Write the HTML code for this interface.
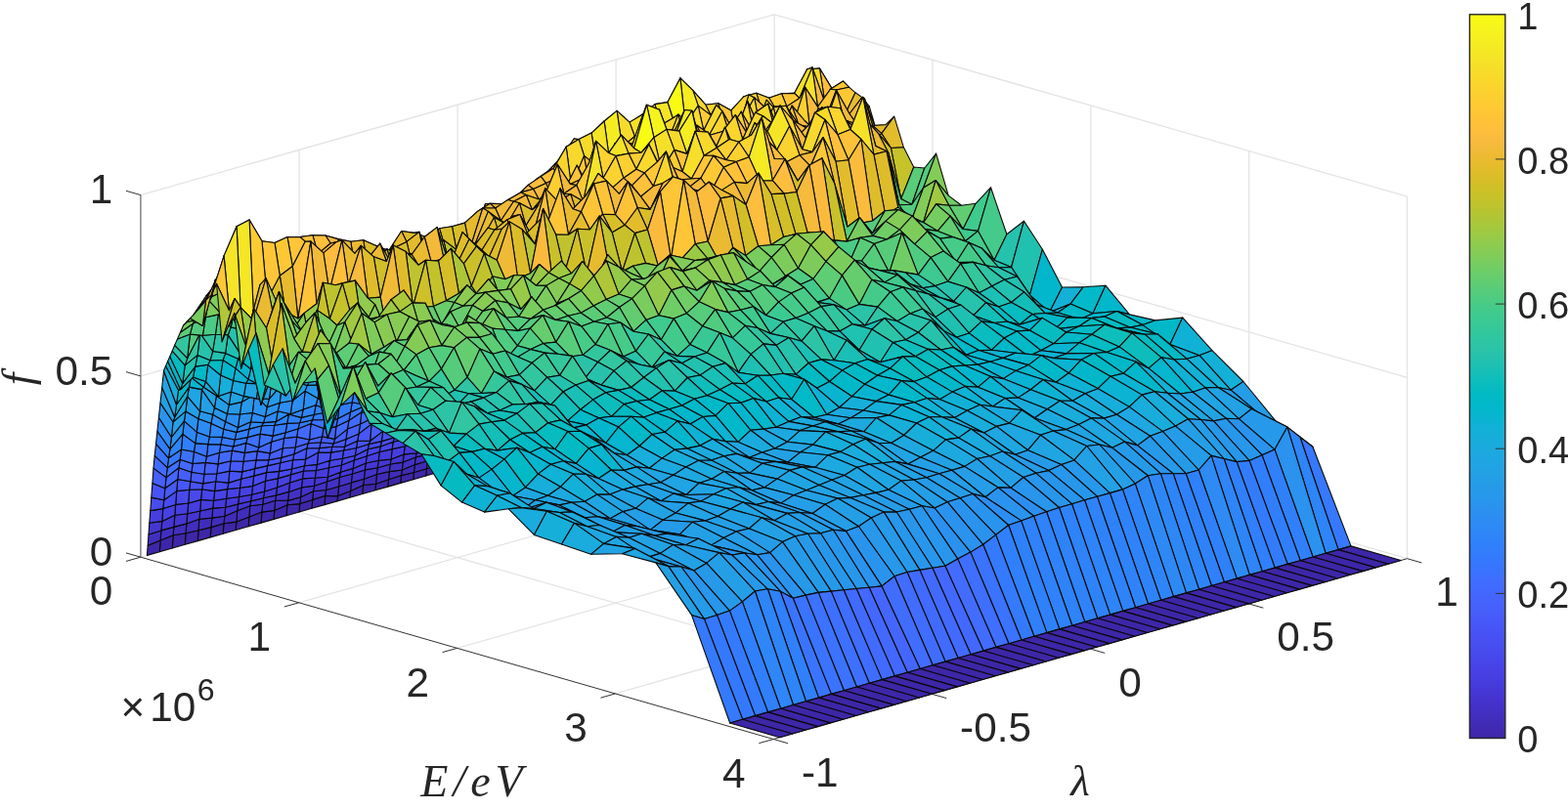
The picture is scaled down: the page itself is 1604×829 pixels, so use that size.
<!DOCTYPE html>
<html lang="en"><head><meta charset="utf-8"><title>f(E, lambda) surface</title>
<style>html,body{margin:0;padding:0;background:#fff}body{width:1604px;height:829px;overflow:hidden}svg{display:block}.t{font-family:"Liberation Sans",Arial,Helvetica,sans-serif;fill:#262626}.m{font-family:"Liberation Serif","DejaVu Serif",serif;font-style:italic;fill:#262626}.g{stroke:#e4e4e4;stroke-width:1.3;fill:none}.a{stroke:#333;stroke-width:1;fill:none}.z{stroke:#777;stroke-width:1.4;fill:none}.s path{stroke:#0a0a0a;stroke-width:1.1;stroke-linejoin:round}</style></head><body>
<svg width="1604" height="829" viewBox="0 0 1604 829">
<rect width="1604" height="829" fill="#fff"/>
<path class="g" d="M305.7,616.8L954,432M467.6,663.4L1115.9,478.5M629.4,709.9L1277.7,525.1M306,524L953.3,710.3M468.1,477.8L1115.4,664.1M630.1,431.6L1277.4,617.9M306,524L306,153.4M468.1,477.8L468.1,107.2M630.1,431.6L630.1,61M792.2,385.4L792.2,14.8M143.9,570.2L792.2,385.4M143.9,384.9L792.2,200.1M143.9,199.6L792.2,14.8M954,432L954,61.4M1115.9,478.5L1115.9,107.9M1277.7,525.1L1277.7,154.5M1439.5,571.7L1439.5,201.1M792.2,385.4L1439.5,571.7M792.2,200.1L1439.5,386.4M792.2,14.8L1439.5,201.1"/>
<path class="z" d="M143.9,570.2L143.9,199.6"/>
<path class="a" d="M143.9,570.2L791.2,756.5M791.2,756.5L1439.5,571.7M143.9,570.2L129,565.9M143.9,384.9L129,380.6M143.9,199.6L129,195.3M143.9,570.2L129,574.4M305.7,616.8L290.8,621M467.6,663.4L452.6,667.6M629.4,709.9L614.5,714.2M791.2,756.5L776.3,760.7M791.2,756.5L806.1,760.8M953.3,710.3L968.2,714.6M1115.4,664.1L1130.2,668.4M1277.4,617.9L1292.3,622.2M1439.5,571.7L1454.4,576"/>
<g class="s">
<path fill="#3e26a8" d="M772.8,390.9L773.5,381.9 786.5,378.6 785.7,387.2Z"/>
<path fill="#412cba" d="M773.5,381.9L774.3,376.7 787.3,371.3 786.5,378.6Z"/>
<path fill="#4330c5" d="M774.3,376.7L775.2,368.6 788.2,363 787.3,371.3Z"/>
<path fill="#4536d4" d="M775.2,368.6L776.2,361.8 789.1,356.3 788.2,363Z"/>
<path fill="#463cdf" d="M776.2,361.8L777.2,355.6 790.1,352 789.1,356.3Z"/>
<path fill="#4742e6" d="M777.2,355.6L778.2,348.3 791.2,347.2 790.1,352Z"/>
<path fill="#4747ec" d="M778.2,348.3L779.4,340.3 792.3,339.3 791.2,347.2Z"/>
<path fill="#484ff2" d="M779.4,340.3L780.6,334.4 793.6,334 792.3,339.3Z"/>
<path fill="#4755f6" d="M780.6,334.4L781.9,327.1 794.9,325.6 793.6,334Z"/>
<path fill="#465dfa" d="M781.9,327.1L783.3,319 796.3,310.9 794.9,325.6Z"/>
<path fill="#4368fd" d="M783.3,319L784.8,311.6 797.8,303.5 796.3,310.9Z"/>
<path fill="#3e70ff" d="M784.8,311.6L786.4,306.4 799.4,300.2 797.8,303.5Z"/>
<path fill="#3876fe" d="M786.4,306.4L788.1,291.2 801.1,292.6 799.4,300.2Z"/>
<path fill="#2f80fa" d="M788.1,291.2L789.9,285.8 802.9,284 801.1,292.6Z"/>
<path fill="#2d89f5" d="M789.9,285.8L791.9,276.8 804.8,282.4 802.9,284Z"/>
<path fill="#2d8bf4" d="M791.9,276.8L794,273.7 806.9,266.4 804.8,282.4Z"/>
<path fill="#2796eb" d="M794,273.7L796.2,258.9 809.1,264.4 806.9,266.4Z"/>
<path fill="#259be7" d="M796.2,258.9L798.6,253.7 811.5,261.4 809.1,264.4Z"/>
<path fill="#249ee6" d="M798.6,253.7L801.1,249.9 814.1,249.7 811.5,261.4Z"/>
<path fill="#1da8e0" d="M801.1,249.9L803.8,230.1 816.8,237.6 814.1,249.7Z"/>
<path fill="#12b1d6" d="M803.8,230.1L806.7,230.5 819.7,221 816.8,237.6Z"/>
<path fill="#01b7ca" d="M806.7,230.5L809.9,212.9 822.8,211 819.7,221Z"/>
<path fill="#16bfb7" d="M809.9,212.9L813.2,193.1 826.1,196.3 822.8,211Z"/>
<path fill="#2ec5a4" d="M813.2,193.1L816.7,168.8 829.7,192.5 826.1,196.3Z"/>
<path fill="#33c69d" d="M816.7,168.8L820.5,148 833.5,158.8 829.7,192.5Z"/>
<path fill="#74cc62" d="M820.5,148L824.6,114.2 837.6,133 833.5,158.8Z"/>
<path fill="#b5c533" d="M824.6,114.2L828.9,109.6 841.9,112.9 837.6,133Z"/>
<path fill="#e0bc2a" d="M828.9,109.6L833.6,70.8 846.5,90 841.9,112.9Z"/>
<path fill="#fec13a" d="M833.6,70.8L838.5,70 851.5,91.4 846.5,90Z"/>
<path fill="#fec03a" d="M838.5,70L843.8,104.8 856.8,131.5 851.5,91.4Z"/>
<path fill="#c5c22a" d="M843.8,104.8L849.5,91.2 862.5,83 856.8,131.5Z"/>
<path fill="#fec835" d="M849.5,91.2L855.6,92 868.5,89.2 862.5,83Z"/>
<path fill="#fec835" d="M855.6,92L862,122.2 875,94.8 868.5,89.2Z"/>
<path fill="#e7bb2e" d="M862,122.2L869,116.5 881.9,99.6 875,94.8Z"/>
<path fill="#f3ba38" d="M869,116.5L876.4,126.9 889.3,108.8 881.9,99.6Z"/>
<path fill="#e6bb2d" d="M876.4,126.9L884.3,100.8 897.2,135.8 889.3,108.8Z"/>
<path fill="#d3bf27" d="M884.3,100.8L892.7,128.5 905.7,127.8 897.2,135.8Z"/>
<path fill="#e6bb2d" d="M892.7,128.5L901.8,136.6 914.7,119.2 905.7,127.8Z"/>
<path fill="#e2bc2b" d="M901.8,136.6L911.4,151.5 924.4,150.8 914.7,119.2Z"/>
<path fill="#c5c22a" d="M911.4,151.5L921.7,203.6 934.7,171 924.4,150.8Z"/>
<path fill="#59cc79" d="M921.7,203.6L932.8,209.2 945.8,172 934.7,171Z"/>
<path fill="#53cc7d" d="M932.8,209.2L944.6,192.3 957.6,157.1 945.8,172Z"/>
<path fill="#83cc57" d="M944.6,192.3L957.2,184.5 970.2,200.1 957.6,157.1Z"/>
<path fill="#6fcd66" d="M957.2,184.5L970.7,210.2 983.6,210.2 970.2,200.1Z"/>
<path fill="#61cd72" d="M970.7,210.2L985.1,234.5 998.1,208.3 983.6,210.2Z"/>
<path fill="#3fca8e" d="M985.1,234.5L1000.5,236.4 1013.5,191.8 998.1,208.3Z"/>
<path fill="#44ca8a" d="M1000.5,236.4L1017,266.3 1029.9,239.8 1013.5,191.8Z"/>
<path fill="#25c2ad" d="M1017,266.3L1034.6,273.5 1047.5,226.2 1029.9,239.8Z"/>
<path fill="#21c1b0" d="M1034.6,273.5L1053.4,301.9 1066.4,255.2 1047.5,226.2Z"/>
<path fill="#02b7cb" d="M1053.4,301.9L1073.5,319.7 1086.5,294 1066.4,255.2Z"/>
<path fill="#13b1d7" d="M1073.5,319.7L1095,311.1 1108,293.8 1086.5,294Z"/>
<path fill="#01b9c8" d="M1095,311.1L1118,320.7 1130.9,292.2 1108,293.8Z"/>
<path fill="#02b7cb" d="M1118,320.7L1142.6,318.5 1155.5,321.9 1130.9,292.2Z"/>
<path fill="#01b8c9" d="M1142.6,318.5L1168.8,332.6 1181.8,327.9 1155.5,321.9Z"/>
<path fill="#01b8c8" d="M1168.8,332.6L1196.9,352.4 1209.8,325.1 1181.8,327.9Z"/>
<path fill="#0fb2d4" d="M1196.9,352.4L1226.9,363.7 1239.9,358.7 1209.8,325.1Z"/>
<path fill="#13b1d7" d="M1226.9,363.7L1259,399.2 1271.9,390.5 1239.9,358.7Z"/>
<path fill="#249de6" d="M1259,399.2L1293.3,427.8 1306.2,432.4 1271.9,390.5Z"/>
<path fill="#2e86f8" d="M1293.3,427.8L1329.9,447.2 1342.9,457.2 1306.2,432.4Z"/>
<path fill="#3678fe" d="M1329.9,447.2L1369.1,562.6 1382,558.9 1342.9,457.2Z"/>
<path fill="#3e26a8" d="M1369.1,562.6L1420.1,577.2 1433,573.5 1382,558.9Z"/>
<path fill="#3e26a8" d="M759.8,394.6L760.6,388.8 773.5,381.9 772.8,390.9Z"/>
<path fill="#412dbb" d="M760.6,388.8L761.4,380 774.3,376.7 773.5,381.9Z"/>
<path fill="#4330c5" d="M761.4,380L762.2,370.7 775.2,368.6 774.3,376.7Z"/>
<path fill="#4536d4" d="M762.2,370.7L763.2,364.4 776.2,361.8 775.2,368.6Z"/>
<path fill="#463cdf" d="M763.2,364.4L764.2,356.1 777.2,355.6 776.2,361.8Z"/>
<path fill="#4743e7" d="M764.2,356.1L765.3,350.1 778.2,348.3 777.2,355.6Z"/>
<path fill="#484aee" d="M765.3,350.1L766.4,343.4 779.4,340.3 778.2,348.3Z"/>
<path fill="#4852f4" d="M766.4,343.4L767.6,337.5 780.6,334.4 779.4,340.3Z"/>
<path fill="#4758f8" d="M767.6,337.5L768.9,331.9 781.9,327.1 780.6,334.4Z"/>
<path fill="#465ffb" d="M768.9,331.9L770.3,322.3 783.3,319 781.9,327.1Z"/>
<path fill="#4368fd" d="M770.3,322.3L771.8,315.6 784.8,311.6 783.3,319Z"/>
<path fill="#3e70ff" d="M771.8,315.6L773.4,306.2 786.4,306.4 784.8,311.6Z"/>
<path fill="#3876fe" d="M773.4,306.2L775.1,297.4 788.1,291.2 786.4,306.4Z"/>
<path fill="#2e85f8" d="M775.1,297.4L777,290.4 789.9,285.8 788.1,291.2Z"/>
<path fill="#2d8bf4" d="M777,290.4L778.9,279.5 791.9,276.8 789.9,285.8Z"/>
<path fill="#2a93ed" d="M778.9,279.5L781,274.2 794,273.7 791.9,276.8Z"/>
<path fill="#2796eb" d="M781,274.2L783.2,264 796.2,258.9 794,273.7Z"/>
<path fill="#21a3e3" d="M783.2,264L785.6,256.4 798.6,253.7 796.2,258.9Z"/>
<path fill="#1ea7e1" d="M785.6,256.4L788.1,249.5 801.1,249.9 798.6,253.7Z"/>
<path fill="#1babde" d="M788.1,249.5L790.9,234.7 803.8,230.1 801.1,249.9Z"/>
<path fill="#02b7cb" d="M790.9,234.7L793.8,229.1 806.7,230.5 803.8,230.1Z"/>
<path fill="#01b7ca" d="M793.8,229.1L796.9,209 809.9,212.9 806.7,230.5Z"/>
<path fill="#19bfb5" d="M796.9,209L800.2,196.3 813.2,193.1 809.9,212.9Z"/>
<path fill="#35c79a" d="M800.2,196.3L803.8,169.1 816.7,168.8 813.2,193.1Z"/>
<path fill="#63cd70" d="M803.8,169.1L807.6,145.1 820.5,148 816.7,168.8Z"/>
<path fill="#98c947" d="M807.6,145.1L811.6,140.1 824.6,114.2 820.5,148Z"/>
<path fill="#e2bc2b" d="M811.6,140.1L816,140.2 828.9,109.6 824.6,114.2Z"/>
<path fill="#ecba32" d="M816,140.2L820.6,99.6 833.6,70.8 828.9,109.6Z"/>
<path fill="#f8d82c" d="M820.6,99.6L825.6,70.9 838.5,70 833.6,70.8Z"/>
<path fill="#f7db2b" d="M825.6,70.9L830.9,68.9 843.8,104.8 838.5,70Z"/>
<path fill="#f9bb3d" d="M830.9,68.9L836.5,109.4 849.5,91.2 843.8,104.8Z"/>
<path fill="#fec835" d="M836.5,109.4L842.6,126.5 855.6,92 849.5,91.2Z"/>
<path fill="#fec834" d="M842.6,126.5L849.1,118.9 862,122.2 855.6,92Z"/>
<path fill="#e7bb2e" d="M849.1,118.9L856,93.2 869,116.5 862,122.2Z"/>
<path fill="#f3ba38" d="M856,93.2L863.4,122.8 876.4,126.9 869,116.5Z"/>
<path fill="#e6bb2d" d="M863.4,122.8L871.3,129.8 884.3,100.8 876.4,126.9Z"/>
<path fill="#fec835" d="M871.3,129.8L879.8,136.2 892.7,128.5 884.3,100.8Z"/>
<path fill="#ebba31" d="M879.8,136.2L888.8,149.3 901.8,136.6 892.7,128.5Z"/>
<path fill="#e2bc2b" d="M888.8,149.3L898.5,136.6 911.4,151.5 901.8,136.6Z"/>
<path fill="#cbc029" d="M898.5,136.6L908.8,156.4 921.7,203.6 911.4,151.5Z"/>
<path fill="#59cc79" d="M908.8,156.4L919.8,209.8 932.8,209.2 921.7,203.6Z"/>
<path fill="#53cc7d" d="M919.8,209.8L931.6,227.7 944.6,192.3 932.8,209.2Z"/>
<path fill="#83cc57" d="M931.6,227.7L944.2,229.1 957.2,184.5 944.6,192.3Z"/>
<path fill="#9fc941" d="M944.2,229.1L957.7,208.9 970.7,210.2 957.2,184.5Z"/>
<path fill="#69cd6a" d="M957.7,208.9L972.1,221.2 985.1,234.5 970.7,210.2Z"/>
<path fill="#3fca8e" d="M972.1,221.2L987.5,246.8 1000.5,236.4 985.1,234.5Z"/>
<path fill="#44ca8a" d="M987.5,246.8L1004,253.9 1017,266.3 1000.5,236.4Z"/>
<path fill="#25c2ad" d="M1004,253.9L1021.6,273.8 1034.6,273.5 1017,266.3Z"/>
<path fill="#21c1b0" d="M1021.6,273.8L1040.4,283 1053.4,301.9 1034.6,273.5Z"/>
<path fill="#02b7cb" d="M1040.4,283L1060.5,311.8 1073.5,319.7 1053.4,301.9Z"/>
<path fill="#13b1d7" d="M1060.5,311.8L1082,320 1095,311.1 1073.5,319.7Z"/>
<path fill="#01b9c8" d="M1082,320L1105,326.7 1118,320.7 1095,311.1Z"/>
<path fill="#02b7cb" d="M1105,326.7L1129.6,324.1 1142.6,318.5 1118,320.7Z"/>
<path fill="#06bbc1" d="M1129.6,324.1L1155.8,335 1168.8,332.6 1142.6,318.5Z"/>
<path fill="#01b8c8" d="M1155.8,335L1183.9,341.8 1196.9,352.4 1168.8,332.6Z"/>
<path fill="#0fb2d4" d="M1183.9,341.8L1213.9,367.2 1226.9,363.7 1196.9,352.4Z"/>
<path fill="#13b1d7" d="M1213.9,367.2L1246,396.5 1259,399.2 1226.9,363.7Z"/>
<path fill="#249de6" d="M1246,396.5L1280.3,418.5 1293.3,427.8 1259,399.2Z"/>
<path fill="#2d8df2" d="M1280.3,418.5L1316.9,437.1 1329.9,447.2 1293.3,427.8Z"/>
<path fill="#2e85f8" d="M1316.9,437.1L1356.1,566.3 1369.1,562.6 1329.9,447.2Z"/>
<path fill="#3e26a8" d="M1356.1,566.3L1407.1,580.9 1420.1,577.2 1369.1,562.6Z"/>
<path fill="#3e26a8" d="M746.8,398.3L747.6,391 760.6,388.8 759.8,394.6Z"/>
<path fill="#402ab5" d="M747.6,391L748.4,383.5 761.4,380 760.6,388.8Z"/>
<path fill="#4331c6" d="M748.4,383.5L749.3,376.2 762.2,370.7 761.4,380Z"/>
<path fill="#4538d7" d="M749.3,376.2L750.2,369.8 763.2,364.4 762.2,370.7Z"/>
<path fill="#463de0" d="M750.2,369.8L751.2,365.8 764.2,356.1 763.2,364.4Z"/>
<path fill="#4746ea" d="M751.2,365.8L752.3,356.4 765.3,350.1 764.2,356.1Z"/>
<path fill="#484cef" d="M752.3,356.4L753.4,346 766.4,343.4 765.3,350.1Z"/>
<path fill="#4852f4" d="M753.4,346L754.7,338.9 767.6,337.5 766.4,343.4Z"/>
<path fill="#4758f8" d="M754.7,338.9L756,332.7 768.9,331.9 767.6,337.5Z"/>
<path fill="#465efb" d="M756,332.7L757.4,323.8 770.3,322.3 768.9,331.9Z"/>
<path fill="#4368fe" d="M757.4,323.8L758.9,318.4 771.8,315.6 770.3,322.3Z"/>
<path fill="#3e6fff" d="M758.9,318.4L760.5,313.6 773.4,306.2 771.8,315.6Z"/>
<path fill="#347afd" d="M760.5,313.6L762.2,302.5 775.1,297.4 773.4,306.2Z"/>
<path fill="#2e83f9" d="M762.2,302.5L764,296 777,290.4 775.1,297.4Z"/>
<path fill="#2d8af5" d="M764,296L765.9,283.6 778.9,279.5 777,290.4Z"/>
<path fill="#2994ed" d="M765.9,283.6L768,276.4 781,274.2 778.9,279.5Z"/>
<path fill="#2699e9" d="M768,276.4L770.2,275.8 783.2,264 781,274.2Z"/>
<path fill="#22a2e4" d="M770.2,275.8L772.6,261 785.6,256.4 783.2,264Z"/>
<path fill="#1da8e0" d="M772.6,261L775.2,244.7 788.1,249.5 785.6,256.4Z"/>
<path fill="#18aedb" d="M775.2,244.7L777.9,238.8 790.9,234.7 788.1,249.5Z"/>
<path fill="#03b7cc" d="M777.9,238.8L780.8,233.3 793.8,229.1 790.9,234.7Z"/>
<path fill="#02bac5" d="M780.8,233.3L783.9,214 796.9,209 793.8,229.1Z"/>
<path fill="#27c2ac" d="M783.9,214L787.2,209.1 800.2,196.3 796.9,209Z"/>
<path fill="#35c79a" d="M787.2,209.1L790.8,163.3 803.8,169.1 800.2,196.3Z"/>
<path fill="#6acd6a" d="M790.8,163.3L794.6,165.3 807.6,145.1 803.8,169.1Z"/>
<path fill="#a8c73b" d="M794.6,165.3L798.7,157.9 811.6,140.1 807.6,145.1Z"/>
<path fill="#b6c532" d="M798.7,157.9L803,135.2 816,140.2 811.6,140.1Z"/>
<path fill="#b9c431" d="M803,135.2L807.6,142.4 820.6,99.6 816,140.2Z"/>
<path fill="#febe3c" d="M807.6,142.4L812.6,95.4 825.6,70.9 820.6,99.6Z"/>
<path fill="#f6de29" d="M812.6,95.4L817.9,100.5 830.9,68.9 825.6,70.9Z"/>
<path fill="#f5e228" d="M817.9,100.5L823.6,89.2 836.5,109.4 830.9,68.9Z"/>
<path fill="#fabb3d" d="M823.6,89.2L829.6,141.7 842.6,126.5 836.5,109.4Z"/>
<path fill="#e3bc2c" d="M829.6,141.7L836.1,145.5 849.1,118.9 842.6,126.5Z"/>
<path fill="#f2ba37" d="M836.1,145.5L843,130.2 856,93.2 849.1,118.9Z"/>
<path fill="#fccf30" d="M843,130.2L850.4,115.2 863.4,122.8 856,93.2Z"/>
<path fill="#f2ba38" d="M850.4,115.2L858.3,135.6 871.3,129.8 863.4,122.8Z"/>
<path fill="#ebba31" d="M858.3,135.6L866.8,124 879.8,136.2 871.3,129.8Z"/>
<path fill="#e4bb2c" d="M866.8,124L875.8,146.4 888.8,149.3 879.8,136.2Z"/>
<path fill="#d1bf27" d="M875.8,146.4L885.5,122.2 898.5,136.6 888.8,149.3Z"/>
<path fill="#ecba33" d="M885.5,122.2L895.8,149.5 908.8,156.4 898.5,136.6Z"/>
<path fill="#cfc028" d="M895.8,149.5L906.9,154.8 919.8,209.8 908.8,156.4Z"/>
<path fill="#5acc77" d="M906.9,154.8L918.7,212.1 931.6,227.7 919.8,209.8Z"/>
<path fill="#3dca90" d="M918.7,212.1L931.3,221.2 944.2,229.1 931.6,227.7Z"/>
<path fill="#41ca8c" d="M931.3,221.2L944.7,227.7 957.7,208.9 944.2,229.1Z"/>
<path fill="#76cc61" d="M944.7,227.7L959.2,236.4 972.1,221.2 957.7,208.9Z"/>
<path fill="#62cd70" d="M959.2,236.4L974.6,242.6 987.5,246.8 972.1,221.2Z"/>
<path fill="#39c994" d="M974.6,242.6L991,248.2 1004,253.9 987.5,246.8Z"/>
<path fill="#36c898" d="M991,248.2L1008.6,271.8 1021.6,273.8 1004,253.9Z"/>
<path fill="#27c2ac" d="M1008.6,271.8L1027.5,286.2 1040.4,283 1021.6,273.8Z"/>
<path fill="#21c1b1" d="M1027.5,286.2L1047.6,298.8 1060.5,311.8 1040.4,283Z"/>
<path fill="#02b7cb" d="M1047.6,298.8L1069.1,320.5 1082,320 1060.5,311.8Z"/>
<path fill="#05b6cd" d="M1069.1,320.5L1092.1,324.9 1105,326.7 1082,320Z"/>
<path fill="#05b6cd" d="M1092.1,324.9L1116.6,325.5 1129.6,324.1 1105,326.7Z"/>
<path fill="#02bbc3" d="M1116.6,325.5L1142.9,335.9 1155.8,335 1129.6,324.1Z"/>
<path fill="#01b9c6" d="M1142.9,335.9L1171,342.2 1183.9,341.8 1155.8,335Z"/>
<path fill="#01bac5" d="M1171,342.2L1201,368 1213.9,367.2 1183.9,341.8Z"/>
<path fill="#12b1d7" d="M1201,368L1233,396.9 1246,396.5 1213.9,367.2Z"/>
<path fill="#22a2e4" d="M1233,396.9L1267.3,428.7 1280.3,418.5 1246,396.5Z"/>
<path fill="#2699ea" d="M1267.3,428.7L1304,460.1 1316.9,437.1 1280.3,418.5Z"/>
<path fill="#2b92ef" d="M1304,460.1L1343.1,570 1356.1,566.3 1316.9,437.1Z"/>
<path fill="#3e26a8" d="M1343.1,570L1394.1,584.6 1407.1,580.9 1356.1,566.3Z"/>
<path fill="#3e26a8" d="M733.9,402L734.6,395.6 747.6,391 746.8,398.3Z"/>
<path fill="#402bb8" d="M734.6,395.6L735.4,388.5 748.4,383.5 747.6,391Z"/>
<path fill="#4331c6" d="M735.4,388.5L736.3,379.7 749.3,376.2 748.4,383.5Z"/>
<path fill="#4536d4" d="M736.3,379.7L737.3,374.2 750.2,369.8 749.3,376.2Z"/>
<path fill="#463cde" d="M737.3,374.2L738.3,368.7 751.2,365.8 750.2,369.8Z"/>
<path fill="#4740e3" d="M738.3,368.7L739.3,362.9 752.3,356.4 751.2,365.8Z"/>
<path fill="#4849ed" d="M739.3,362.9L740.5,352.4 753.4,346 752.3,356.4Z"/>
<path fill="#4854f5" d="M740.5,352.4L741.7,343.6 754.7,338.9 753.4,346Z"/>
<path fill="#475bf9" d="M741.7,343.6L743,336.9 756,332.7 754.7,338.9Z"/>
<path fill="#4561fc" d="M743,336.9L744.4,331.6 757.4,323.8 756,332.7Z"/>
<path fill="#426afe" d="M744.4,331.6L745.9,321.4 758.9,318.4 757.4,323.8Z"/>
<path fill="#3d70ff" d="M745.9,321.4L747.5,313.7 760.5,313.6 758.9,318.4Z"/>
<path fill="#3876fe" d="M747.5,313.7L749.2,308.2 762.2,302.5 760.5,313.6Z"/>
<path fill="#2f82fa" d="M749.2,308.2L751,303 764,296 762.2,302.5Z"/>
<path fill="#2d88f6" d="M751,303L753,287.3 765.9,283.6 764,296Z"/>
<path fill="#2994ed" d="M753,287.3L755.1,281.5 768,276.4 765.9,283.6Z"/>
<path fill="#269ae8" d="M755.1,281.5L757.3,272.5 770.2,275.8 768,276.4Z"/>
<path fill="#259be8" d="M757.3,272.5L759.7,256.8 772.6,261 770.2,275.8Z"/>
<path fill="#1ea7e1" d="M759.7,256.8L762.2,252.9 775.2,244.7 772.6,261Z"/>
<path fill="#0cb3d3" d="M762.2,252.9L764.9,244.9 777.9,238.8 775.2,244.7Z"/>
<path fill="#03b7cc" d="M764.9,244.9L767.8,237.9 780.8,233.3 777.9,238.8Z"/>
<path fill="#01bac5" d="M767.8,237.9L771,225.1 783.9,214 780.8,233.3Z"/>
<path fill="#25c2ad" d="M771,225.1L774.3,191.8 787.2,209.1 783.9,214Z"/>
<path fill="#2dc4a6" d="M774.3,191.8L777.8,189.1 790.8,163.3 787.2,209.1Z"/>
<path fill="#82cc58" d="M777.8,189.1L781.6,177.6 794.6,165.3 790.8,163.3Z"/>
<path fill="#80cc59" d="M781.6,177.6L785.7,166.3 798.7,157.9 794.6,165.3Z"/>
<path fill="#95ca49" d="M785.7,166.3L790,157.5 803,135.2 798.7,157.9Z"/>
<path fill="#cbc129" d="M790,157.5L794.7,122.7 807.6,142.4 803,135.2Z"/>
<path fill="#bfc32d" d="M794.7,122.7L799.6,95.8 812.6,95.4 807.6,142.4Z"/>
<path fill="#fec835" d="M799.6,95.8L804.9,108.9 817.9,100.5 812.6,95.4Z"/>
<path fill="#fec438" d="M804.9,108.9L810.6,130.1 823.6,89.2 817.9,100.5Z"/>
<path fill="#fbd12f" d="M810.6,130.1L816.7,140.5 829.6,141.7 823.6,89.2Z"/>
<path fill="#cdc028" d="M816.7,140.5L823.1,123.5 836.1,145.5 829.6,141.7Z"/>
<path fill="#c9c129" d="M823.1,123.5L830.1,130 843,130.2 836.1,145.5Z"/>
<path fill="#e9bb30" d="M830.1,130L837.5,119.3 850.4,115.2 843,130.2Z"/>
<path fill="#febf3c" d="M837.5,119.3L845.4,134.9 858.3,135.6 850.4,115.2Z"/>
<path fill="#e7bb2e" d="M845.4,134.9L853.8,148.6 866.8,124 858.3,135.6Z"/>
<path fill="#fbbc3d" d="M853.8,148.6L862.9,132.5 875.8,146.4 866.8,124Z"/>
<path fill="#debd29" d="M862.9,132.5L872.5,139.4 885.5,122.2 875.8,146.4Z"/>
<path fill="#fec239" d="M872.5,139.4L882.8,99.4 895.8,149.5 885.5,122.2Z"/>
<path fill="#e2bc2b" d="M882.8,99.4L893.9,158.1 906.9,154.8 895.8,149.5Z"/>
<path fill="#dfbc2a" d="M893.9,158.1L905.7,220 918.7,212.1 906.9,154.8Z"/>
<path fill="#65cd6e" d="M905.7,220L918.3,215.5 931.3,221.2 918.7,212.1Z"/>
<path fill="#59cc79" d="M918.3,215.5L931.8,223.2 944.7,227.7 931.3,221.2Z"/>
<path fill="#53cc7d" d="M931.8,223.2L946.2,234.6 959.2,236.4 944.7,227.7Z"/>
<path fill="#49cb85" d="M946.2,234.6L961.6,244.1 974.6,242.6 959.2,236.4Z"/>
<path fill="#46cb88" d="M961.6,244.1L978.1,268.5 991,248.2 974.6,242.6Z"/>
<path fill="#44cb89" d="M978.1,268.5L995.7,268.4 1008.6,271.8 991,248.2Z"/>
<path fill="#2ec4a5" d="M995.7,268.4L1014.5,292.9 1027.5,286.2 1008.6,271.8Z"/>
<path fill="#22c1b0" d="M1014.5,292.9L1034.6,309.5 1047.6,298.8 1027.5,286.2Z"/>
<path fill="#14beb8" d="M1034.6,309.5L1056.1,321.5 1069.1,320.5 1047.6,298.8Z"/>
<path fill="#01b8ca" d="M1056.1,321.5L1079.1,336.9 1092.1,324.9 1069.1,320.5Z"/>
<path fill="#01b9c7" d="M1079.1,336.9L1103.7,334 1116.6,325.5 1092.1,324.9Z"/>
<path fill="#06bcc0" d="M1103.7,334L1129.9,332.2 1142.9,335.9 1116.6,325.5Z"/>
<path fill="#02bac3" d="M1129.9,332.2L1158,340.9 1171,342.2 1142.9,335.9Z"/>
<path fill="#04bbc1" d="M1158,340.9L1188,365.8 1201,368 1171,342.2Z"/>
<path fill="#0eb2d4" d="M1188,365.8L1220.1,401.3 1233,396.9 1201,368Z"/>
<path fill="#20a5e2" d="M1220.1,401.3L1254.4,428.3 1267.3,428.7 1233,396.9Z"/>
<path fill="#2a93ee" d="M1254.4,428.3L1291,465.7 1304,460.1 1267.3,428.7Z"/>
<path fill="#3080fa" d="M1291,465.7L1330.2,573.7 1343.1,570 1304,460.1Z"/>
<path fill="#3e26a8" d="M1330.2,573.7L1381.2,588.3 1394.1,584.6 1343.1,570Z"/>
<path fill="#3e26a8" d="M720.9,405.7L721.7,400.1 734.6,395.6 733.9,402Z"/>
<path fill="#402bb6" d="M721.7,400.1L722.5,393 735.4,388.5 734.6,395.6Z"/>
<path fill="#4230c4" d="M722.5,393L723.4,384.1 736.3,379.7 735.4,388.5Z"/>
<path fill="#4536d4" d="M723.4,384.1L724.3,377.9 737.3,374.2 736.3,379.7Z"/>
<path fill="#463bdd" d="M724.3,377.9L725.3,370.9 738.3,368.7 737.3,374.2Z"/>
<path fill="#4741e4" d="M725.3,370.9L726.4,363.2 739.3,362.9 738.3,368.7Z"/>
<path fill="#4747eb" d="M726.4,363.2L727.5,357.6 740.5,352.4 739.3,362.9Z"/>
<path fill="#4851f3" d="M727.5,357.6L728.7,348.1 741.7,343.6 740.5,352.4Z"/>
<path fill="#475af9" d="M728.7,348.1L730,342.2 743,336.9 741.7,343.6Z"/>
<path fill="#4660fc" d="M730,342.2L731.4,333.1 744.4,331.6 743,336.9Z"/>
<path fill="#4466fd" d="M731.4,333.1L732.9,329.6 745.9,321.4 744.4,331.6Z"/>
<path fill="#3c71ff" d="M732.9,329.6L734.5,323.2 747.5,313.7 745.9,321.4Z"/>
<path fill="#347afd" d="M734.5,323.2L736.2,314.2 749.2,308.2 747.5,313.7Z"/>
<path fill="#3080fb" d="M736.2,314.2L738.1,302.1 751,303 749.2,308.2Z"/>
<path fill="#2e85f8" d="M738.1,302.1L740,292.5 753,287.3 751,303Z"/>
<path fill="#2994ed" d="M740,292.5L742.1,285.5 755.1,281.5 753,287.3Z"/>
<path fill="#2699e9" d="M742.1,285.5L744.3,281.9 757.3,272.5 755.1,281.5Z"/>
<path fill="#23a1e4" d="M744.3,281.9L746.7,265.4 759.7,256.8 757.3,272.5Z"/>
<path fill="#18addb" d="M746.7,265.4L749.2,245.1 762.2,252.9 759.7,256.8Z"/>
<path fill="#13b0d7" d="M749.2,245.1L752,254.5 764.9,244.9 762.2,252.9Z"/>
<path fill="#06b5cf" d="M752,254.5L754.9,237.6 767.8,237.9 764.9,244.9Z"/>
<path fill="#01b9c6" d="M754.9,237.6L758,243.4 771,225.1 767.8,237.9Z"/>
<path fill="#17bfb6" d="M758,243.4L761.3,216.5 774.3,191.8 771,225.1Z"/>
<path fill="#47cb87" d="M761.3,216.5L764.9,188.4 777.8,189.1 774.3,191.8Z"/>
<path fill="#4fcc81" d="M764.9,188.4L768.7,185.3 781.6,177.6 777.8,189.1Z"/>
<path fill="#6bcd69" d="M768.7,185.3L772.7,175.8 785.7,166.3 781.6,177.6Z"/>
<path fill="#89cb52" d="M772.7,175.8L777.1,147.5 790,157.5 785.7,166.3Z"/>
<path fill="#a2c840" d="M777.1,147.5L781.7,136.4 794.7,122.7 790,157.5Z"/>
<path fill="#ebba31" d="M781.7,136.4L786.7,100.2 799.6,95.8 794.7,122.7Z"/>
<path fill="#fdcb33" d="M786.7,100.2L792,109 804.9,108.9 799.6,95.8Z"/>
<path fill="#febf3b" d="M792,109L797.6,133.3 810.6,130.1 804.9,108.9Z"/>
<path fill="#e6bb2d" d="M797.6,133.3L803.7,136.3 816.7,140.5 810.6,130.1Z"/>
<path fill="#d7be28" d="M803.7,136.3L810.2,108.2 823.1,123.5 816.7,140.5Z"/>
<path fill="#f6ba3b" d="M810.2,108.2L817.1,128.1 830.1,130 823.1,123.5Z"/>
<path fill="#efba35" d="M817.1,128.1L824.5,130.8 837.5,119.3 830.1,130Z"/>
<path fill="#febe3c" d="M824.5,130.8L832.4,138.9 845.4,134.9 837.5,119.3Z"/>
<path fill="#eeba34" d="M832.4,138.9L840.9,109.6 853.8,148.6 845.4,134.9Z"/>
<path fill="#dcbd29" d="M840.9,109.6L849.9,135.4 862.9,132.5 853.8,148.6Z"/>
<path fill="#f9bb3d" d="M849.9,135.4L859.6,110.8 872.5,139.4 862.9,132.5Z"/>
<path fill="#f3ba39" d="M859.6,110.8L869.9,132.5 882.8,99.4 872.5,139.4Z"/>
<path fill="#f6e128" d="M869.9,132.5L880.9,142.5 893.9,158.1 882.8,99.4Z"/>
<path fill="#dfbc2a" d="M880.9,142.5L892.7,226 905.7,220 893.9,158.1Z"/>
<path fill="#5bcc76" d="M892.7,226L905.3,215.7 918.3,215.5 905.7,220Z"/>
<path fill="#6ecd67" d="M905.3,215.7L918.8,214.6 931.8,223.2 918.3,215.5Z"/>
<path fill="#65cd6e" d="M918.8,214.6L933.2,221 946.2,234.6 931.8,223.2Z"/>
<path fill="#55cc7c" d="M933.2,221L948.6,236.8 961.6,244.1 946.2,234.6Z"/>
<path fill="#4acb84" d="M948.6,236.8L965.1,257 978.1,268.5 961.6,244.1Z"/>
<path fill="#2fc5a2" d="M965.1,257L982.7,269.9 995.7,268.4 978.1,268.5Z"/>
<path fill="#34c79b" d="M982.7,269.9L1001.5,299.7 1014.5,292.9 995.7,268.4Z"/>
<path fill="#1cc0b4" d="M1001.5,299.7L1021.6,314.1 1034.6,309.5 1014.5,292.9Z"/>
<path fill="#06bcc0" d="M1021.6,314.1L1043.1,332.2 1056.1,321.5 1034.6,309.5Z"/>
<path fill="#01b9c7" d="M1043.1,332.2L1066.1,325.4 1079.1,336.9 1056.1,321.5Z"/>
<path fill="#08b4d0" d="M1066.1,325.4L1090.7,340 1103.7,334 1079.1,336.9Z"/>
<path fill="#01bac6" d="M1090.7,340L1116.9,342.2 1129.9,332.2 1103.7,334Z"/>
<path fill="#0ebebb" d="M1116.9,342.2L1145,354.9 1158,340.9 1129.9,332.2Z"/>
<path fill="#0dbdbc" d="M1145,354.9L1175,376.9 1188,365.8 1158,340.9Z"/>
<path fill="#05b6ce" d="M1175,376.9L1207.1,403 1220.1,401.3 1188,365.8Z"/>
<path fill="#20a4e3" d="M1207.1,403L1241.4,430.9 1254.4,428.3 1220.1,401.3Z"/>
<path fill="#2797eb" d="M1241.4,430.9L1278,471.4 1291,465.7 1254.4,428.3Z"/>
<path fill="#317efb" d="M1278,471.4L1317.2,577.4 1330.2,573.7 1291,465.7Z"/>
<path fill="#3e26a8" d="M1317.2,577.4L1368.2,592 1381.2,588.3 1330.2,573.7Z"/>
<path fill="#3e26a8" d="M707.9,409.4L708.7,403.7 721.7,400.1 720.9,405.7Z"/>
<path fill="#402ab4" d="M708.7,403.7L709.5,394.5 722.5,393 721.7,400.1Z"/>
<path fill="#422fc2" d="M709.5,394.5L710.4,388.8 723.4,384.1 722.5,393Z"/>
<path fill="#4536d3" d="M710.4,388.8L711.3,380.6 724.3,377.9 723.4,384.1Z"/>
<path fill="#463bdd" d="M711.3,380.6L712.3,373.1 725.3,370.9 724.3,377.9Z"/>
<path fill="#4742e6" d="M712.3,373.1L713.4,367.8 726.4,363.2 725.3,370.9Z"/>
<path fill="#484aee" d="M713.4,367.8L714.5,360.2 727.5,357.6 726.4,363.2Z"/>
<path fill="#4850f2" d="M714.5,360.2L715.8,353.7 728.7,348.1 727.5,357.6Z"/>
<path fill="#4759f8" d="M715.8,353.7L717.1,345.3 730,342.2 728.7,348.1Z"/>
<path fill="#465ffb" d="M717.1,345.3L718.5,339.6 731.4,333.1 730,342.2Z"/>
<path fill="#4368fe" d="M718.5,339.6L720,328.7 732.9,329.6 731.4,333.1Z"/>
<path fill="#406cfe" d="M720,328.7L721.6,324.7 734.5,323.2 732.9,329.6Z"/>
<path fill="#3a73fe" d="M721.6,324.7L723.3,316.6 736.2,314.2 734.5,323.2Z"/>
<path fill="#317dfb" d="M723.3,316.6L725.1,308.3 738.1,302.1 736.2,314.2Z"/>
<path fill="#2d89f5" d="M725.1,308.3L727,294.5 740,292.5 738.1,302.1Z"/>
<path fill="#2a92ee" d="M727,294.5L729.1,288.3 742.1,285.5 740,292.5Z"/>
<path fill="#2699e9" d="M729.1,288.3L731.4,288.7 744.3,281.9 742.1,285.5Z"/>
<path fill="#259ce7" d="M731.4,288.7L733.7,269.7 746.7,265.4 744.3,281.9Z"/>
<path fill="#1caadf" d="M733.7,269.7L736.3,264.1 749.2,245.1 746.7,265.4Z"/>
<path fill="#03b7cc" d="M736.3,264.1L739,260 752,254.5 749.2,245.1Z"/>
<path fill="#0fb2d5" d="M739,260L741.9,244 754.9,237.6 752,254.5Z"/>
<path fill="#04bbc2" d="M741.9,244L745,230.9 758,243.4 754.9,237.6Z"/>
<path fill="#01b9c7" d="M745,230.9L748.3,230.4 761.3,216.5 758,243.4Z"/>
<path fill="#2dc4a6" d="M748.3,230.4L751.9,190.4 764.9,188.4 761.3,216.5Z"/>
<path fill="#58cc79" d="M751.9,190.4L755.7,179.6 768.7,185.3 764.9,188.4Z"/>
<path fill="#61cd71" d="M755.7,179.6L759.8,150.2 772.7,175.8 768.7,185.3Z"/>
<path fill="#7bcc5d" d="M759.8,150.2L764.1,123.6 777.1,147.5 772.7,175.8Z"/>
<path fill="#c1c32c" d="M764.1,123.6L768.7,121.8 781.7,136.4 777.1,147.5Z"/>
<path fill="#d9bd28" d="M768.7,121.8L773.7,95.2 786.7,100.2 781.7,136.4Z"/>
<path fill="#feca33" d="M773.7,95.2L779,111.7 792,109 786.7,100.2Z"/>
<path fill="#fec338" d="M779,111.7L784.7,112.2 797.6,133.3 792,109Z"/>
<path fill="#e7bb2e" d="M784.7,112.2L790.7,117.4 803.7,136.3 797.6,133.3Z"/>
<path fill="#e5bb2d" d="M790.7,117.4L797.2,137.8 810.2,108.2 803.7,136.3Z"/>
<path fill="#fec934" d="M797.2,137.8L804.1,108.3 817.1,128.1 810.2,108.2Z"/>
<path fill="#f7ba3c" d="M804.1,108.3L811.5,123.4 824.5,130.8 817.1,128.1Z"/>
<path fill="#f6ba3c" d="M811.5,123.4L819.4,137.8 832.4,138.9 824.5,130.8Z"/>
<path fill="#eeba34" d="M819.4,137.8L827.9,127.4 840.9,109.6 832.4,138.9Z"/>
<path fill="#fcd12f" d="M827.9,127.4L836.9,111.9 849.9,135.4 840.9,109.6Z"/>
<path fill="#fabb3d" d="M836.9,111.9L846.6,109.3 859.6,110.8 849.9,135.4Z"/>
<path fill="#fad52d" d="M846.6,109.3L856.9,137.7 869.9,132.5 859.6,110.8Z"/>
<path fill="#fec239" d="M856.9,137.7L868,163.8 880.9,142.5 869.9,132.5Z"/>
<path fill="#fbbc3d" d="M868,163.8L879.8,228.6 892.7,226 880.9,142.5Z"/>
<path fill="#56cc7b" d="M879.8,228.6L892.4,238.7 905.3,215.7 892.7,226Z"/>
<path fill="#77cc60" d="M892.4,238.7L905.9,226.4 918.8,214.6 905.3,215.7Z"/>
<path fill="#83cc57" d="M905.9,226.4L920.3,235.1 933.2,221 918.8,214.6Z"/>
<path fill="#7dcc5b" d="M920.3,235.1L935.7,249.8 948.6,236.8 933.2,221Z"/>
<path fill="#62cd71" d="M935.7,249.8L952.1,263.6 965.1,257 948.6,236.8Z"/>
<path fill="#42ca8c" d="M952.1,263.6L969.7,288.1 982.7,269.9 965.1,257Z"/>
<path fill="#37c898" d="M969.7,288.1L988.6,294 1001.5,299.7 982.7,269.9Z"/>
<path fill="#15bfb7" d="M988.6,294L1008.7,309.7 1021.6,314.1 1001.5,299.7Z"/>
<path fill="#04bbc1" d="M1008.7,309.7L1030.2,329 1043.1,332.2 1021.6,314.1Z"/>
<path fill="#06b5cf" d="M1030.2,329L1053.2,338.1 1066.1,325.4 1043.1,332.2Z"/>
<path fill="#07bcc0" d="M1053.2,338.1L1077.7,351.8 1090.7,340 1066.1,325.4Z"/>
<path fill="#01b8c8" d="M1077.7,351.8L1104,350.8 1116.9,342.2 1090.7,340Z"/>
<path fill="#03bbc2" d="M1104,350.8L1132.1,360.5 1145,354.9 1116.9,342.2Z"/>
<path fill="#01b9c7" d="M1132.1,360.5L1162.1,370.3 1175,376.9 1145,354.9Z"/>
<path fill="#10b2d5" d="M1162.1,370.3L1194.1,402.2 1207.1,403 1175,376.9Z"/>
<path fill="#1fa6e2" d="M1194.1,402.2L1228.4,429.5 1241.4,430.9 1207.1,403Z"/>
<path fill="#2797ea" d="M1228.4,429.5L1265.1,472.6 1278,471.4 1241.4,430.9Z"/>
<path fill="#327cfc" d="M1265.1,472.6L1304.2,581.1 1317.2,577.4 1278,471.4Z"/>
<path fill="#3e26a8" d="M1304.2,581.1L1355.2,595.7 1368.2,592 1317.2,577.4Z"/>
<path fill="#3e26a8" d="M695,413.1L695.7,403.6 708.7,403.7 707.9,409.4Z"/>
<path fill="#402ab5" d="M695.7,403.6L696.5,396.9 709.5,394.5 708.7,403.7Z"/>
<path fill="#4331c6" d="M696.5,396.9L697.4,391.8 710.4,388.8 709.5,394.5Z"/>
<path fill="#4435d1" d="M697.4,391.8L698.4,383.4 711.3,380.6 710.4,388.8Z"/>
<path fill="#463cdf" d="M698.4,383.4L699.4,377.8 712.3,373.1 711.3,380.6Z"/>
<path fill="#4743e8" d="M699.4,377.8L700.4,372.6 713.4,367.8 712.3,373.1Z"/>
<path fill="#4849ed" d="M700.4,372.6L701.6,364.5 714.5,360.2 713.4,367.8Z"/>
<path fill="#4851f3" d="M701.6,364.5L702.8,356.6 715.8,353.7 714.5,360.2Z"/>
<path fill="#4757f7" d="M702.8,356.6L704.1,347.9 717.1,345.3 715.8,353.7Z"/>
<path fill="#465ffb" d="M704.1,347.9L705.5,338.4 718.5,339.6 717.1,345.3Z"/>
<path fill="#4465fd" d="M705.5,338.4L707,333.8 720,328.7 718.5,339.6Z"/>
<path fill="#3c71ff" d="M707,333.8L708.6,327.2 721.6,324.7 720,328.7Z"/>
<path fill="#3876fe" d="M708.6,327.2L710.3,319.8 723.3,316.6 721.6,324.7Z"/>
<path fill="#307ffb" d="M710.3,319.8L712.1,303.1 725.1,308.3 723.3,316.6Z"/>
<path fill="#2e87f7" d="M712.1,303.1L714.1,292.4 727,294.5 725.1,308.3Z"/>
<path fill="#2994ed" d="M714.1,292.4L716.2,295.6 729.1,288.3 727,294.5Z"/>
<path fill="#269ae9" d="M716.2,295.6L718.4,296 731.4,288.7 729.1,288.3Z"/>
<path fill="#269ae9" d="M718.4,296L720.8,281.1 733.7,269.7 731.4,288.7Z"/>
<path fill="#1ca9df" d="M720.8,281.1L723.3,264 736.3,264.1 733.7,269.7Z"/>
<path fill="#18aedb" d="M723.3,264L726,242.1 739,260 736.3,264.1Z"/>
<path fill="#12b1d6" d="M726,242.1L728.9,239.2 741.9,244 739,260Z"/>
<path fill="#02bac5" d="M728.9,239.2L732.1,239.5 745,230.9 741.9,244Z"/>
<path fill="#1ac0b4" d="M732.1,239.5L735.4,243.7 748.3,230.4 745,230.9Z"/>
<path fill="#1dc0b3" d="M735.4,243.7L738.9,212.9 751.9,190.4 748.3,230.4Z"/>
<path fill="#5ccc76" d="M738.9,212.9L742.7,183.4 755.7,179.6 751.9,190.4Z"/>
<path fill="#78cc5f" d="M742.7,183.4L746.8,172.5 759.8,150.2 755.7,179.6Z"/>
<path fill="#c0c32d" d="M746.8,172.5L751.1,142.8 764.1,123.6 759.8,150.2Z"/>
<path fill="#f2ba38" d="M751.1,142.8L755.8,108.9 768.7,121.8 764.1,123.6Z"/>
<path fill="#f7ba3c" d="M755.8,108.9L760.7,99 773.7,95.2 768.7,121.8Z"/>
<path fill="#fbd42e" d="M760.7,99L766,97.1 779,111.7 773.7,95.2Z"/>
<path fill="#fec438" d="M766,97.1L771.7,99.9 784.7,112.2 779,111.7Z"/>
<path fill="#fec537" d="M771.7,99.9L777.8,132.8 790.7,117.4 784.7,112.2Z"/>
<path fill="#fec239" d="M777.8,132.8L784.2,102.4 797.2,137.8 790.7,117.4Z"/>
<path fill="#ebba32" d="M784.2,102.4L791.2,110 804.1,108.3 797.2,137.8Z"/>
<path fill="#fccf30" d="M791.2,110L798.6,138.6 811.5,123.4 804.1,108.3Z"/>
<path fill="#fec239" d="M798.6,138.6L806.5,123.6 819.4,137.8 811.5,123.4Z"/>
<path fill="#f5ba3a" d="M806.5,123.6L814.9,140.5 827.9,127.4 819.4,137.8Z"/>
<path fill="#fec239" d="M814.9,140.5L824,141.1 836.9,111.9 827.9,127.4Z"/>
<path fill="#fad52d" d="M824,141.1L833.6,115.2 846.6,109.3 836.9,111.9Z"/>
<path fill="#f7db2b" d="M833.6,115.2L844,122.5 856.9,137.7 846.6,109.3Z"/>
<path fill="#fec03a" d="M844,122.5L855,165.3 868,163.8 856.9,137.7Z"/>
<path fill="#e2bc2b" d="M855,165.3L866.8,232.2 879.8,228.6 868,163.8Z"/>
<path fill="#59cc78" d="M866.8,232.2L879.4,222.7 892.4,238.7 879.8,228.6Z"/>
<path fill="#4bcb84" d="M879.4,222.7L892.9,241.4 905.9,226.4 892.4,238.7Z"/>
<path fill="#6fcd66" d="M892.9,241.4L907.3,245 920.3,235.1 905.9,226.4Z"/>
<path fill="#64cd6f" d="M907.3,245L922.7,238.3 935.7,249.8 920.3,235.1Z"/>
<path fill="#4ecc81" d="M922.7,238.3L939.2,281.1 952.1,263.6 935.7,249.8Z"/>
<path fill="#3dc990" d="M939.2,281.1L956.8,292.6 969.7,288.1 952.1,263.6Z"/>
<path fill="#27c2ab" d="M956.8,292.6L975.6,308.3 988.6,294 969.7,288.1Z"/>
<path fill="#27c2ac" d="M975.6,308.3L995.7,323 1008.7,309.7 988.6,294Z"/>
<path fill="#14beb8" d="M995.7,323L1017.2,330.5 1030.2,329 1008.7,309.7Z"/>
<path fill="#01b9c7" d="M1017.2,330.5L1040.2,338.9 1053.2,338.1 1030.2,329Z"/>
<path fill="#01b8ca" d="M1040.2,338.9L1064.8,358.7 1077.7,351.8 1053.2,338.1Z"/>
<path fill="#09b4d1" d="M1064.8,358.7L1091,361.9 1104,350.8 1077.7,351.8Z"/>
<path fill="#01b9c8" d="M1091,361.9L1119.1,361.5 1132.1,360.5 1104,350.8Z"/>
<path fill="#01b8c9" d="M1119.1,361.5L1149.1,382.1 1162.1,370.3 1132.1,360.5Z"/>
<path fill="#02b7cb" d="M1149.1,382.1L1181.2,400.7 1194.1,402.2 1162.1,370.3Z"/>
<path fill="#1ca9df" d="M1181.2,400.7L1215.5,428.8 1228.4,429.5 1194.1,402.2Z"/>
<path fill="#259ce7" d="M1215.5,428.8L1252.1,469.5 1265.1,472.6 1228.4,429.5Z"/>
<path fill="#307ffb" d="M1252.1,469.5L1291.3,584.7 1304.2,581.1 1265.1,472.6Z"/>
<path fill="#3e26a8" d="M1291.3,584.7L1342.3,599.4 1355.2,595.7 1304.2,581.1Z"/>
<path fill="#3e26a8" d="M682,416.8L682.8,408.6 695.7,403.6 695,413.1Z"/>
<path fill="#412dbc" d="M682.8,408.6L683.6,400.1 696.5,396.9 695.7,403.6Z"/>
<path fill="#4332c9" d="M683.6,400.1L684.5,393.8 697.4,391.8 696.5,396.9Z"/>
<path fill="#4536d3" d="M684.5,393.8L685.4,385.8 698.4,383.4 697.4,391.8Z"/>
<path fill="#463de0" d="M685.4,385.8L686.4,379.1 699.4,377.8 698.4,383.4Z"/>
<path fill="#4742e7" d="M686.4,379.1L687.5,373.6 700.4,372.6 699.4,377.8Z"/>
<path fill="#4848ec" d="M687.5,373.6L688.6,366.3 701.6,364.5 700.4,372.6Z"/>
<path fill="#4850f3" d="M688.6,366.3L689.8,358.4 702.8,356.6 701.6,364.5Z"/>
<path fill="#4758f8" d="M689.8,358.4L691.1,351.4 704.1,347.9 702.8,356.6Z"/>
<path fill="#4661fc" d="M691.1,351.4L692.5,342.4 705.5,338.4 704.1,347.9Z"/>
<path fill="#416afe" d="M692.5,342.4L694,335.3 707,333.8 705.5,338.4Z"/>
<path fill="#3e70ff" d="M694,335.3L695.6,326.2 708.6,327.2 707,333.8Z"/>
<path fill="#3777fe" d="M695.6,326.2L697.3,320.9 710.3,319.8 708.6,327.2Z"/>
<path fill="#307ffb" d="M697.3,320.9L699.2,310.6 712.1,303.1 710.3,319.8Z"/>
<path fill="#2c8ff1" d="M699.2,310.6L701.1,295.6 714.1,292.4 712.1,303.1Z"/>
<path fill="#2699e9" d="M701.1,295.6L703.2,297.7 716.2,295.6 714.1,292.4Z"/>
<path fill="#2797eb" d="M703.2,297.7L705.4,290.8 718.4,296 716.2,295.6Z"/>
<path fill="#2797eb" d="M705.4,290.8L707.8,272.9 720.8,281.1 718.4,296Z"/>
<path fill="#21a3e3" d="M707.8,272.9L710.3,267.2 723.3,264 720.8,281.1Z"/>
<path fill="#13b0d7" d="M710.3,267.2L713.1,249.8 726,242.1 723.3,264Z"/>
<path fill="#07bcbf" d="M713.1,249.8L716,253.4 728.9,239.2 726,242.1Z"/>
<path fill="#0ebebb" d="M716,253.4L719.1,235.6 732.1,239.5 728.9,239.2Z"/>
<path fill="#10beba" d="M719.1,235.6L722.4,239.3 735.4,243.7 732.1,239.5Z"/>
<path fill="#09bcbe" d="M722.4,239.3L726,231.5 738.9,212.9 735.4,243.7Z"/>
<path fill="#39c895" d="M726,231.5L729.8,206.8 742.7,183.4 738.9,212.9Z"/>
<path fill="#78cc5f" d="M729.8,206.8L733.8,165.7 746.8,172.5 742.7,183.4Z"/>
<path fill="#95ca49" d="M733.8,165.7L738.2,176.9 751.1,142.8 746.8,172.5Z"/>
<path fill="#d9be28" d="M738.2,176.9L742.8,119.8 755.8,108.9 751.1,142.8Z"/>
<path fill="#fec735" d="M742.8,119.8L747.8,113.1 760.7,99 755.8,108.9Z"/>
<path fill="#fbd32e" d="M747.8,113.1L753.1,140.4 766,97.1 760.7,99Z"/>
<path fill="#f9d72c" d="M753.1,140.4L758.7,123.4 771.7,99.9 766,97.1Z"/>
<path fill="#fad62d" d="M758.7,123.4L764.8,103.7 777.8,132.8 771.7,99.9Z"/>
<path fill="#f5ba3b" d="M764.8,103.7L771.3,136.8 784.2,102.4 777.8,132.8Z"/>
<path fill="#f9d72c" d="M771.3,136.8L778.2,132.9 791.2,110 784.2,102.4Z"/>
<path fill="#fcd12f" d="M778.2,132.9L785.6,106.2 798.6,138.6 791.2,110Z"/>
<path fill="#f6ba3b" d="M785.6,106.2L793.5,136.2 806.5,123.6 798.6,138.6Z"/>
<path fill="#fec735" d="M793.5,136.2L802,124.2 814.9,140.5 806.5,123.6Z"/>
<path fill="#f9bb3d" d="M802,124.2L811,122.8 824,141.1 814.9,140.5Z"/>
<path fill="#fbbc3d" d="M811,122.8L820.7,152.8 833.6,115.2 824,141.1Z"/>
<path fill="#f8d92c" d="M820.7,152.8L831,155.6 844,122.5 833.6,115.2Z"/>
<path fill="#fad42e" d="M831,155.6L842,140.5 855,165.3 844,122.5Z"/>
<path fill="#e6bb2d" d="M842,140.5L853.8,188.1 866.8,232.2 855,165.3Z"/>
<path fill="#59cc78" d="M853.8,188.1L866.4,247.1 879.4,222.7 866.8,232.2Z"/>
<path fill="#78cc5f" d="M866.4,247.1L879.9,243.2 892.9,241.4 879.4,222.7Z"/>
<path fill="#55cc7b" d="M879.9,243.2L894.3,249.4 907.3,245 892.9,241.4Z"/>
<path fill="#56cc7a" d="M894.3,249.4L909.7,279.1 922.7,238.3 907.3,245Z"/>
<path fill="#70cd65" d="M909.7,279.1L926.2,278.9 939.2,281.1 922.7,238.3Z"/>
<path fill="#2ec4a4" d="M926.2,278.9L943.8,294.7 956.8,292.6 939.2,281.1Z"/>
<path fill="#26c2ac" d="M943.8,294.7L962.6,304.9 975.6,308.3 956.8,292.6Z"/>
<path fill="#12beb9" d="M962.6,304.9L982.7,312.1 995.7,323 975.6,308.3Z"/>
<path fill="#02bbc3" d="M982.7,312.1L1004.2,328.9 1017.2,330.5 995.7,323Z"/>
<path fill="#02bac5" d="M1004.2,328.9L1027.2,346 1040.2,338.9 1017.2,330.5Z"/>
<path fill="#01b9c7" d="M1027.2,346L1051.8,364.7 1064.8,358.7 1040.2,338.9Z"/>
<path fill="#0eb2d4" d="M1051.8,364.7L1078,366.6 1091,361.9 1064.8,358.7Z"/>
<path fill="#07b5d0" d="M1078,366.6L1106.1,368.2 1119.1,361.5 1091,361.9Z"/>
<path fill="#01b9c6" d="M1106.1,368.2L1136.1,385.2 1149.1,382.1 1119.1,361.5Z"/>
<path fill="#0db3d3" d="M1136.1,385.2L1168.2,404.1 1181.2,400.7 1149.1,382.1Z"/>
<path fill="#19addc" d="M1168.2,404.1L1202.5,436.1 1215.5,428.8 1181.2,400.7Z"/>
<path fill="#249fe5" d="M1202.5,436.1L1239.1,466.4 1252.1,469.5 1215.5,428.8Z"/>
<path fill="#2e85f8" d="M1239.1,466.4L1278.3,588.4 1291.3,584.7 1252.1,469.5Z"/>
<path fill="#3e26a8" d="M1278.3,588.4L1329.3,603.1 1342.3,599.4 1291.3,584.7Z"/>
<path fill="#3e26a8" d="M669,420.5L669.8,413.4 682.8,408.6 682,416.8Z"/>
<path fill="#412cb9" d="M669.8,413.4L670.6,406.8 683.6,400.1 682.8,408.6Z"/>
<path fill="#4332ca" d="M670.6,406.8L671.5,399.2 684.5,393.8 683.6,400.1Z"/>
<path fill="#4537d6" d="M671.5,399.2L672.4,390.8 685.4,385.8 684.5,393.8Z"/>
<path fill="#473ee1" d="M672.4,390.8L673.4,385.4 686.4,379.1 685.4,385.8Z"/>
<path fill="#4745e9" d="M673.4,385.4L674.5,379.5 687.5,373.6 686.4,379.1Z"/>
<path fill="#484aee" d="M674.5,379.5L675.6,368.4 688.6,366.3 687.5,373.6Z"/>
<path fill="#4852f4" d="M675.6,368.4L676.9,363.5 689.8,358.4 688.6,366.3Z"/>
<path fill="#475af9" d="M676.9,363.5L678.2,353.6 691.1,351.4 689.8,358.4Z"/>
<path fill="#4661fc" d="M678.2,353.6L679.6,349 692.5,342.4 691.1,351.4Z"/>
<path fill="#426afe" d="M679.6,349L681.1,339 694,335.3 692.5,342.4Z"/>
<path fill="#3c72ff" d="M681.1,339L682.7,333.8 695.6,326.2 694,335.3Z"/>
<path fill="#327cfc" d="M682.7,333.8L684.4,330.9 697.3,320.9 695.6,326.2Z"/>
<path fill="#2f82fa" d="M684.4,330.9L686.2,311.5 699.2,310.6 697.3,320.9Z"/>
<path fill="#2d8cf3" d="M686.2,311.5L688.1,307.6 701.1,295.6 699.2,310.6Z"/>
<path fill="#2699e9" d="M688.1,307.6L690.2,299.4 703.2,297.7 701.1,295.6Z"/>
<path fill="#2798ea" d="M690.2,299.4L692.5,292.8 705.4,290.8 703.2,297.7Z"/>
<path fill="#249ee6" d="M692.5,292.8L694.8,277.2 707.8,272.9 705.4,290.8Z"/>
<path fill="#19acdc" d="M694.8,277.2L697.4,266.5 710.3,267.2 707.8,272.9Z"/>
<path fill="#13b1d7" d="M697.4,266.5L700.1,260.8 713.1,249.8 710.3,267.2Z"/>
<path fill="#02bac4" d="M700.1,260.8L703,247.2 716,253.4 713.1,249.8Z"/>
<path fill="#01b9c7" d="M703,247.2L706.1,245.3 719.1,235.6 716,253.4Z"/>
<path fill="#20c1b1" d="M706.1,245.3L709.4,226.7 722.4,239.3 719.1,235.6Z"/>
<path fill="#1ac0b5" d="M709.4,226.7L713,234.1 726,231.5 722.4,239.3Z"/>
<path fill="#29c3aa" d="M713,234.1L716.8,193.8 729.8,206.8 726,231.5Z"/>
<path fill="#4bcb84" d="M716.8,193.8L720.9,175.1 733.8,165.7 729.8,206.8Z"/>
<path fill="#aec637" d="M720.9,175.1L725.2,180.8 738.2,176.9 733.8,165.7Z"/>
<path fill="#97ca48" d="M725.2,180.8L729.8,150.9 742.8,119.8 738.2,176.9Z"/>
<path fill="#fec03a" d="M729.8,150.9L734.8,105.8 747.8,113.1 742.8,119.8Z"/>
<path fill="#fec834" d="M734.8,105.8L740.1,125.6 753.1,140.4 747.8,113.1Z"/>
<path fill="#ebba31" d="M740.1,125.6L745.8,142.5 758.7,123.4 753.1,140.4Z"/>
<path fill="#fec13a" d="M745.8,142.5L751.8,136.8 764.8,103.7 758.7,123.4Z"/>
<path fill="#f9d82c" d="M751.8,136.8L758.3,114.2 771.3,136.8 764.8,103.7Z"/>
<path fill="#f8ba3d" d="M758.3,114.2L765.2,138 778.2,132.9 771.3,136.8Z"/>
<path fill="#febd3c" d="M765.2,138L772.6,115.3 785.6,106.2 778.2,132.9Z"/>
<path fill="#f7db2a" d="M772.6,115.3L780.5,118.8 793.5,136.2 785.6,106.2Z"/>
<path fill="#febf3c" d="M780.5,118.8L789,125.2 802,124.2 793.5,136.2Z"/>
<path fill="#fdcd32" d="M789,125.2L798,108 811,122.8 802,124.2Z"/>
<path fill="#fbd12f" d="M798,108L807.7,129.1 820.7,152.8 811,122.8Z"/>
<path fill="#f5ba3b" d="M807.7,129.1L818,158.8 831,155.6 820.7,152.8Z"/>
<path fill="#f5ba3b" d="M818,158.8L829.1,170.2 842,140.5 831,155.6Z"/>
<path fill="#fec835" d="M829.1,170.2L840.9,161.9 853.8,188.1 842,140.5Z"/>
<path fill="#c9c129" d="M840.9,161.9L853.5,245.9 866.4,247.1 853.8,188.1Z"/>
<path fill="#49cb85" d="M853.5,245.9L867,273.1 879.9,243.2 866.4,247.1Z"/>
<path fill="#59cc78" d="M867,273.1L881.4,267 894.3,249.4 879.9,243.2Z"/>
<path fill="#55cc7c" d="M881.4,267L896.8,282.4 909.7,279.1 894.3,249.4Z"/>
<path fill="#2fc5a3" d="M896.8,282.4L913.2,276.6 926.2,278.9 909.7,279.1Z"/>
<path fill="#34c79c" d="M913.2,276.6L930.8,290.4 943.8,294.7 926.2,278.9Z"/>
<path fill="#28c3aa" d="M930.8,290.4L949.7,300.9 962.6,304.9 943.8,294.7Z"/>
<path fill="#21c1b0" d="M949.7,300.9L969.8,316.2 982.7,312.1 962.6,304.9Z"/>
<path fill="#1ec0b2" d="M969.8,316.2L991.3,340.9 1004.2,328.9 982.7,312.1Z"/>
<path fill="#08bcbf" d="M991.3,340.9L1014.3,358.3 1027.2,346 1004.2,328.9Z"/>
<path fill="#01b7ca" d="M1014.3,358.3L1038.8,361.2 1051.8,364.7 1027.2,346Z"/>
<path fill="#12b1d6" d="M1038.8,361.2L1065.1,363.6 1078,366.6 1051.8,364.7Z"/>
<path fill="#08b4d1" d="M1065.1,363.6L1093.2,381.8 1106.1,368.2 1078,366.6Z"/>
<path fill="#01b8ca" d="M1093.2,381.8L1123.2,397.7 1136.1,385.2 1106.1,368.2Z"/>
<path fill="#0cb3d3" d="M1123.2,397.7L1155.2,416.4 1168.2,404.1 1136.1,385.2Z"/>
<path fill="#18addb" d="M1155.2,416.4L1189.5,441.6 1202.5,436.1 1168.2,404.1Z"/>
<path fill="#259ce7" d="M1189.5,441.6L1226.2,481 1239.1,466.4 1202.5,436.1Z"/>
<path fill="#2d8bf3" d="M1226.2,481L1265.3,592.1 1278.3,588.4 1239.1,466.4Z"/>
<path fill="#3e26a8" d="M1265.3,592.1L1316.3,606.8 1329.3,603.1 1278.3,588.4Z"/>
<path fill="#3e26a8" d="M656.1,424.2L656.8,417.6 669.8,413.4 669,420.5Z"/>
<path fill="#402bb7" d="M656.8,417.6L657.6,410.1 670.6,406.8 669.8,413.4Z"/>
<path fill="#4230c4" d="M657.6,410.1L658.5,404.1 671.5,399.2 670.6,406.8Z"/>
<path fill="#4536d3" d="M658.5,404.1L659.5,396.1 672.4,390.8 671.5,399.2Z"/>
<path fill="#463de0" d="M659.5,396.1L660.5,386.9 673.4,385.4 672.4,390.8Z"/>
<path fill="#4742e6" d="M660.5,386.9L661.5,379.7 674.5,379.5 673.4,385.4Z"/>
<path fill="#4848ec" d="M661.5,379.7L662.7,374.9 675.6,368.4 674.5,379.5Z"/>
<path fill="#4853f5" d="M662.7,374.9L663.9,368.3 676.9,363.5 675.6,368.4Z"/>
<path fill="#4758f8" d="M663.9,368.3L665.2,359.6 678.2,353.6 676.9,363.5Z"/>
<path fill="#4562fc" d="M665.2,359.6L666.6,348.7 679.6,349 678.2,353.6Z"/>
<path fill="#4367fd" d="M666.6,348.7L668.1,342.6 681.1,339 679.6,349Z"/>
<path fill="#3c72ff" d="M668.1,342.6L669.7,334.2 682.7,333.8 681.1,339Z"/>
<path fill="#3678fd" d="M669.7,334.2L671.4,327.4 684.4,330.9 682.7,333.8Z"/>
<path fill="#327cfc" d="M671.4,327.4L673.2,324.3 686.2,311.5 684.4,330.9Z"/>
<path fill="#2c8ef1" d="M673.2,324.3L675.2,306.7 688.1,307.6 686.2,311.5Z"/>
<path fill="#2b92ee" d="M675.2,306.7L677.3,303.4 690.2,299.4 688.1,307.6Z"/>
<path fill="#269ae9" d="M677.3,303.4L679.5,296.6 692.5,292.8 690.2,299.4Z"/>
<path fill="#239fe5" d="M679.5,296.6L681.9,282.2 694.8,277.2 692.5,292.8Z"/>
<path fill="#1aacdd" d="M681.9,282.2L684.4,273 697.4,266.5 694.8,277.2Z"/>
<path fill="#0cb3d3" d="M684.4,273L687.1,271.7 700.1,260.8 697.4,266.5Z"/>
<path fill="#03b7cc" d="M687.1,271.7L690,255.6 703,247.2 700.1,260.8Z"/>
<path fill="#0dbdbc" d="M690,255.6L693.2,242.9 706.1,245.3 703,247.2Z"/>
<path fill="#13beb8" d="M693.2,242.9L696.5,224.1 709.4,226.7 706.1,245.3Z"/>
<path fill="#31c6a0" d="M696.5,224.1L700,212.6 713,234.1 709.4,226.7Z"/>
<path fill="#2bc3a8" d="M700,212.6L703.8,189.2 716.8,193.8 713,234.1Z"/>
<path fill="#70cd65" d="M703.8,189.2L707.9,165.2 720.9,175.1 716.8,193.8Z"/>
<path fill="#a1c840" d="M707.9,165.2L712.2,178.5 725.2,180.8 720.9,175.1Z"/>
<path fill="#96ca48" d="M712.2,178.5L716.9,167.8 729.8,150.9 725.2,180.8Z"/>
<path fill="#dabd28" d="M716.9,167.8L721.8,107.2 734.8,105.8 729.8,150.9Z"/>
<path fill="#fad42e" d="M721.8,107.2L727.1,117.9 740.1,125.6 734.8,105.8Z"/>
<path fill="#fec13a" d="M727.1,117.9L732.8,107.5 745.8,142.5 740.1,125.6Z"/>
<path fill="#f0ba36" d="M732.8,107.5L738.9,113.8 751.8,136.8 745.8,142.5Z"/>
<path fill="#fabb3d" d="M738.9,113.8L745.3,134.5 758.3,114.2 751.8,136.8Z"/>
<path fill="#fbd22f" d="M745.3,134.5L752.3,117.6 765.2,138 758.3,114.2Z"/>
<path fill="#fcbd3d" d="M752.3,117.6L759.7,142.4 772.6,115.3 765.2,138Z"/>
<path fill="#fad62d" d="M759.7,142.4L767.6,142.7 780.5,118.8 772.6,115.3Z"/>
<path fill="#fad42e" d="M767.6,142.7L776,143.4 789,125.2 780.5,118.8Z"/>
<path fill="#fcd030" d="M776,143.4L785.1,134.4 798,108 789,125.2Z"/>
<path fill="#f5e526" d="M785.1,134.4L794.7,153.5 807.7,129.1 798,108Z"/>
<path fill="#fbd22f" d="M794.7,153.5L805.1,165.5 818,158.8 807.7,129.1Z"/>
<path fill="#f6ba3b" d="M805.1,165.5L816.1,185.1 829.1,170.2 818,158.8Z"/>
<path fill="#eabb30" d="M816.1,185.1L827.9,168.9 840.9,161.9 829.1,170.2Z"/>
<path fill="#fabb3d" d="M827.9,168.9L840.5,243 853.5,245.9 840.9,161.9Z"/>
<path fill="#53cc7d" d="M840.5,243L854,250.5 867,273.1 853.5,245.9Z"/>
<path fill="#30c5a1" d="M854,250.5L868.4,266.6 881.4,267 867,273.1Z"/>
<path fill="#3bc993" d="M868.4,266.6L883.8,273.9 896.8,282.4 881.4,267Z"/>
<path fill="#2fc5a2" d="M883.8,273.9L900.3,276.9 913.2,276.6 896.8,282.4Z"/>
<path fill="#3ac993" d="M900.3,276.9L917.9,281.4 930.8,290.4 913.2,276.6Z"/>
<path fill="#31c6a0" d="M917.9,281.4L936.7,297.5 949.7,300.9 930.8,290.4Z"/>
<path fill="#2cc4a7" d="M936.7,297.5L956.8,324.6 969.8,316.2 949.7,300.9Z"/>
<path fill="#1ec0b2" d="M956.8,324.6L978.3,345.2 991.3,340.9 969.8,316.2Z"/>
<path fill="#01b9c8" d="M978.3,345.2L1001.3,358.5 1014.3,358.3 991.3,340.9Z"/>
<path fill="#0db3d3" d="M1001.3,358.5L1025.9,366.4 1038.8,361.2 1014.3,358.3Z"/>
<path fill="#06b5cf" d="M1025.9,366.4L1052.1,373.6 1065.1,363.6 1038.8,361.2Z"/>
<path fill="#01b8c9" d="M1052.1,373.6L1080.2,391.2 1093.2,381.8 1065.1,363.6Z"/>
<path fill="#0eb2d4" d="M1080.2,391.2L1110.2,402.8 1123.2,397.7 1093.2,381.8Z"/>
<path fill="#18aedb" d="M1110.2,402.8L1142.3,424.3 1155.2,416.4 1123.2,397.7Z"/>
<path fill="#1ea7e1" d="M1142.3,424.3L1176.6,446.3 1189.5,441.6 1155.2,416.4Z"/>
<path fill="#259be8" d="M1176.6,446.3L1213.2,484.7 1226.2,481 1189.5,441.6Z"/>
<path fill="#2f81fa" d="M1213.2,484.7L1252.4,595.8 1265.3,592.1 1226.2,481Z"/>
<path fill="#3e26a8" d="M1252.4,595.8L1303.4,610.5 1316.3,606.8 1265.3,592.1Z"/>
<path fill="#3e26a8" d="M643.1,427.9L643.9,422 656.8,417.6 656.1,424.2Z"/>
<path fill="#402bb6" d="M643.9,422L644.7,414.6 657.6,410.1 656.8,417.6Z"/>
<path fill="#4330c5" d="M644.7,414.6L645.6,405 658.5,404.1 657.6,410.1Z"/>
<path fill="#4435d1" d="M645.6,405L646.5,397.8 659.5,396.1 658.5,404.1Z"/>
<path fill="#463bde" d="M646.5,397.8L647.5,391.8 660.5,386.9 659.5,396.1Z"/>
<path fill="#4744e9" d="M647.5,391.8L648.6,384.9 661.5,379.7 660.5,386.9Z"/>
<path fill="#484cef" d="M648.6,384.9L649.7,377.5 662.7,374.9 661.5,379.7Z"/>
<path fill="#4851f3" d="M649.7,377.5L650.9,368.3 663.9,368.3 662.7,374.9Z"/>
<path fill="#4757f7" d="M650.9,368.3L652.2,363.1 665.2,359.6 663.9,368.3Z"/>
<path fill="#4660fc" d="M652.2,363.1L653.6,353.8 666.6,348.7 665.2,359.6Z"/>
<path fill="#416bfe" d="M653.6,353.8L655.1,341 668.1,342.6 666.6,348.7Z"/>
<path fill="#3b72ff" d="M655.1,341L656.7,338.9 669.7,334.2 668.1,342.6Z"/>
<path fill="#327bfc" d="M656.7,338.9L658.4,338.7 671.4,327.4 669.7,334.2Z"/>
<path fill="#2f83f9" d="M658.4,338.7L660.3,325.6 673.2,324.3 671.4,327.4Z"/>
<path fill="#2e86f7" d="M660.3,325.6L662.2,312.9 675.2,306.7 673.2,324.3Z"/>
<path fill="#2896eb" d="M662.2,312.9L664.3,306.5 677.3,303.4 675.2,306.7Z"/>
<path fill="#2699e9" d="M664.3,306.5L666.5,289.7 679.5,296.6 677.3,303.4Z"/>
<path fill="#249fe5" d="M666.5,289.7L668.9,286.3 681.9,282.2 679.5,296.6Z"/>
<path fill="#1babde" d="M668.9,286.3L671.5,281.1 684.4,273 681.9,282.2Z"/>
<path fill="#11b1d6" d="M671.5,281.1L674.2,264.6 687.1,271.7 684.4,273Z"/>
<path fill="#0db3d3" d="M674.2,264.6L677.1,255.6 690,255.6 687.1,271.7Z"/>
<path fill="#05bbc1" d="M677.1,255.6L680.2,246.8 693.2,242.9 690,255.6Z"/>
<path fill="#20c1b1" d="M680.2,246.8L683.5,228.5 696.5,224.1 693.2,242.9Z"/>
<path fill="#37c897" d="M683.5,228.5L687.1,207.5 700,212.6 696.5,224.1Z"/>
<path fill="#4ccb83" d="M687.1,207.5L690.9,188 703.8,189.2 700,212.6Z"/>
<path fill="#85cb56" d="M690.9,188L694.9,172 707.9,165.2 703.8,189.2Z"/>
<path fill="#c0c32d" d="M694.9,172L699.3,143.3 712.2,178.5 707.9,165.2Z"/>
<path fill="#a5c83e" d="M699.3,143.3L703.9,139.5 716.9,167.8 712.2,178.5Z"/>
<path fill="#c0c32d" d="M703.9,139.5L708.9,92.6 721.8,107.2 716.9,167.8Z"/>
<path fill="#f9d62d" d="M708.9,92.6L714.2,108.1 727.1,117.9 721.8,107.2Z"/>
<path fill="#fdcd32" d="M714.2,108.1L719.8,133.5 732.8,107.5 727.1,117.9Z"/>
<path fill="#f8da2b" d="M719.8,133.5L725.9,137.4 738.9,113.8 732.8,107.5Z"/>
<path fill="#fad52e" d="M725.9,137.4L732.4,145.8 745.3,134.5 738.9,113.8Z"/>
<path fill="#fec13a" d="M732.4,145.8L739.3,134.5 752.3,117.6 745.3,134.5Z"/>
<path fill="#fad52e" d="M739.3,134.5L746.7,160.8 759.7,142.4 752.3,117.6Z"/>
<path fill="#febd3c" d="M746.7,160.8L754.6,160 767.6,142.7 759.7,142.4Z"/>
<path fill="#febf3b" d="M754.6,160L763.1,147.1 776,143.4 767.6,142.7Z"/>
<path fill="#fec13a" d="M763.1,147.1L772.1,125.7 785.1,134.4 776,143.4Z"/>
<path fill="#fdcd32" d="M772.1,125.7L781.8,140.2 794.7,153.5 785.1,134.4Z"/>
<path fill="#fdbd3d" d="M781.8,140.2L792.1,162.5 805.1,165.5 794.7,153.5Z"/>
<path fill="#f2ba38" d="M792.1,162.5L803.1,162.7 816.1,185.1 805.1,165.5Z"/>
<path fill="#d6be28" d="M803.1,162.7L814.9,196.5 827.9,168.9 816.1,185.1Z"/>
<path fill="#f6ba3c" d="M814.9,196.5L827.5,243.3 840.5,243 827.9,168.9Z"/>
<path fill="#61cd71" d="M827.5,243.3L841,253.3 854,250.5 840.5,243Z"/>
<path fill="#5acc78" d="M841,253.3L855.4,252.9 868.4,266.6 854,250.5Z"/>
<path fill="#41ca8c" d="M855.4,252.9L870.8,267.3 883.8,273.9 868.4,266.6Z"/>
<path fill="#3dc991" d="M870.8,267.3L887.3,273.9 900.3,276.9 883.8,273.9Z"/>
<path fill="#3fca8e" d="M887.3,273.9L904.9,289 917.9,281.4 900.3,276.9Z"/>
<path fill="#40ca8d" d="M904.9,289L923.7,293.9 936.7,297.5 917.9,281.4Z"/>
<path fill="#33c69d" d="M923.7,293.9L943.8,316.1 956.8,324.6 936.7,297.5Z"/>
<path fill="#14beb8" d="M943.8,316.1L965.3,338.5 978.3,345.2 956.8,324.6Z"/>
<path fill="#01b8c9" d="M965.3,338.5L988.3,363.2 1001.3,358.5 978.3,345.2Z"/>
<path fill="#07b5d0" d="M988.3,363.2L1012.9,370.2 1025.9,366.4 1001.3,358.5Z"/>
<path fill="#08b4d1" d="M1012.9,370.2L1039.2,379.4 1052.1,373.6 1025.9,366.4Z"/>
<path fill="#08b5d0" d="M1039.2,379.4L1067.2,388.5 1080.2,391.2 1052.1,373.6Z"/>
<path fill="#16afd9" d="M1067.2,388.5L1097.2,410.2 1110.2,402.8 1080.2,391.2Z"/>
<path fill="#19addc" d="M1097.2,410.2L1129.3,428.1 1142.3,424.3 1110.2,402.8Z"/>
<path fill="#21a4e3" d="M1129.3,428.1L1163.6,455.9 1176.6,446.3 1142.3,424.3Z"/>
<path fill="#269ae9" d="M1163.6,455.9L1200.2,484.7 1213.2,484.7 1176.6,446.3Z"/>
<path fill="#2f81fa" d="M1200.2,484.7L1239.4,599.5 1252.4,595.8 1213.2,484.7Z"/>
<path fill="#3e26a8" d="M1239.4,599.5L1290.4,614.2 1303.4,610.5 1252.4,595.8Z"/>
<path fill="#3e26a8" d="M630.1,431.6L630.9,423.7 643.9,422 643.1,427.9Z"/>
<path fill="#402ab5" d="M630.9,423.7L631.7,417.6 644.7,414.6 643.9,422Z"/>
<path fill="#4230c3" d="M631.7,417.6L632.6,409.9 645.6,405 644.7,414.6Z"/>
<path fill="#4537d5" d="M632.6,409.9L633.5,403.5 646.5,397.8 645.6,405Z"/>
<path fill="#463de0" d="M633.5,403.5L634.5,396.6 647.5,391.8 646.5,397.8Z"/>
<path fill="#4743e7" d="M634.5,396.6L635.6,388 648.6,384.9 647.5,391.8Z"/>
<path fill="#484aee" d="M635.6,388L636.7,382.5 649.7,377.5 648.6,384.9Z"/>
<path fill="#4852f4" d="M636.7,382.5L638,375.2 650.9,368.3 649.7,377.5Z"/>
<path fill="#475bf9" d="M638,375.2L639.3,364.4 652.2,363.1 650.9,368.3Z"/>
<path fill="#4660fc" d="M639.3,364.4L640.7,358.4 653.6,353.8 652.2,363.1Z"/>
<path fill="#426afe" d="M640.7,358.4L642.2,347 655.1,341 653.6,353.8Z"/>
<path fill="#3678fe" d="M642.2,347L643.8,337.4 656.7,338.9 655.1,341Z"/>
<path fill="#337afd" d="M643.8,337.4L645.5,334.9 658.4,338.7 656.7,338.9Z"/>
<path fill="#337bfc" d="M645.5,334.9L647.3,334.4 660.3,325.6 658.4,338.7Z"/>
<path fill="#2d88f6" d="M647.3,334.4L649.2,325.4 662.2,312.9 660.3,325.6Z"/>
<path fill="#2994ed" d="M649.2,325.4L651.3,308.4 664.3,306.5 662.2,312.9Z"/>
<path fill="#269ae9" d="M651.3,308.4L653.6,301.5 666.5,289.7 664.3,306.5Z"/>
<path fill="#1ea8e1" d="M653.6,301.5L655.9,295.4 668.9,286.3 666.5,289.7Z"/>
<path fill="#1babde" d="M655.9,295.4L658.5,275.6 671.5,281.1 668.9,286.3Z"/>
<path fill="#16afd9" d="M658.5,275.6L661.2,267.8 674.2,264.6 671.5,281.1Z"/>
<path fill="#01b8c8" d="M661.2,267.8L664.1,263.7 677.1,255.6 674.2,264.6Z"/>
<path fill="#0bbdbd" d="M664.1,263.7L667.2,249.7 680.2,246.8 677.1,255.6Z"/>
<path fill="#1fc1b1" d="M667.2,249.7L670.6,247.6 683.5,228.5 680.2,246.8Z"/>
<path fill="#36c898" d="M670.6,247.6L674.1,204.8 687.1,207.5 683.5,228.5Z"/>
<path fill="#5fcd73" d="M674.1,204.8L677.9,183.7 690.9,188 687.1,207.5Z"/>
<path fill="#91ca4c" d="M677.9,183.7L682,160 694.9,172 690.9,188Z"/>
<path fill="#b9c430" d="M682,160L686.3,148.9 699.3,143.3 694.9,172Z"/>
<path fill="#f1ba37" d="M686.3,148.9L690.9,107.6 703.9,139.5 699.3,143.3Z"/>
<path fill="#f8ba3d" d="M690.9,107.6L695.9,79.9 708.9,92.6 703.9,139.5Z"/>
<path fill="#f5ea23" d="M695.9,79.9L701.2,127.1 714.2,108.1 708.9,92.6Z"/>
<path fill="#f7db2a" d="M701.2,127.1L706.9,129.4 719.8,133.5 714.2,108.1Z"/>
<path fill="#fec239" d="M706.9,129.4L712.9,128.2 725.9,137.4 719.8,133.5Z"/>
<path fill="#fec03b" d="M712.9,128.2L719.4,143.9 732.4,145.8 725.9,137.4Z"/>
<path fill="#fabb3d" d="M719.4,143.9L726.3,138.3 739.3,134.5 732.4,145.8Z"/>
<path fill="#fec736" d="M726.3,138.3L733.7,155 746.7,160.8 739.3,134.5Z"/>
<path fill="#ebba31" d="M733.7,155L741.6,130.2 754.6,160 746.7,160.8Z"/>
<path fill="#efba36" d="M741.6,130.2L750.1,159.4 763.1,147.1 754.6,160Z"/>
<path fill="#fec13a" d="M750.1,159.4L759.1,155.6 772.1,125.7 763.1,147.1Z"/>
<path fill="#f8da2b" d="M759.1,155.6L768.8,137.9 781.8,140.2 772.1,125.7Z"/>
<path fill="#fdce31" d="M768.8,137.9L779.1,120.4 792.1,162.5 781.8,140.2Z"/>
<path fill="#fabb3d" d="M779.1,120.4L790.2,184.7 803.1,162.7 792.1,162.5Z"/>
<path fill="#fdbd3d" d="M790.2,184.7L802,198.1 814.9,196.5 803.1,162.7Z"/>
<path fill="#cec028" d="M802,198.1L814.6,241.6 827.5,243.3 814.9,196.5Z"/>
<path fill="#69cd6a" d="M814.6,241.6L828.1,238 841,253.3 827.5,243.3Z"/>
<path fill="#5ccc76" d="M828.1,238L842.5,237 855.4,252.9 841,253.3Z"/>
<path fill="#66cd6d" d="M842.5,237L857.9,252.6 870.8,267.3 855.4,252.9Z"/>
<path fill="#50cc80" d="M857.9,252.6L874.3,266.2 887.3,273.9 870.8,267.3Z"/>
<path fill="#4ccb83" d="M874.3,266.2L891.9,286.3 904.9,289 887.3,273.9Z"/>
<path fill="#3ac993" d="M891.9,286.3L910.8,298.7 923.7,293.9 904.9,289Z"/>
<path fill="#3bc992" d="M910.8,298.7L930.9,320.9 943.8,316.1 923.7,293.9Z"/>
<path fill="#2ac3a9" d="M930.9,320.9L952.4,327.9 965.3,338.5 943.8,316.1Z"/>
<path fill="#0bbdbd" d="M952.4,327.9L975.4,355.5 988.3,363.2 965.3,338.5Z"/>
<path fill="#09b4d1" d="M975.4,355.5L999.9,373.1 1012.9,370.2 988.3,363.2Z"/>
<path fill="#09b4d1" d="M999.9,373.1L1026.2,387.6 1039.2,379.4 1012.9,370.2Z"/>
<path fill="#0bb3d2" d="M1026.2,387.6L1054.3,398.7 1067.2,388.5 1039.2,379.4Z"/>
<path fill="#0db3d3" d="M1054.3,398.7L1084.3,410.3 1097.2,410.2 1067.2,388.5Z"/>
<path fill="#1baade" d="M1084.3,410.3L1116.3,427.9 1129.3,428.1 1097.2,410.2Z"/>
<path fill="#21a4e3" d="M1116.3,427.9L1150.6,452.1 1163.6,455.9 1129.3,428.1Z"/>
<path fill="#2895ec" d="M1150.6,452.1L1187.3,484.7 1200.2,484.7 1163.6,455.9Z"/>
<path fill="#2e85f8" d="M1187.3,484.7L1226.5,603.2 1239.4,599.5 1200.2,484.7Z"/>
<path fill="#3e26a8" d="M1226.5,603.2L1277.4,617.9 1290.4,614.2 1239.4,599.5Z"/>
<path fill="#3e26a8" d="M617.2,435.3L617.9,428.5 630.9,423.7 630.1,431.6Z"/>
<path fill="#412cb9" d="M617.9,428.5L618.7,420.2 631.7,417.6 630.9,423.7Z"/>
<path fill="#4330c5" d="M618.7,420.2L619.6,414.5 632.6,409.9 631.7,417.6Z"/>
<path fill="#4536d3" d="M619.6,414.5L620.6,407.1 633.5,403.5 632.6,409.9Z"/>
<path fill="#463bde" d="M620.6,407.1L621.6,401.1 634.5,396.6 633.5,403.5Z"/>
<path fill="#4742e6" d="M621.6,401.1L622.6,394.7 635.6,388 634.5,396.6Z"/>
<path fill="#484bee" d="M622.6,394.7L623.8,384.2 636.7,382.5 635.6,388Z"/>
<path fill="#4850f3" d="M623.8,384.2L625,376.2 638,375.2 636.7,382.5Z"/>
<path fill="#4758f8" d="M625,376.2L626.3,369.4 639.3,364.4 638,375.2Z"/>
<path fill="#4562fc" d="M626.3,369.4L627.7,363.3 640.7,358.4 639.3,364.4Z"/>
<path fill="#4269fe" d="M627.7,363.3L629.2,353.7 642.2,347 640.7,358.4Z"/>
<path fill="#3875fe" d="M629.2,353.7L630.8,349.7 643.8,337.4 642.2,347Z"/>
<path fill="#3080fb" d="M630.8,349.7L632.5,339.3 645.5,334.9 643.8,337.4Z"/>
<path fill="#2f82f9" d="M632.5,339.3L634.3,332.6 647.3,334.4 645.5,334.9Z"/>
<path fill="#2e83f9" d="M634.3,332.6L636.3,330.1 649.2,325.4 647.3,334.4Z"/>
<path fill="#2d8cf3" d="M636.3,330.1L638.4,322 651.3,308.4 649.2,325.4Z"/>
<path fill="#259be8" d="M638.4,322L640.6,302.2 653.6,301.5 651.3,308.4Z"/>
<path fill="#22a1e4" d="M640.6,302.2L643,286.8 655.9,295.4 653.6,301.5Z"/>
<path fill="#1ea7e1" d="M643,286.8L645.5,279.2 658.5,275.6 655.9,295.4Z"/>
<path fill="#08b4d1" d="M645.5,279.2L648.2,279.2 661.2,267.8 658.5,275.6Z"/>
<path fill="#01b9c7" d="M648.2,279.2L651.2,270.5 664.1,263.7 661.2,267.8Z"/>
<path fill="#04bbc2" d="M651.2,270.5L654.3,266.9 667.2,249.7 664.1,263.7Z"/>
<path fill="#21c1b0" d="M654.3,266.9L657.6,242.4 670.6,247.6 667.2,249.7Z"/>
<path fill="#26c2ad" d="M657.6,242.4L661.1,227 674.1,204.8 670.6,247.6Z"/>
<path fill="#6ecd67" d="M661.1,227L664.9,200.9 677.9,183.7 674.1,204.8Z"/>
<path fill="#a4c83e" d="M664.9,200.9L669,186.8 682,160 677.9,183.7Z"/>
<path fill="#d9be28" d="M669,186.8L673.3,161.6 686.3,148.9 682,160Z"/>
<path fill="#eeba34" d="M673.3,161.6L678,135.2 690.9,107.6 686.3,148.9Z"/>
<path fill="#f7dd2a" d="M678,135.2L682.9,104.6 695.9,79.9 690.9,107.6Z"/>
<path fill="#f9fb15" d="M682.9,104.6L688.2,121 701.2,127.1 695.9,79.9Z"/>
<path fill="#fdcb33" d="M688.2,121L693.9,117.1 706.9,129.4 701.2,127.1Z"/>
<path fill="#feca33" d="M693.9,117.1L700,144.5 712.9,128.2 706.9,129.4Z"/>
<path fill="#fdcd31" d="M700,144.5L706.4,151.1 719.4,143.9 712.9,128.2Z"/>
<path fill="#febf3b" d="M706.4,151.1L713.4,162.6 726.3,138.3 719.4,143.9Z"/>
<path fill="#fec736" d="M713.4,162.6L720.8,164.1 733.7,155 726.3,138.3Z"/>
<path fill="#f9ba3d" d="M720.8,164.1L728.7,158.8 741.6,130.2 733.7,155Z"/>
<path fill="#fad42e" d="M728.7,158.8L737.1,156.6 750.1,159.4 741.6,130.2Z"/>
<path fill="#f9bb3d" d="M737.1,156.6L746.2,142.5 759.1,155.6 750.1,159.4Z"/>
<path fill="#febf3b" d="M746.2,142.5L755.8,145.3 768.8,137.9 759.1,155.6Z"/>
<path fill="#fad42e" d="M755.8,145.3L766.2,160.8 779.1,120.4 768.8,137.9Z"/>
<path fill="#f5ea23" d="M766.2,160.8L777.2,185 790.2,184.7 779.1,120.4Z"/>
<path fill="#e4bb2c" d="M777.2,185L789,198.6 802,198.1 790.2,184.7Z"/>
<path fill="#d2bf27" d="M789,198.6L801.6,242.5 814.6,241.6 802,198.1Z"/>
<path fill="#76cc60" d="M801.6,242.5L815.1,239.2 828.1,238 814.6,241.6Z"/>
<path fill="#89cb52" d="M815.1,239.2L829.5,250.6 842.5,237 828.1,238Z"/>
<path fill="#96ca48" d="M829.5,250.6L844.9,267.7 857.9,252.6 842.5,237Z"/>
<path fill="#7acc5d" d="M844.9,267.7L861.4,281.9 874.3,266.2 857.9,252.6Z"/>
<path fill="#65cd6e" d="M861.4,281.9L879,311.4 891.9,286.3 874.3,266.2Z"/>
<path fill="#45cb89" d="M879,311.4L897.8,314.1 910.8,298.7 891.9,286.3Z"/>
<path fill="#3ac994" d="M897.8,314.1L917.9,328.7 930.9,320.9 910.8,298.7Z"/>
<path fill="#28c3ab" d="M917.9,328.7L939.4,340.2 952.4,327.9 930.9,320.9Z"/>
<path fill="#27c2ac" d="M939.4,340.2L962.4,358 975.4,355.5 952.4,327.9Z"/>
<path fill="#02bac4" d="M962.4,358L987,374 999.9,373.1 975.4,355.5Z"/>
<path fill="#07b5d0" d="M987,374L1013.2,385.3 1026.2,387.6 999.9,373.1Z"/>
<path fill="#13b1d7" d="M1013.2,385.3L1041.3,407.1 1054.3,398.7 1026.2,387.6Z"/>
<path fill="#16afd9" d="M1041.3,407.1L1071.3,418.7 1084.3,410.3 1054.3,398.7Z"/>
<path fill="#19addc" d="M1071.3,418.7L1103.4,434.6 1116.3,427.9 1084.3,410.3Z"/>
<path fill="#1ea7e1" d="M1103.4,434.6L1137.7,458.2 1150.6,452.1 1116.3,427.9Z"/>
<path fill="#259be8" d="M1137.7,458.2L1174.3,486.7 1187.3,484.7 1150.6,452.1Z"/>
<path fill="#2d88f6" d="M1174.3,486.7L1213.5,606.9 1226.5,603.2 1187.3,484.7Z"/>
<path fill="#3e26a8" d="M1213.5,606.9L1264.5,621.6 1277.4,617.9 1226.5,603.2Z"/>
<path fill="#3e26a8" d="M604.2,439L605,432.8 617.9,428.5 617.2,435.3Z"/>
<path fill="#402bb7" d="M605,432.8L605.8,423.3 618.7,420.2 617.9,428.5Z"/>
<path fill="#4331c7" d="M605.8,423.3L606.7,418.2 619.6,414.5 618.7,420.2Z"/>
<path fill="#4435d2" d="M606.7,418.2L607.6,410.7 620.6,407.1 619.6,414.5Z"/>
<path fill="#463cde" d="M607.6,410.7L608.6,403.4 621.6,401.1 620.6,407.1Z"/>
<path fill="#4741e5" d="M608.6,403.4L609.7,394.9 622.6,394.7 621.6,401.1Z"/>
<path fill="#4848ec" d="M609.7,394.9L610.8,389.7 623.8,384.2 622.6,394.7Z"/>
<path fill="#4852f4" d="M610.8,389.7L612,379.8 625,376.2 623.8,384.2Z"/>
<path fill="#475af9" d="M612,379.8L613.3,372 626.3,369.4 625,376.2Z"/>
<path fill="#4561fc" d="M613.3,372L614.7,367.7 627.7,363.3 626.3,369.4Z"/>
<path fill="#4368fd" d="M614.7,367.7L616.2,353.5 629.2,353.7 627.7,363.3Z"/>
<path fill="#3b72ff" d="M616.2,353.5L617.8,349.7 630.8,349.7 629.2,353.7Z"/>
<path fill="#3777fe" d="M617.8,349.7L619.5,341.3 632.5,339.3 630.8,349.7Z"/>
<path fill="#2f82fa" d="M619.5,341.3L621.4,333.2 634.3,332.6 632.5,339.3Z"/>
<path fill="#2d88f6" d="M621.4,333.2L623.3,329.4 636.3,330.1 634.3,332.6Z"/>
<path fill="#2d8bf4" d="M623.3,329.4L625.4,315.5 638.4,322 636.3,330.1Z"/>
<path fill="#2a93ee" d="M625.4,315.5L627.6,317.5 640.6,302.2 638.4,322Z"/>
<path fill="#21a4e3" d="M627.6,317.5L630,301.2 643,286.8 640.6,302.2Z"/>
<path fill="#15afd9" d="M630,301.2L632.6,295.9 645.5,279.2 643,286.8Z"/>
<path fill="#08b4d1" d="M632.6,295.9L635.3,283.7 648.2,279.2 645.5,279.2Z"/>
<path fill="#07b5d0" d="M635.3,283.7L638.2,274.3 651.2,270.5 648.2,279.2Z"/>
<path fill="#01bac5" d="M638.2,274.3L641.3,255.9 654.3,266.9 651.2,270.5Z"/>
<path fill="#06bcc0" d="M641.3,255.9L644.6,239.5 657.6,242.4 654.3,266.9Z"/>
<path fill="#30c5a1" d="M644.6,239.5L648.2,210.2 661.1,227 657.6,242.4Z"/>
<path fill="#45cb88" d="M648.2,210.2L652,196.4 664.9,200.9 661.1,227Z"/>
<path fill="#83cc57" d="M652,196.4L656,198.8 669,186.8 664.9,200.9Z"/>
<path fill="#a8c73b" d="M656,198.8L660.4,147.8 673.3,161.6 669,186.8Z"/>
<path fill="#dfbc2a" d="M660.4,147.8L665,120.4 678,135.2 673.3,161.6Z"/>
<path fill="#fec338" d="M665,120.4L670,106.6 682.9,104.6 678,135.2Z"/>
<path fill="#f5e526" d="M670,106.6L675.3,128.4 688.2,121 682.9,104.6Z"/>
<path fill="#fad52d" d="M675.3,128.4L680.9,150.6 693.9,117.1 688.2,121Z"/>
<path fill="#f7db2a" d="M680.9,150.6L687,148.1 700,144.5 693.9,117.1Z"/>
<path fill="#fec03a" d="M687,148.1L693.5,126.9 706.4,151.1 700,144.5Z"/>
<path fill="#fcbc3d" d="M693.5,126.9L700.4,112.5 713.4,162.6 706.4,151.1Z"/>
<path fill="#f0ba36" d="M700.4,112.5L707.8,113.2 720.8,164.1 713.4,162.6Z"/>
<path fill="#f1ba37" d="M707.8,113.2L715.7,149.1 728.7,158.8 720.8,164.1Z"/>
<path fill="#fbbc3d" d="M715.7,149.1L724.2,135.2 737.1,156.6 728.7,158.8Z"/>
<path fill="#febf3b" d="M724.2,135.2L733.2,151.2 746.2,142.5 737.1,156.6Z"/>
<path fill="#fcd030" d="M733.2,151.2L742.9,163.8 755.8,145.3 746.2,142.5Z"/>
<path fill="#fcd030" d="M742.9,163.8L753.2,165.5 766.2,160.8 755.8,145.3Z"/>
<path fill="#fec338" d="M753.2,165.5L764.2,187.6 777.2,185 766.2,160.8Z"/>
<path fill="#eabb30" d="M764.2,187.6L776,177.2 789,198.6 777.2,185Z"/>
<path fill="#d8be28" d="M776,177.2L788.6,250.8 801.6,242.5 789,198.6Z"/>
<path fill="#7ecc5b" d="M788.6,250.8L802.1,250.3 815.1,239.2 801.6,242.5Z"/>
<path fill="#8fca4d" d="M802.1,250.3L816.5,274.5 829.5,250.6 815.1,239.2Z"/>
<path fill="#7dcc5b" d="M816.5,274.5L831.9,285.5 844.9,267.7 829.5,250.6Z"/>
<path fill="#5fcd73" d="M831.9,285.5L848.4,305.4 861.4,281.9 844.9,267.7Z"/>
<path fill="#4acb84" d="M848.4,305.4L866,317.1 879,311.4 861.4,281.9Z"/>
<path fill="#2bc3a8" d="M866,317.1L884.8,333.2 897.8,314.1 879,311.4Z"/>
<path fill="#2ec4a5" d="M884.8,333.2L904.9,325.7 917.9,328.7 897.8,314.1Z"/>
<path fill="#22c1b0" d="M904.9,325.7L926.4,347.7 939.4,340.2 917.9,328.7Z"/>
<path fill="#18bfb6" d="M926.4,347.7L949.4,357.4 962.4,358 939.4,340.2Z"/>
<path fill="#02bbc3" d="M949.4,357.4L974,374.9 987,374 962.4,358Z"/>
<path fill="#04b6cd" d="M974,374.9L1000.3,396.3 1013.2,385.3 987,374Z"/>
<path fill="#09b4d1" d="M1000.3,396.3L1028.3,407.5 1041.3,407.1 1013.2,385.3Z"/>
<path fill="#1aabdd" d="M1028.3,407.5L1058.3,427.8 1071.3,418.7 1041.3,407.1Z"/>
<path fill="#1ca9df" d="M1058.3,427.8L1090.4,439.6 1103.4,434.6 1071.3,418.7Z"/>
<path fill="#20a4e3" d="M1090.4,439.6L1124.7,455 1137.7,458.2 1103.4,434.6Z"/>
<path fill="#2699e9" d="M1124.7,455L1161.3,495 1174.3,486.7 1137.7,458.2Z"/>
<path fill="#2d8af5" d="M1161.3,495L1200.5,610.6 1213.5,606.9 1174.3,486.7Z"/>
<path fill="#3e26a8" d="M1200.5,610.6L1251.5,625.3 1264.5,621.6 1213.5,606.9Z"/>
<path fill="#3e26a8" d="M591.2,442.7L592,437.1 605,432.8 604.2,439Z"/>
<path fill="#402ab6" d="M592,437.1L592.8,428.7 605.8,423.3 605,432.8Z"/>
<path fill="#4331c8" d="M592.8,428.7L593.7,420.8 606.7,418.2 605.8,423.3Z"/>
<path fill="#4435d2" d="M593.7,420.8L594.6,414.5 607.6,410.7 606.7,418.2Z"/>
<path fill="#463cde" d="M594.6,414.5L595.6,406.1 608.6,403.4 607.6,410.7Z"/>
<path fill="#4743e7" d="M595.6,406.1L596.7,399.8 609.7,394.9 608.6,403.4Z"/>
<path fill="#484bef" d="M596.7,399.8L597.8,391.3 610.8,389.7 609.7,394.9Z"/>
<path fill="#4851f3" d="M597.8,391.3L599.1,383.8 612,379.8 610.8,389.7Z"/>
<path fill="#475af9" d="M599.1,383.8L600.4,376.5 613.3,372 612,379.8Z"/>
<path fill="#4562fc" d="M600.4,376.5L601.8,369.1 614.7,367.7 613.3,372Z"/>
<path fill="#4367fd" d="M601.8,369.1L603.3,359.3 616.2,353.5 614.7,367.7Z"/>
<path fill="#3876fe" d="M603.3,359.3L604.9,348.7 617.8,349.7 616.2,353.5Z"/>
<path fill="#337bfd" d="M604.9,348.7L606.6,344 619.5,341.3 617.8,349.7Z"/>
<path fill="#2e83f9" d="M606.6,344L608.4,332.4 621.4,333.2 619.5,341.3Z"/>
<path fill="#2d8bf3" d="M608.4,332.4L610.3,331.7 623.3,329.4 621.4,333.2Z"/>
<path fill="#2c8ff0" d="M610.3,331.7L612.4,322.6 625.4,315.5 623.3,329.4Z"/>
<path fill="#259be7" d="M612.4,322.6L614.7,319.5 627.6,317.5 625.4,315.5Z"/>
<path fill="#269ae8" d="M614.7,319.5L617,307.5 630,301.2 627.6,317.5Z"/>
<path fill="#1da8e0" d="M617,307.5L619.6,308.4 632.6,295.9 630,301.2Z"/>
<path fill="#19acdc" d="M619.6,308.4L622.3,277.8 635.3,283.7 632.6,295.9Z"/>
<path fill="#08b4d1" d="M622.3,277.8L625.2,265.5 638.2,274.3 635.3,283.7Z"/>
<path fill="#01b9c6" d="M625.2,265.5L628.3,244.3 641.3,255.9 638.2,274.3Z"/>
<path fill="#23c1af" d="M628.3,244.3L631.7,225.7 644.6,239.5 641.3,255.9Z"/>
<path fill="#36c898" d="M631.7,225.7L635.2,210.2 648.2,210.2 644.6,239.5Z"/>
<path fill="#72cd63" d="M635.2,210.2L639,195.5 652,196.4 648.2,210.2Z"/>
<path fill="#97ca47" d="M639,195.5L643.1,186.1 656,198.8 652,196.4Z"/>
<path fill="#94ca4a" d="M643.1,186.1L647.4,164.2 660.4,147.8 656,198.8Z"/>
<path fill="#fabb3d" d="M647.4,164.2L652,130.9 665,120.4 660.4,147.8Z"/>
<path fill="#f9d72d" d="M652,130.9L657,117.2 670,106.6 665,120.4Z"/>
<path fill="#f5e725" d="M657,117.2L662.3,125.1 675.3,128.4 670,106.6Z"/>
<path fill="#fcd12f" d="M662.3,125.1L668,155.2 680.9,150.6 675.3,128.4Z"/>
<path fill="#fdbd3d" d="M668,155.2L674,113.9 687,148.1 680.9,150.6Z"/>
<path fill="#fec03a" d="M674,113.9L680.5,152.9 693.5,126.9 687,148.1Z"/>
<path fill="#f8d92c" d="M680.5,152.9L687.4,147.7 700.4,112.5 693.5,126.9Z"/>
<path fill="#f5ea23" d="M687.4,147.7L694.8,134.1 707.8,113.2 700.4,112.5Z"/>
<path fill="#f5ec22" d="M694.8,134.1L702.7,157.4 715.7,149.1 707.8,113.2Z"/>
<path fill="#fec835" d="M702.7,157.4L711.2,134.3 724.2,135.2 715.7,149.1Z"/>
<path fill="#f8d92b" d="M711.2,134.3L720.2,159.2 733.2,151.2 724.2,135.2Z"/>
<path fill="#fdcb33" d="M720.2,159.2L729.9,159.3 742.9,163.8 733.2,151.2Z"/>
<path fill="#fec13a" d="M729.9,159.3L740.2,171.2 753.2,165.5 742.9,163.8Z"/>
<path fill="#fec239" d="M740.2,171.2L751.3,186.4 764.2,187.6 753.2,165.5Z"/>
<path fill="#ecba32" d="M751.3,186.4L763.1,209.5 776,177.2 764.2,187.6Z"/>
<path fill="#fdbd3d" d="M763.1,209.5L775.7,251.8 788.6,250.8 776,177.2Z"/>
<path fill="#72cd63" d="M775.7,251.8L789.2,263.5 802.1,250.3 788.6,250.8Z"/>
<path fill="#7dcc5b" d="M789.2,263.5L803.6,282.5 816.5,274.5 802.1,250.3Z"/>
<path fill="#4ecc81" d="M803.6,282.5L819,291 831.9,285.5 816.5,274.5Z"/>
<path fill="#42ca8c" d="M819,291L835.4,309.4 848.4,305.4 831.9,285.5Z"/>
<path fill="#2fc5a2" d="M835.4,309.4L853,311.8 866,317.1 848.4,305.4Z"/>
<path fill="#28c3ab" d="M853,311.8L871.9,331.7 884.8,333.2 866,317.1Z"/>
<path fill="#15bfb8" d="M871.9,331.7L892,337 904.9,325.7 884.8,333.2Z"/>
<path fill="#2cc4a7" d="M892,337L913.5,350.5 926.4,347.7 904.9,325.7Z"/>
<path fill="#0fbebb" d="M913.5,350.5L936.5,364.8 949.4,357.4 926.4,347.7Z"/>
<path fill="#09bcbe" d="M936.5,364.8L961,378.7 974,374.9 949.4,357.4Z"/>
<path fill="#01b8ca" d="M961,378.7L987.3,395.4 1000.3,396.3 974,374.9Z"/>
<path fill="#14b0d8" d="M987.3,395.4L1015.4,416 1028.3,407.5 1000.3,396.3Z"/>
<path fill="#18aedb" d="M1015.4,416L1045.4,419.7 1058.3,427.8 1028.3,407.5Z"/>
<path fill="#1fa5e2" d="M1045.4,419.7L1077.4,441.1 1090.4,439.6 1058.3,427.8Z"/>
<path fill="#21a3e3" d="M1077.4,441.1L1111.7,456.5 1124.7,455 1090.4,439.6Z"/>
<path fill="#249fe6" d="M1111.7,456.5L1148.4,500.9 1161.3,495 1124.7,455Z"/>
<path fill="#2e85f8" d="M1148.4,500.9L1187.6,614.3 1200.5,610.6 1161.3,495Z"/>
<path fill="#3e26a8" d="M1187.6,614.3L1238.5,629 1251.5,625.3 1200.5,610.6Z"/>
<path fill="#3e26a8" d="M578.3,446.4L579,438.2 592,437.1 591.2,442.7Z"/>
<path fill="#402ab4" d="M579,438.2L579.8,433.7 592.8,428.7 592,437.1Z"/>
<path fill="#4330c5" d="M579.8,433.7L580.7,425.2 593.7,420.8 592.8,428.7Z"/>
<path fill="#4536d4" d="M580.7,425.2L581.7,417.3 594.6,414.5 593.7,420.8Z"/>
<path fill="#463cde" d="M581.7,417.3L582.7,409.6 595.6,406.1 594.6,414.5Z"/>
<path fill="#4744e8" d="M582.7,409.6L583.7,403.5 596.7,399.8 595.6,406.1Z"/>
<path fill="#484aee" d="M583.7,403.5L584.9,396.1 597.8,391.3 596.7,399.8Z"/>
<path fill="#4853f4" d="M584.9,396.1L586.1,388.9 599.1,383.8 597.8,391.3Z"/>
<path fill="#475af9" d="M586.1,388.9L587.4,379.9 600.4,376.5 599.1,383.8Z"/>
<path fill="#4562fc" d="M587.4,379.9L588.8,372.2 601.8,369.1 600.4,376.5Z"/>
<path fill="#4269fe" d="M588.8,372.2L590.3,364.1 603.3,359.3 601.8,369.1Z"/>
<path fill="#3a74fe" d="M590.3,364.1L591.9,352.7 604.9,348.7 603.3,359.3Z"/>
<path fill="#307ffb" d="M591.9,352.7L593.6,347.4 606.6,344 604.9,348.7Z"/>
<path fill="#2e84f8" d="M593.6,347.4L595.4,337.4 608.4,332.4 606.6,344Z"/>
<path fill="#2c8ff0" d="M595.4,337.4L597.4,338.3 610.3,331.7 608.4,332.4Z"/>
<path fill="#2b90ef" d="M597.4,338.3L599.5,331.8 612.4,322.6 610.3,331.7Z"/>
<path fill="#2699e9" d="M599.5,331.8L601.7,327.3 614.7,319.5 612.4,322.6Z"/>
<path fill="#259ce7" d="M601.7,327.3L604.1,314.2 617,307.5 614.7,319.5Z"/>
<path fill="#1fa6e2" d="M604.1,314.2L606.6,300.7 619.6,308.4 617,307.5Z"/>
<path fill="#1fa6e2" d="M606.6,300.7L609.3,290 622.3,277.8 619.6,308.4Z"/>
<path fill="#01b9c6" d="M609.3,290L612.3,258.4 625.2,265.5 622.3,277.8Z"/>
<path fill="#16bfb7" d="M612.3,258.4L615.4,247.8 628.3,244.3 625.2,265.5Z"/>
<path fill="#34c79b" d="M615.4,247.8L618.7,226.2 631.7,225.7 628.3,244.3Z"/>
<path fill="#55cc7b" d="M618.7,226.2L622.2,206.6 635.2,210.2 631.7,225.7Z"/>
<path fill="#7ccc5c" d="M622.2,206.6L626,219.1 639,195.5 635.2,210.2Z"/>
<path fill="#a2c83f" d="M626,219.1L630.1,209.3 643.1,186.1 639,195.5Z"/>
<path fill="#bbc430" d="M630.1,209.3L634.4,177.4 647.4,164.2 643.1,186.1Z"/>
<path fill="#e7bb2e" d="M634.4,177.4L639.1,145.9 652,130.9 647.4,164.2Z"/>
<path fill="#fccf30" d="M639.1,145.9L644,125.1 657,117.2 652,130.9Z"/>
<path fill="#f6e028" d="M644,125.1L649.3,139.5 662.3,125.1 657,117.2Z"/>
<path fill="#f8d92c" d="M649.3,139.5L655,149.1 668,155.2 662.3,125.1Z"/>
<path fill="#fcbc3d" d="M655,149.1L661.1,120 674,113.9 668,155.2Z"/>
<path fill="#f5e924" d="M661.1,120L667.5,127.4 680.5,152.9 674,113.9Z"/>
<path fill="#fec13a" d="M667.5,127.4L674.5,112.3 687.4,147.7 680.5,152.9Z"/>
<path fill="#fec834" d="M674.5,112.3L681.9,132.4 694.8,134.1 687.4,147.7Z"/>
<path fill="#f8d92b" d="M681.9,132.4L689.8,153.4 702.7,157.4 694.8,134.1Z"/>
<path fill="#fec338" d="M689.8,153.4L698.2,175.7 711.2,134.3 702.7,157.4Z"/>
<path fill="#f6de29" d="M698.2,175.7L707.3,183 720.2,159.2 711.2,134.3Z"/>
<path fill="#fec636" d="M707.3,183L716.9,182.3 729.9,159.3 720.2,159.2Z"/>
<path fill="#fec934" d="M716.9,182.3L727.3,196.6 740.2,171.2 729.9,159.3Z"/>
<path fill="#fec03b" d="M727.3,196.6L738.3,194.6 751.3,186.4 740.2,171.2Z"/>
<path fill="#f3ba38" d="M738.3,194.6L750.1,200.6 763.1,209.5 751.3,186.4Z"/>
<path fill="#d2bf27" d="M750.1,200.6L762.7,261.6 775.7,251.8 763.1,209.5Z"/>
<path fill="#79cc5e" d="M762.7,261.6L776.2,278.3 789.2,263.5 775.7,251.8Z"/>
<path fill="#66cd6d" d="M776.2,278.3L790.6,290.8 803.6,282.5 789.2,263.5Z"/>
<path fill="#46cb88" d="M790.6,290.8L806,282 819,291 803.6,282.5Z"/>
<path fill="#3eca8f" d="M806,282L822.5,294.2 835.4,309.4 819,291Z"/>
<path fill="#2fc5a2" d="M822.5,294.2L840.1,313.6 853,311.8 835.4,309.4Z"/>
<path fill="#32c69f" d="M840.1,313.6L858.9,338.9 871.9,331.7 853,311.8Z"/>
<path fill="#1fc1b1" d="M858.9,338.9L879,358.2 892,337 871.9,331.7Z"/>
<path fill="#20c1b1" d="M879,358.2L900.5,370.8 913.5,350.5 892,337Z"/>
<path fill="#11beba" d="M900.5,370.8L923.5,364.9 936.5,364.8 913.5,350.5Z"/>
<path fill="#03bbc2" d="M923.5,364.9L948.1,385.8 961,378.7 936.5,364.8Z"/>
<path fill="#01b8ca" d="M948.1,385.8L974.3,401.1 987.3,395.4 961,378.7Z"/>
<path fill="#0db3d4" d="M974.3,401.1L1002.4,414.3 1015.4,416 987.3,395.4Z"/>
<path fill="#1baade" d="M1002.4,414.3L1032.4,433.1 1045.4,419.7 1015.4,416Z"/>
<path fill="#17aedb" d="M1032.4,433.1L1064.5,445.3 1077.4,441.1 1045.4,419.7Z"/>
<path fill="#20a5e2" d="M1064.5,445.3L1098.8,470.9 1111.7,456.5 1077.4,441.1Z"/>
<path fill="#23a1e5" d="M1098.8,470.9L1135.4,504.6 1148.4,500.9 1111.7,456.5Z"/>
<path fill="#2e83f9" d="M1135.4,504.6L1174.6,618 1187.6,614.3 1148.4,500.9Z"/>
<path fill="#3e26a8" d="M1174.6,618L1225.6,632.7 1238.5,629 1187.6,614.3Z"/>
<path fill="#3e26a8" d="M565.3,450.1L566.1,442.3 579,438.2 578.3,446.4Z"/>
<path fill="#412cb9" d="M566.1,442.3L566.9,436.1 579.8,433.7 579,438.2Z"/>
<path fill="#422fc2" d="M566.9,436.1L567.8,430.2 580.7,425.2 579.8,433.7Z"/>
<path fill="#4536d2" d="M567.8,430.2L568.7,421.7 581.7,417.3 580.7,425.2Z"/>
<path fill="#463cdf" d="M568.7,421.7L569.7,415.5 582.7,409.6 581.7,417.3Z"/>
<path fill="#4744e8" d="M569.7,415.5L570.8,408.8 583.7,403.5 582.7,409.6Z"/>
<path fill="#484aee" d="M570.8,408.8L571.9,399.7 584.9,396.1 583.7,403.5Z"/>
<path fill="#4852f4" d="M571.9,399.7L573.1,393.3 586.1,388.9 584.9,396.1Z"/>
<path fill="#4759f8" d="M573.1,393.3L574.4,382.7 587.4,379.9 586.1,388.9Z"/>
<path fill="#4562fc" d="M574.4,382.7L575.8,377.3 588.8,372.2 587.4,379.9Z"/>
<path fill="#426afe" d="M575.8,377.3L577.3,368 590.3,364.1 588.8,372.2Z"/>
<path fill="#3b73fe" d="M577.3,368L578.9,363.2 591.9,352.7 590.3,364.1Z"/>
<path fill="#307ffb" d="M578.9,363.2L580.6,350.3 593.6,347.4 591.9,352.7Z"/>
<path fill="#2e85f8" d="M580.6,350.3L582.5,347.3 595.4,337.4 593.6,347.4Z"/>
<path fill="#2c8ef1" d="M582.5,347.3L584.4,338.8 597.4,338.3 595.4,337.4Z"/>
<path fill="#2c8ef1" d="M584.4,338.8L586.5,339.7 599.5,331.8 597.4,338.3Z"/>
<path fill="#2994ed" d="M586.5,339.7L588.7,328.2 601.7,327.3 599.5,331.8Z"/>
<path fill="#2698ea" d="M588.7,328.2L591.1,314.1 604.1,314.2 601.7,327.3Z"/>
<path fill="#21a3e3" d="M591.1,314.1L593.7,302 606.6,300.7 604.1,314.2Z"/>
<path fill="#17aeda" d="M593.7,302L596.4,284.6 609.3,290 606.6,300.7Z"/>
<path fill="#07b5d0" d="M596.4,284.6L599.3,274.1 612.3,258.4 609.3,290Z"/>
<path fill="#29c3aa" d="M599.3,274.1L602.4,240.7 615.4,247.8 612.3,258.4Z"/>
<path fill="#35c79b" d="M602.4,240.7L605.7,220.6 618.7,226.2 615.4,247.8Z"/>
<path fill="#5ccc76" d="M605.7,220.6L609.3,227.4 622.2,206.6 618.7,226.2Z"/>
<path fill="#8ecb4f" d="M609.3,227.4L613.1,218.1 626,219.1 622.2,206.6Z"/>
<path fill="#71cd64" d="M613.1,218.1L617.1,167.9 630.1,209.3 626,219.1Z"/>
<path fill="#8dcb4f" d="M617.1,167.9L621.5,146.3 634.4,177.4 630.1,209.3Z"/>
<path fill="#d6be28" d="M621.5,146.3L626.1,138 639.1,145.9 634.4,177.4Z"/>
<path fill="#fec438" d="M626.1,138L631.1,113.3 644,125.1 639.1,145.9Z"/>
<path fill="#f7db2a" d="M631.1,113.3L636.4,150.3 649.3,139.5 644,125.1Z"/>
<path fill="#fdcd31" d="M636.4,150.3L642,146.1 655,149.1 649.3,139.5Z"/>
<path fill="#fec537" d="M642,146.1L648.1,164.8 661.1,120 655,149.1Z"/>
<path fill="#f5e626" d="M648.1,164.8L654.6,125.9 667.5,127.4 661.1,120Z"/>
<path fill="#f6e028" d="M654.6,125.9L661.5,107.2 674.5,112.3 667.5,127.4Z"/>
<path fill="#f6f21e" d="M661.5,107.2L668.9,140.7 681.9,132.4 674.5,112.3Z"/>
<path fill="#f6df29" d="M668.9,140.7L676.8,174.1 689.8,153.4 681.9,132.4Z"/>
<path fill="#fdcb33" d="M676.8,174.1L685.3,170 698.2,175.7 689.8,153.4Z"/>
<path fill="#f7ba3c" d="M685.3,170L694.3,184 707.3,183 698.2,175.7Z"/>
<path fill="#f0ba36" d="M694.3,184L704,192.4 716.9,182.3 707.3,183Z"/>
<path fill="#f5ba3b" d="M704,192.4L714.3,195.3 727.3,196.6 716.9,182.3Z"/>
<path fill="#e4bb2c" d="M714.3,195.3L725.3,186.3 738.3,194.6 727.3,196.6Z"/>
<path fill="#ecba32" d="M725.3,186.3L737.1,202.9 750.1,200.6 738.3,194.6Z"/>
<path fill="#e8bb2f" d="M737.1,202.9L749.7,253.3 762.7,261.6 750.1,200.6Z"/>
<path fill="#6acd6a" d="M749.7,253.3L763.2,267.9 776.2,278.3 762.7,261.6Z"/>
<path fill="#4dcc82" d="M763.2,267.9L777.6,277.4 790.6,290.8 776.2,278.3Z"/>
<path fill="#3eca8f" d="M777.6,277.4L793,293.6 806,282 790.6,290.8Z"/>
<path fill="#58cc79" d="M793,293.6L809.5,300.1 822.5,294.2 806,282Z"/>
<path fill="#48cb86" d="M809.5,300.1L827.1,320.3 840.1,313.6 822.5,294.2Z"/>
<path fill="#34c79c" d="M827.1,320.3L845.9,338.7 858.9,338.9 840.1,313.6Z"/>
<path fill="#19bfb6" d="M845.9,338.7L866,348.2 879,358.2 858.9,338.9Z"/>
<path fill="#01bac5" d="M866,348.2L887.5,367.7 900.5,370.8 879,358.2Z"/>
<path fill="#04b6cc" d="M887.5,367.7L910.5,377.1 923.5,364.9 900.5,370.8Z"/>
<path fill="#09bcbe" d="M910.5,377.1L935.1,390.6 948.1,385.8 923.5,364.9Z"/>
<path fill="#05b6ce" d="M935.1,390.6L961.4,408.8 974.3,401.1 948.1,385.8Z"/>
<path fill="#11b1d6" d="M961.4,408.8L989.4,420.3 1002.4,414.3 974.3,401.1Z"/>
<path fill="#17aeda" d="M989.4,420.3L1019.4,436.4 1032.4,433.1 1002.4,414.3Z"/>
<path fill="#1ea7e1" d="M1019.4,436.4L1051.5,460.7 1064.5,445.3 1032.4,433.1Z"/>
<path fill="#20a5e3" d="M1051.5,460.7L1085.8,475.5 1098.8,470.9 1064.5,445.3Z"/>
<path fill="#2798ea" d="M1085.8,475.5L1122.4,508.2 1135.4,504.6 1098.8,470.9Z"/>
<path fill="#2e83f9" d="M1122.4,508.2L1161.6,621.7 1174.6,618 1135.4,504.6Z"/>
<path fill="#3e26a8" d="M1161.6,621.7L1212.6,636.4 1225.6,632.7 1174.6,618Z"/>
<path fill="#3e26a8" d="M552.3,453.8L553.1,447.5 566.1,442.3 565.3,450.1Z"/>
<path fill="#412cb8" d="M553.1,447.5L553.9,439.3 566.9,436.1 566.1,442.3Z"/>
<path fill="#4330c5" d="M553.9,439.3L554.8,431.3 567.8,430.2 566.9,436.1Z"/>
<path fill="#4435d0" d="M554.8,431.3L555.7,426 568.7,421.7 567.8,430.2Z"/>
<path fill="#463cde" d="M555.7,426L556.7,418.7 569.7,415.5 568.7,421.7Z"/>
<path fill="#4742e6" d="M556.7,418.7L557.8,411.8 570.8,408.8 569.7,415.5Z"/>
<path fill="#4849ed" d="M557.8,411.8L558.9,400.9 571.9,399.7 570.8,408.8Z"/>
<path fill="#4852f4" d="M558.9,400.9L560.2,397 573.1,393.3 571.9,399.7Z"/>
<path fill="#4758f8" d="M560.2,397L561.5,391 574.4,382.7 573.1,393.3Z"/>
<path fill="#4563fc" d="M561.5,391L562.9,383.9 575.8,377.3 574.4,382.7Z"/>
<path fill="#4369fe" d="M562.9,383.9L564.4,373.4 577.3,368 575.8,377.3Z"/>
<path fill="#3b73fe" d="M564.4,373.4L566,361.4 578.9,363.2 577.3,368Z"/>
<path fill="#3678fd" d="M566,361.4L567.7,356.3 580.6,350.3 578.9,363.2Z"/>
<path fill="#2e85f8" d="M567.7,356.3L569.5,350.2 582.5,347.3 580.6,350.3Z"/>
<path fill="#2d89f6" d="M569.5,350.2L571.4,348.4 584.4,338.8 582.5,347.3Z"/>
<path fill="#2b91ef" d="M571.4,348.4L573.5,343.9 586.5,339.7 584.4,338.8Z"/>
<path fill="#2b90ef" d="M573.5,343.9L575.8,326.4 588.7,328.2 586.5,339.7Z"/>
<path fill="#269be8" d="M575.8,326.4L578.1,316.2 591.1,314.1 588.7,328.2Z"/>
<path fill="#1fa6e1" d="M578.1,316.2L580.7,297.5 593.7,302 591.1,314.1Z"/>
<path fill="#15afd8" d="M580.7,297.5L583.4,283 596.4,284.6 593.7,302Z"/>
<path fill="#01b9c6" d="M583.4,283L586.3,279.7 599.3,274.1 596.4,284.6Z"/>
<path fill="#13beb9" d="M586.3,279.7L589.4,259.2 602.4,240.7 599.3,274.1Z"/>
<path fill="#43ca8a" d="M589.4,259.2L592.8,250.7 605.7,220.6 602.4,240.7Z"/>
<path fill="#71cd64" d="M592.8,250.7L596.3,228.7 609.3,227.4 605.7,220.6Z"/>
<path fill="#64cd6f" d="M596.3,228.7L600.1,242.7 613.1,218.1 609.3,227.4Z"/>
<path fill="#7dcc5b" d="M600.1,242.7L604.2,190 617.1,167.9 613.1,218.1Z"/>
<path fill="#ebba31" d="M604.2,190L608.5,179 621.5,146.3 617.1,167.9Z"/>
<path fill="#fec636" d="M608.5,179L613.2,140.8 626.1,138 621.5,146.3Z"/>
<path fill="#fcd030" d="M613.2,140.8L618.1,124 631.1,113.3 626.1,138Z"/>
<path fill="#f5ec22" d="M618.1,124L623.4,162.8 636.4,150.3 631.1,113.3Z"/>
<path fill="#fec636" d="M623.4,162.8L629.1,146.8 642,146.1 636.4,150.3Z"/>
<path fill="#fdcc32" d="M629.1,146.8L635.1,155.5 648.1,164.8 642,146.1Z"/>
<path fill="#fbbc3d" d="M635.1,155.5L641.6,163.6 654.6,125.9 648.1,164.8Z"/>
<path fill="#f5e626" d="M641.6,163.6L648.5,151.7 661.5,107.2 654.6,125.9Z"/>
<path fill="#f9fb15" d="M648.5,151.7L655.9,156.3 668.9,140.7 661.5,107.2Z"/>
<path fill="#f8da2b" d="M655.9,156.3L663.8,147.8 676.8,174.1 668.9,140.7Z"/>
<path fill="#fabb3d" d="M663.8,147.8L672.3,165.8 685.3,170 676.8,174.1Z"/>
<path fill="#fec03a" d="M672.3,165.8L681.3,155.1 694.3,184 685.3,170Z"/>
<path fill="#f4ba3a" d="M681.3,155.1L691,192 704,192.4 694.3,184Z"/>
<path fill="#ecba32" d="M691,192L701.3,195.8 714.3,195.3 704,192.4Z"/>
<path fill="#ecba32" d="M701.3,195.8L712.4,196.6 725.3,186.3 714.3,195.3Z"/>
<path fill="#fcbc3d" d="M712.4,196.6L724.2,247 737.1,202.9 725.3,186.3Z"/>
<path fill="#eaba31" d="M724.2,247L736.8,269.9 749.7,253.3 737.1,202.9Z"/>
<path fill="#87cb54" d="M736.8,269.9L750.3,258.6 763.2,267.9 749.7,253.3Z"/>
<path fill="#6dcd68" d="M750.3,258.6L764.7,285.7 777.6,277.4 763.2,267.9Z"/>
<path fill="#60cd72" d="M764.7,285.7L780.1,291.5 793,293.6 777.6,277.4Z"/>
<path fill="#47cb87" d="M780.1,291.5L796.5,309.1 809.5,300.1 793,293.6Z"/>
<path fill="#44cb8a" d="M796.5,309.1L814.1,325.4 827.1,320.3 809.5,300.1Z"/>
<path fill="#31c6a0" d="M814.1,325.4L833,333.7 845.9,338.7 827.1,320.3Z"/>
<path fill="#20c1b1" d="M833,333.7L853.1,368.7 866,348.2 845.9,338.7Z"/>
<path fill="#19bfb5" d="M853.1,368.7L874.6,371.8 887.5,367.7 866,348.2Z"/>
<path fill="#02bac5" d="M874.6,371.8L897.6,384.2 910.5,377.1 887.5,367.7Z"/>
<path fill="#01b9c8" d="M897.6,384.2L922.1,389.6 935.1,390.6 910.5,377.1Z"/>
<path fill="#06b5cf" d="M922.1,389.6L948.4,407.6 961.4,408.8 935.1,390.6Z"/>
<path fill="#16afd9" d="M948.4,407.6L976.5,427.4 989.4,420.3 961.4,408.8Z"/>
<path fill="#19addc" d="M976.5,427.4L1006.5,442.9 1019.4,436.4 989.4,420.3Z"/>
<path fill="#1ea7e1" d="M1006.5,442.9L1038.5,465.2 1051.5,460.7 1019.4,436.4Z"/>
<path fill="#259be8" d="M1038.5,465.2L1072.8,481.6 1085.8,475.5 1051.5,460.7Z"/>
<path fill="#2797eb" d="M1072.8,481.6L1109.5,511.8 1122.4,508.2 1085.8,475.5Z"/>
<path fill="#2e83f9" d="M1109.5,511.8L1148.7,625.4 1161.6,621.7 1122.4,508.2Z"/>
<path fill="#3e26a8" d="M1148.7,625.4L1199.6,640.1 1212.6,636.4 1161.6,621.7Z"/>
<path fill="#3e26a8" d="M539.4,457.5L540.1,448.2 553.1,447.5 552.3,453.8Z"/>
<path fill="#402bb6" d="M540.1,448.2L540.9,442.4 553.9,439.3 553.1,447.5Z"/>
<path fill="#4331c6" d="M540.9,442.4L541.8,435.9 554.8,431.3 553.9,439.3Z"/>
<path fill="#4537d5" d="M541.8,435.9L542.8,426.4 555.7,426 554.8,431.3Z"/>
<path fill="#463bdd" d="M542.8,426.4L543.8,418.9 556.7,418.7 555.7,426Z"/>
<path fill="#4742e6" d="M543.8,418.9L544.8,413.5 557.8,411.8 556.7,418.7Z"/>
<path fill="#4849ed" d="M544.8,413.5L546,402.3 558.9,400.9 557.8,411.8Z"/>
<path fill="#4854f5" d="M546,402.3L547.2,401 560.2,397 558.9,400.9Z"/>
<path fill="#4758f8" d="M547.2,401L548.5,393.8 561.5,391 560.2,397Z"/>
<path fill="#465efb" d="M548.5,393.8L549.9,385.7 562.9,383.9 561.5,391Z"/>
<path fill="#4466fd" d="M549.9,385.7L551.4,376.7 564.4,373.4 562.9,383.9Z"/>
<path fill="#3d71ff" d="M551.4,376.7L553,368.4 566,361.4 564.4,373.4Z"/>
<path fill="#317efb" d="M553,368.4L554.7,358.9 567.7,356.3 566,361.4Z"/>
<path fill="#2e83f9" d="M554.7,358.9L556.5,353.9 569.5,350.2 567.7,356.3Z"/>
<path fill="#2d89f5" d="M556.5,353.9L558.5,351.8 571.4,348.4 569.5,350.2Z"/>
<path fill="#2d8bf3" d="M558.5,351.8L560.6,340.8 573.5,343.9 571.4,348.4Z"/>
<path fill="#2c90f0" d="M560.6,340.8L562.8,340.2 575.8,326.4 573.5,343.9Z"/>
<path fill="#249fe5" d="M562.8,340.2L565.2,321.5 578.1,316.2 575.8,326.4Z"/>
<path fill="#1ea8e1" d="M565.2,321.5L567.7,310.1 580.7,297.5 578.1,316.2Z"/>
<path fill="#08b4d0" d="M567.7,310.1L570.4,300 583.4,283 580.7,297.5Z"/>
<path fill="#07bcc0" d="M570.4,300L573.4,284.4 586.3,279.7 583.4,283Z"/>
<path fill="#0fbebb" d="M573.4,284.4L576.5,278.8 589.4,259.2 586.3,279.7Z"/>
<path fill="#31c6a0" d="M576.5,278.8L579.8,247.3 592.8,250.7 589.4,259.2Z"/>
<path fill="#3bc992" d="M579.8,247.3L583.3,253.4 596.3,228.7 592.8,250.7Z"/>
<path fill="#69cd6a" d="M583.3,253.4L587.1,224 600.1,242.7 596.3,228.7Z"/>
<path fill="#4dcc82" d="M587.1,224L591.2,209.3 604.2,190 600.1,242.7Z"/>
<path fill="#cac129" d="M591.2,209.3L595.5,199.9 608.5,179 604.2,190Z"/>
<path fill="#e1bc2b" d="M595.5,199.9L600.2,150.6 613.2,140.8 608.5,179Z"/>
<path fill="#fcd130" d="M600.2,150.6L605.1,136.1 618.1,124 613.2,140.8Z"/>
<path fill="#f5e426" d="M605.1,136.1L610.4,169.7 623.4,162.8 618.1,124Z"/>
<path fill="#febd3c" d="M610.4,169.7L616.1,186.3 629.1,146.8 623.4,162.8Z"/>
<path fill="#fccf30" d="M616.1,186.3L622.2,172.2 635.1,155.5 629.1,146.8Z"/>
<path fill="#fec835" d="M622.2,172.2L628.6,162 641.6,163.6 635.1,155.5Z"/>
<path fill="#fec239" d="M628.6,162L635.6,138.1 648.5,151.7 641.6,163.6Z"/>
<path fill="#fcd030" d="M635.6,138.1L643,157.1 655.9,156.3 648.5,151.7Z"/>
<path fill="#fdcd31" d="M643,157.1L650.9,173.2 663.8,147.8 655.9,156.3Z"/>
<path fill="#f8d92c" d="M650.9,173.2L659.3,176.9 672.3,165.8 663.8,147.8Z"/>
<path fill="#fec834" d="M659.3,176.9L668.4,190.6 681.3,155.1 672.3,165.8Z"/>
<path fill="#f9d62d" d="M668.4,190.6L678,187.4 691,192 681.3,155.1Z"/>
<path fill="#f2ba38" d="M678,187.4L688.4,181 701.3,195.8 691,192Z"/>
<path fill="#f1ba37" d="M688.4,181L699.4,184.4 712.4,196.6 701.3,195.8Z"/>
<path fill="#f4ba3a" d="M699.4,184.4L711.2,249.7 724.2,247 712.4,196.6Z"/>
<path fill="#97ca47" d="M711.2,249.7L723.8,264.5 736.8,269.9 724.2,247Z"/>
<path fill="#68cd6c" d="M723.8,264.5L737.3,261 750.3,258.6 736.8,269.9Z"/>
<path fill="#8dcb4f" d="M737.3,261L751.7,291.6 764.7,285.7 750.3,258.6Z"/>
<path fill="#56cc7b" d="M751.7,291.6L767.1,298.3 780.1,291.5 764.7,285.7Z"/>
<path fill="#53cc7d" d="M767.1,298.3L783.6,322.7 796.5,309.1 780.1,291.5Z"/>
<path fill="#3bc992" d="M783.6,322.7L801.2,329.3 814.1,325.4 796.5,309.1Z"/>
<path fill="#2fc5a2" d="M801.2,329.3L820,349.2 833,333.7 814.1,325.4Z"/>
<path fill="#2dc4a6" d="M820,349.2L840.1,367.9 853.1,368.7 833,333.7Z"/>
<path fill="#01b8c9" d="M840.1,367.9L861.6,379.1 874.6,371.8 853.1,368.7Z"/>
<path fill="#01bac5" d="M861.6,379.1L884.6,393.3 897.6,384.2 874.6,371.8Z"/>
<path fill="#03b7cc" d="M884.6,393.3L909.2,404.1 922.1,389.6 897.6,384.2Z"/>
<path fill="#01b8ca" d="M909.2,404.1L935.4,411.7 948.4,407.6 922.1,389.6Z"/>
<path fill="#0fb2d5" d="M935.4,411.7L963.5,426.7 976.5,427.4 948.4,407.6Z"/>
<path fill="#1baade" d="M963.5,426.7L993.5,439 1006.5,442.9 976.5,427.4Z"/>
<path fill="#20a5e2" d="M993.5,439L1025.6,462 1038.5,465.2 1006.5,442.9Z"/>
<path fill="#269be8" d="M1025.6,462L1059.9,484.3 1072.8,481.6 1038.5,465.2Z"/>
<path fill="#2895ec" d="M1059.9,484.3L1096.5,515.7 1109.5,511.8 1072.8,481.6Z"/>
<path fill="#2e84f9" d="M1096.5,515.7L1135.7,629.1 1148.7,625.4 1109.5,511.8Z"/>
<path fill="#3e26a8" d="M1135.7,629.1L1186.7,643.8 1199.6,640.1 1148.7,625.4Z"/>
<path fill="#3e26a8" d="M526.4,461.2L527.2,454.7 540.1,448.2 539.4,457.5Z"/>
<path fill="#412dbb" d="M527.2,454.7L528,445.9 540.9,442.4 540.1,448.2Z"/>
<path fill="#4331c7" d="M528,445.9L528.9,438.7 541.8,435.9 540.9,442.4Z"/>
<path fill="#4536d3" d="M528.9,438.7L529.8,431 542.8,426.4 541.8,435.9Z"/>
<path fill="#473ee1" d="M529.8,431L530.8,423.5 543.8,418.9 542.8,426.4Z"/>
<path fill="#4746ea" d="M530.8,423.5L531.9,413.5 544.8,413.5 543.8,418.9Z"/>
<path fill="#484bef" d="M531.9,413.5L533,406.8 546,402.3 544.8,413.5Z"/>
<path fill="#4756f7" d="M533,406.8L534.2,404.2 547.2,401 546,402.3Z"/>
<path fill="#4758f8" d="M534.2,404.2L535.5,396.1 548.5,393.8 547.2,401Z"/>
<path fill="#465ffb" d="M535.5,396.1L536.9,387.4 549.9,385.7 548.5,393.8Z"/>
<path fill="#4367fd" d="M536.9,387.4L538.4,381.4 551.4,376.7 549.9,385.7Z"/>
<path fill="#3c71ff" d="M538.4,381.4L540,371.1 553,368.4 551.4,376.7Z"/>
<path fill="#337afd" d="M540,371.1L541.7,366.6 554.7,358.9 553,368.4Z"/>
<path fill="#2e84f8" d="M541.7,366.6L543.6,363.5 556.5,353.9 554.7,358.9Z"/>
<path fill="#2d89f5" d="M543.6,363.5L545.5,359 558.5,351.8 556.5,353.9Z"/>
<path fill="#2d8cf3" d="M545.5,359L547.6,343.9 560.6,340.8 558.5,351.8Z"/>
<path fill="#2896ec" d="M547.6,343.9L549.8,333.6 562.8,340.2 560.6,340.8Z"/>
<path fill="#2797eb" d="M549.8,333.6L552.2,315.4 565.2,321.5 562.8,340.2Z"/>
<path fill="#1fa6e1" d="M552.2,315.4L554.8,316 567.7,310.1 565.2,321.5Z"/>
<path fill="#15afd9" d="M554.8,316L557.5,310.7 570.4,300 567.7,310.1Z"/>
<path fill="#06b5ce" d="M557.5,310.7L560.4,303.6 573.4,284.4 570.4,300Z"/>
<path fill="#0cbdbc" d="M560.4,303.6L563.5,283 576.5,278.8 573.4,284.4Z"/>
<path fill="#1bc0b4" d="M563.5,283L566.8,262.8 579.8,247.3 576.5,278.8Z"/>
<path fill="#47cb87" d="M566.8,262.8L570.4,252.1 583.3,253.4 579.8,247.3Z"/>
<path fill="#3eca8f" d="M570.4,252.1L574.2,218.4 587.1,224 583.3,253.4Z"/>
<path fill="#81cc58" d="M574.2,218.4L578.2,212.7 591.2,209.3 587.1,224Z"/>
<path fill="#a7c73c" d="M578.2,212.7L582.6,206.5 595.5,199.9 591.2,209.3Z"/>
<path fill="#bfc32d" d="M582.6,206.5L587.2,142 600.2,150.6 595.5,199.9Z"/>
<path fill="#feca33" d="M587.2,142L592.2,142.5 605.1,136.1 600.2,150.6Z"/>
<path fill="#f7db2a" d="M592.2,142.5L597.5,159.4 610.4,169.7 605.1,136.1Z"/>
<path fill="#fabb3d" d="M597.5,159.4L603.1,193 616.1,186.3 610.4,169.7Z"/>
<path fill="#e5bb2d" d="M603.1,193L609.2,190 622.2,172.2 616.1,186.3Z"/>
<path fill="#fbbc3d" d="M609.2,190L615.7,164.9 628.6,162 622.2,172.2Z"/>
<path fill="#fec735" d="M615.7,164.9L622.6,156.6 635.6,138.1 628.6,162Z"/>
<path fill="#f5e327" d="M622.6,156.6L630,159.6 643,157.1 635.6,138.1Z"/>
<path fill="#fcd030" d="M630,159.6L637.9,182.2 650.9,173.2 643,157.1Z"/>
<path fill="#fec239" d="M637.9,182.2L646.4,189.9 659.3,176.9 650.9,173.2Z"/>
<path fill="#fec13a" d="M646.4,189.9L655.4,201.2 668.4,190.6 659.3,176.9Z"/>
<path fill="#f5ba3b" d="M655.4,201.2L665.1,214.4 678,187.4 668.4,190.6Z"/>
<path fill="#fcbd3d" d="M665.1,214.4L675.4,196.1 688.4,181 678,187.4Z"/>
<path fill="#fec537" d="M675.4,196.1L686.4,265.1 699.4,184.4 688.4,181Z"/>
<path fill="#fec537" d="M686.4,265.1L698.2,263.8 711.2,249.7 699.4,184.4Z"/>
<path fill="#9ac946" d="M698.2,263.8L710.8,266.5 723.8,264.5 711.2,249.7Z"/>
<path fill="#7ecc5b" d="M710.8,266.5L724.3,265.8 737.3,261 723.8,264.5Z"/>
<path fill="#90ca4d" d="M724.3,265.8L738.7,288.9 751.7,291.6 737.3,261Z"/>
<path fill="#52cc7e" d="M738.7,288.9L754.1,297.9 767.1,298.3 751.7,291.6Z"/>
<path fill="#4dcb82" d="M754.1,297.9L770.6,313.7 783.6,322.7 767.1,298.3Z"/>
<path fill="#31c6a1" d="M770.6,313.7L788.2,341.4 801.2,329.3 783.6,322.7Z"/>
<path fill="#2fc5a3" d="M788.2,341.4L807,345.5 820,349.2 801.2,329.3Z"/>
<path fill="#1ac0b5" d="M807,345.5L827.1,371.5 840.1,367.9 820,349.2Z"/>
<path fill="#02bac4" d="M827.1,371.5L848.6,390.5 861.6,379.1 840.1,367.9Z"/>
<path fill="#01b8c9" d="M848.6,390.5L871.6,405.7 884.6,393.3 861.6,379.1Z"/>
<path fill="#0ab4d1" d="M871.6,405.7L896.2,410.6 909.2,404.1 884.6,393.3Z"/>
<path fill="#10b2d5" d="M896.2,410.6L922.5,414.4 935.4,411.7 909.2,404.1Z"/>
<path fill="#10b2d5" d="M922.5,414.4L950.5,426.8 963.5,426.7 935.4,411.7Z"/>
<path fill="#18addb" d="M950.5,426.8L980.5,448.1 993.5,439 963.5,426.7Z"/>
<path fill="#1babde" d="M980.5,448.1L1012.6,466.7 1025.6,462 993.5,439Z"/>
<path fill="#23a0e5" d="M1012.6,466.7L1046.9,488.5 1059.9,484.3 1025.6,462Z"/>
<path fill="#2896eb" d="M1046.9,488.5L1083.5,519.5 1096.5,515.7 1059.9,484.3Z"/>
<path fill="#2e83f9" d="M1083.5,519.5L1122.7,632.8 1135.7,629.1 1096.5,515.7Z"/>
<path fill="#3e26a8" d="M1122.7,632.8L1173.7,647.5 1186.7,643.8 1135.7,629.1Z"/>
<path fill="#3e26a8" d="M513.4,464.9L514.2,458.3 527.2,454.7 526.4,461.2Z"/>
<path fill="#402bb6" d="M514.2,458.3L515,449.3 528,445.9 527.2,454.7Z"/>
<path fill="#4331c7" d="M515,449.3L515.9,444.8 528.9,438.7 528,445.9Z"/>
<path fill="#4536d5" d="M515.9,444.8L516.8,434.6 529.8,431 528.9,438.7Z"/>
<path fill="#463de0" d="M516.8,434.6L517.8,427 530.8,423.5 529.8,431Z"/>
<path fill="#4745e9" d="M517.8,427L518.9,418.1 531.9,413.5 530.8,423.5Z"/>
<path fill="#484ff2" d="M518.9,418.1L520,413 533,406.8 531.9,413.5Z"/>
<path fill="#4755f6" d="M520,413L521.3,409.3 534.2,404.2 533,406.8Z"/>
<path fill="#4758f8" d="M521.3,409.3L522.6,400.6 535.5,396.1 534.2,404.2Z"/>
<path fill="#4660fc" d="M522.6,400.6L524,392.1 536.9,387.4 535.5,396.1Z"/>
<path fill="#426afe" d="M524,392.1L525.5,382.5 538.4,381.4 536.9,387.4Z"/>
<path fill="#3d70ff" d="M525.5,382.5L527.1,376.5 540,371.1 538.4,381.4Z"/>
<path fill="#327cfc" d="M527.1,376.5L528.8,368.6 541.7,366.6 540,371.1Z"/>
<path fill="#2f80fa" d="M528.8,368.6L530.6,365 543.6,363.5 541.7,366.6Z"/>
<path fill="#2e84f9" d="M530.6,365L532.5,358.7 545.5,359 543.6,363.5Z"/>
<path fill="#2d88f6" d="M532.5,358.7L534.6,345.4 547.6,343.9 545.5,359Z"/>
<path fill="#2796eb" d="M534.6,345.4L536.9,333.5 549.8,333.6 547.6,343.9Z"/>
<path fill="#249fe5" d="M536.9,333.5L539.2,317.5 552.2,315.4 549.8,333.6Z"/>
<path fill="#18addb" d="M539.2,317.5L541.8,320.2 554.8,316 552.2,315.4Z"/>
<path fill="#18aedb" d="M541.8,320.2L544.5,302.7 557.5,310.7 554.8,316Z"/>
<path fill="#11b2d5" d="M544.5,302.7L547.4,310.2 560.4,303.6 557.5,310.7Z"/>
<path fill="#05b6cd" d="M547.4,310.2L550.5,291.1 563.5,283 560.4,303.6Z"/>
<path fill="#1abfb5" d="M550.5,291.1L553.9,279.2 566.8,262.8 563.5,283Z"/>
<path fill="#35c79a" d="M553.9,279.2L557.4,257 570.4,252.1 566.8,262.8Z"/>
<path fill="#47cb87" d="M557.4,257L561.2,239.9 574.2,218.4 570.4,252.1Z"/>
<path fill="#98ca47" d="M561.2,239.9L565.3,198 578.2,212.7 574.2,218.4Z"/>
<path fill="#a8c73b" d="M565.3,198L569.6,175.8 582.6,206.5 578.2,212.7Z"/>
<path fill="#b9c430" d="M569.6,175.8L574.3,160.6 587.2,142 582.6,206.5Z"/>
<path fill="#f9d72c" d="M574.3,160.6L579.2,150.2 592.2,142.5 587.2,142Z"/>
<path fill="#f8d82c" d="M579.2,150.2L584.5,190.9 597.5,159.4 592.2,142.5Z"/>
<path fill="#fec835" d="M584.5,190.9L590.2,169.2 603.1,193 597.5,159.4Z"/>
<path fill="#e0bc2a" d="M590.2,169.2L596.2,182.6 609.2,190 603.1,193Z"/>
<path fill="#e8bb2f" d="M596.2,182.6L602.7,166.7 615.7,164.9 609.2,190Z"/>
<path fill="#fec835" d="M602.7,166.7L609.6,144.3 622.6,156.6 615.7,164.9Z"/>
<path fill="#fbd22f" d="M609.6,144.3L617,182.2 630,159.6 622.6,156.6Z"/>
<path fill="#fbd22f" d="M617,182.2L624.9,193.7 637.9,182.2 630,159.6Z"/>
<path fill="#fdbd3d" d="M624.9,193.7L633.4,198.4 646.4,189.9 637.9,182.2Z"/>
<path fill="#f8ba3d" d="M633.4,198.4L642.4,185.8 655.4,201.2 646.4,189.9Z"/>
<path fill="#ebba31" d="M642.4,185.8L652.1,212.5 665.1,214.4 655.4,201.2Z"/>
<path fill="#d9bd28" d="M652.1,212.5L662.4,235 675.4,196.1 665.1,214.4Z"/>
<path fill="#fabb3d" d="M662.4,235L673.5,272.6 686.4,265.1 675.4,196.1Z"/>
<path fill="#74cc62" d="M673.5,272.6L685.3,261 698.2,263.8 686.4,265.1Z"/>
<path fill="#80cc59" d="M685.3,261L697.9,277.4 710.8,266.5 698.2,263.8Z"/>
<path fill="#82cc57" d="M697.9,277.4L711.4,274.1 724.3,265.8 710.8,266.5Z"/>
<path fill="#8ecb4f" d="M711.4,274.1L725.8,287.1 738.7,288.9 724.3,265.8Z"/>
<path fill="#5fcd73" d="M725.8,287.1L741.2,295.4 754.1,297.9 738.7,288.9Z"/>
<path fill="#56cc7b" d="M741.2,295.4L757.6,317.3 770.6,313.7 754.1,297.9Z"/>
<path fill="#3fca8e" d="M757.6,317.3L775.3,335.8 788.2,341.4 770.6,313.7Z"/>
<path fill="#25c2ad" d="M775.3,335.8L794.1,353.4 807,345.5 788.2,341.4Z"/>
<path fill="#27c2ac" d="M794.1,353.4L814.2,383.2 827.1,371.5 807,345.5Z"/>
<path fill="#02bac4" d="M814.2,383.2L835.7,397.3 848.6,390.5 827.1,371.5Z"/>
<path fill="#0ab4d1" d="M835.7,397.3L858.7,417 871.6,405.7 848.6,390.5Z"/>
<path fill="#16afda" d="M858.7,417L883.2,420 896.2,410.6 871.6,405.7Z"/>
<path fill="#14b0d8" d="M883.2,420L909.5,424.9 922.5,414.4 896.2,410.6Z"/>
<path fill="#0eb2d4" d="M909.5,424.9L937.6,433 950.5,426.8 922.5,414.4Z"/>
<path fill="#14b0d8" d="M937.6,433L967.6,449.9 980.5,448.1 950.5,426.8Z"/>
<path fill="#1ea7e1" d="M967.6,449.9L999.6,469.5 1012.6,466.7 980.5,448.1Z"/>
<path fill="#239fe5" d="M999.6,469.5L1033.9,499.3 1046.9,488.5 1012.6,466.7Z"/>
<path fill="#2896ec" d="M1033.9,499.3L1070.6,523.8 1083.5,519.5 1046.9,488.5Z"/>
<path fill="#2e83f9" d="M1070.6,523.8L1109.8,636.5 1122.7,632.8 1083.5,519.5Z"/>
<path fill="#3e26a8" d="M1109.8,636.5L1160.7,651.2 1173.7,647.5 1122.7,632.8Z"/>
<path fill="#3e26a8" d="M500.5,468.6L501.2,462.2 514.2,458.3 513.4,464.9Z"/>
<path fill="#402bb6" d="M501.2,462.2L502.1,454.6 515,449.3 514.2,458.3Z"/>
<path fill="#4331c8" d="M502.1,454.6L502.9,447 515.9,444.8 515,449.3Z"/>
<path fill="#4435d0" d="M502.9,447L503.9,438.9 516.8,434.6 515.9,444.8Z"/>
<path fill="#463de0" d="M503.9,438.9L504.9,432.2 517.8,427 516.8,434.6Z"/>
<path fill="#4745e9" d="M504.9,432.2L505.9,424 518.9,418.1 517.8,427Z"/>
<path fill="#484ef1" d="M505.9,424L507.1,418.2 520,413 518.9,418.1Z"/>
<path fill="#4853f5" d="M507.1,418.2L508.3,408.9 521.3,409.3 520,413Z"/>
<path fill="#4757f7" d="M508.3,408.9L509.6,402.4 522.6,400.6 521.3,409.3Z"/>
<path fill="#4660fb" d="M509.6,402.4L511,398.5 524,392.1 522.6,400.6Z"/>
<path fill="#4368fe" d="M511,398.5L512.5,390 525.5,382.5 524,392.1Z"/>
<path fill="#3b73fe" d="M512.5,390L514.1,379.5 527.1,376.5 525.5,382.5Z"/>
<path fill="#347afd" d="M514.1,379.5L515.8,373.6 528.8,368.6 527.1,376.5Z"/>
<path fill="#2f82fa" d="M515.8,373.6L517.6,364.4 530.6,365 528.8,368.6Z"/>
<path fill="#2e86f7" d="M517.6,364.4L519.6,350.7 532.5,358.7 530.6,365Z"/>
<path fill="#2d8cf3" d="M519.6,350.7L521.7,350.2 534.6,345.4 532.5,358.7Z"/>
<path fill="#2798ea" d="M521.7,350.2L523.9,340.2 536.9,333.5 534.6,345.4Z"/>
<path fill="#22a2e4" d="M523.9,340.2L526.3,323.7 539.2,317.5 536.9,333.5Z"/>
<path fill="#16afda" d="M526.3,323.7L528.8,328.5 541.8,320.2 539.2,317.5Z"/>
<path fill="#18addb" d="M528.8,328.5L531.5,318.9 544.5,302.7 541.8,320.2Z"/>
<path fill="#01b8c9" d="M531.5,318.9L534.5,298.7 547.4,310.2 544.5,302.7Z"/>
<path fill="#08b4d0" d="M534.5,298.7L537.6,301 550.5,291.1 547.4,310.2Z"/>
<path fill="#10beba" d="M537.6,301L540.9,276.9 553.9,279.2 550.5,291.1Z"/>
<path fill="#28c3ab" d="M540.9,276.9L544.4,254.4 557.4,257 553.9,279.2Z"/>
<path fill="#44cb89" d="M544.4,254.4L548.2,239.4 561.2,239.9 557.4,257Z"/>
<path fill="#6ccd68" d="M548.2,239.4L552.3,222.7 565.3,198 561.2,239.9Z"/>
<path fill="#d0bf27" d="M552.3,222.7L556.6,220.8 569.6,175.8 565.3,198Z"/>
<path fill="#f7ba3c" d="M556.6,220.8L561.3,174.6 574.3,160.6 569.6,175.8Z"/>
<path fill="#fec735" d="M561.3,174.6L566.2,172.4 579.2,150.2 574.3,160.6Z"/>
<path fill="#fad42e" d="M566.2,172.4L571.5,181.5 584.5,190.9 579.2,150.2Z"/>
<path fill="#e7bb2e" d="M571.5,181.5L577.2,194.9 590.2,169.2 584.5,190.9Z"/>
<path fill="#fec338" d="M577.2,194.9L583.3,188.4 596.2,182.6 590.2,169.2Z"/>
<path fill="#f8ba3d" d="M583.3,188.4L589.8,189.5 602.7,166.7 596.2,182.6Z"/>
<path fill="#feca34" d="M589.8,189.5L596.7,206.1 609.6,144.3 602.7,166.7Z"/>
<path fill="#f5e427" d="M596.7,206.1L604.1,201.5 617,182.2 609.6,144.3Z"/>
<path fill="#febe3c" d="M604.1,201.5L612,177.5 624.9,193.7 617,182.2Z"/>
<path fill="#f4ba3a" d="M612,177.5L620.4,185.1 633.4,198.4 624.9,193.7Z"/>
<path fill="#f1ba37" d="M620.4,185.1L629.5,219.6 642.4,185.8 633.4,198.4Z"/>
<path fill="#fec239" d="M629.5,219.6L639.1,230.3 652.1,212.5 642.4,185.8Z"/>
<path fill="#e3bc2c" d="M639.1,230.3L649.5,238.6 662.4,235 652.1,212.5Z"/>
<path fill="#bdc32e" d="M649.5,238.6L660.5,269.4 673.5,272.6 662.4,235Z"/>
<path fill="#6bcd69" d="M660.5,269.4L672.3,272 685.3,261 673.5,272.6Z"/>
<path fill="#90ca4d" d="M672.3,272L684.9,262.3 697.9,277.4 685.3,261Z"/>
<path fill="#70cd65" d="M684.9,262.3L698.4,277.6 711.4,274.1 697.9,277.4Z"/>
<path fill="#82cc57" d="M698.4,277.6L712.8,297.3 725.8,287.1 711.4,274.1Z"/>
<path fill="#6ccd68" d="M712.8,297.3L728.2,287.5 741.2,295.4 725.8,287.1Z"/>
<path fill="#63cd70" d="M728.2,287.5L744.7,319.6 757.6,317.3 741.2,295.4Z"/>
<path fill="#3fca8e" d="M744.7,319.6L762.3,333.3 775.3,335.8 757.6,317.3Z"/>
<path fill="#30c5a1" d="M762.3,333.3L781.1,351.9 794.1,353.4 775.3,335.8Z"/>
<path fill="#20c1b1" d="M781.1,351.9L801.2,382.2 814.2,383.2 794.1,353.4Z"/>
<path fill="#04b6cc" d="M801.2,382.2L822.7,388.2 835.7,397.3 814.2,383.2Z"/>
<path fill="#0fb2d5" d="M822.7,388.2L845.7,424.3 858.7,417 835.7,397.3Z"/>
<path fill="#1ca9df" d="M845.7,424.3L870.3,427.7 883.2,420 858.7,417Z"/>
<path fill="#19acdc" d="M870.3,427.7L896.5,427.5 909.5,424.9 883.2,420Z"/>
<path fill="#17aeda" d="M896.5,427.5L924.6,445.5 937.6,433 909.5,424.9Z"/>
<path fill="#17aeda" d="M924.6,445.5L954.6,461.3 967.6,449.9 937.6,433Z"/>
<path fill="#1da8e0" d="M954.6,461.3L986.7,477.4 999.6,469.5 967.6,449.9Z"/>
<path fill="#23a0e5" d="M986.7,477.4L1021,498.9 1033.9,499.3 999.6,469.5Z"/>
<path fill="#2c8ff0" d="M1021,498.9L1057.6,528.3 1070.6,523.8 1033.9,499.3Z"/>
<path fill="#2e83f9" d="M1057.6,528.3L1096.8,640.2 1109.8,636.5 1070.6,523.8Z"/>
<path fill="#3e26a8" d="M1096.8,640.2L1147.8,654.9 1160.7,651.2 1109.8,636.5Z"/>
<path fill="#3e26a8" d="M487.5,472.3L488.3,463.9 501.2,462.2 500.5,468.6Z"/>
<path fill="#402bb6" d="M488.3,463.9L489.1,457.8 502.1,454.6 501.2,462.2Z"/>
<path fill="#4330c5" d="M489.1,457.8L490,449.9 502.9,447 502.1,454.6Z"/>
<path fill="#4536d3" d="M490,449.9L490.9,444.9 503.9,438.9 502.9,447Z"/>
<path fill="#463de0" d="M490.9,444.9L491.9,436.7 504.9,432.2 503.9,438.9Z"/>
<path fill="#4744e8" d="M491.9,436.7L493,426.9 505.9,424 504.9,432.2Z"/>
<path fill="#484cef" d="M493,426.9L494.1,417.9 507.1,418.2 505.9,424Z"/>
<path fill="#4852f4" d="M494.1,417.9L495.3,411.3 508.3,408.9 507.1,418.2Z"/>
<path fill="#475bf9" d="M495.3,411.3L496.6,404.2 509.6,402.4 508.3,408.9Z"/>
<path fill="#4562fc" d="M496.6,404.2L498,394.2 511,398.5 509.6,402.4Z"/>
<path fill="#4466fd" d="M498,394.2L499.5,395.3 512.5,390 511,398.5Z"/>
<path fill="#3e6fff" d="M499.5,395.3L501.1,383.2 514.1,379.5 512.5,390Z"/>
<path fill="#337afd" d="M501.1,383.2L502.8,374.3 515.8,373.6 514.1,379.5Z"/>
<path fill="#2f81fa" d="M502.8,374.3L504.7,369 517.6,364.4 515.8,373.6Z"/>
<path fill="#2d8af5" d="M504.7,369L506.6,357.5 519.6,350.7 517.6,364.4Z"/>
<path fill="#2796eb" d="M506.6,357.5L508.7,353.5 521.7,350.2 519.6,350.7Z"/>
<path fill="#2797ea" d="M508.7,353.5L510.9,343.4 523.9,340.2 521.7,350.2Z"/>
<path fill="#23a0e5" d="M510.9,343.4L513.3,330.8 526.3,323.7 523.9,340.2Z"/>
<path fill="#19addc" d="M513.3,330.8L515.9,315.9 528.8,328.5 526.3,323.7Z"/>
<path fill="#1caadf" d="M515.9,315.9L518.6,323.4 531.5,318.9 528.8,328.5Z"/>
<path fill="#12b1d6" d="M518.6,323.4L521.5,303 534.5,298.7 531.5,318.9Z"/>
<path fill="#07bcc0" d="M521.5,303L524.6,297.1 537.6,301 534.5,298.7Z"/>
<path fill="#04bbc1" d="M524.6,297.1L527.9,281.4 540.9,276.9 537.6,301Z"/>
<path fill="#2fc5a3" d="M527.9,281.4L531.5,256.2 544.4,254.4 540.9,276.9Z"/>
<path fill="#51cc7f" d="M531.5,256.2L535.3,259.8 548.2,239.4 544.4,254.4Z"/>
<path fill="#76cc60" d="M535.3,259.8L539.3,238.9 552.3,222.7 548.2,239.4Z"/>
<path fill="#a2c83f" d="M539.3,238.9L543.7,198.6 556.6,220.8 552.3,222.7Z"/>
<path fill="#a9c73a" d="M543.7,198.6L548.3,183.6 561.3,174.6 556.6,220.8Z"/>
<path fill="#febd3c" d="M548.3,183.6L553.3,180.6 566.2,172.4 561.3,174.6Z"/>
<path fill="#fec13a" d="M553.3,180.6L558.6,187.6 571.5,181.5 566.2,172.4Z"/>
<path fill="#fabb3d" d="M558.6,187.6L564.3,201.1 577.2,194.9 571.5,181.5Z"/>
<path fill="#e9bb2f" d="M564.3,201.1L570.3,168.3 583.3,188.4 577.2,194.9Z"/>
<path fill="#f5ba3b" d="M570.3,168.3L576.8,198.2 589.8,189.5 583.3,188.4Z"/>
<path fill="#f6ba3c" d="M576.8,198.2L583.7,198.7 596.7,206.1 589.8,189.5Z"/>
<path fill="#dfbc2a" d="M583.7,198.7L591.1,221.4 604.1,201.5 596.7,206.1Z"/>
<path fill="#ebba31" d="M591.1,221.4L599,200.7 612,177.5 604.1,201.5Z"/>
<path fill="#fec934" d="M599,200.7L607.5,188 620.4,185.1 612,177.5Z"/>
<path fill="#fec438" d="M607.5,188L616.5,219.2 629.5,219.6 620.4,185.1Z"/>
<path fill="#d8be28" d="M616.5,219.2L626.2,238 639.1,230.3 629.5,219.6Z"/>
<path fill="#c9c129" d="M626.2,238L636.5,278 649.5,238.6 639.1,230.3Z"/>
<path fill="#bdc32e" d="M636.5,278L647.5,272.3 660.5,269.4 649.5,238.6Z"/>
<path fill="#7ccc5c" d="M647.5,272.3L659.3,287.8 672.3,272 660.5,269.4Z"/>
<path fill="#7ecc5b" d="M659.3,287.8L671.9,290.7 684.9,262.3 672.3,272Z"/>
<path fill="#9fc942" d="M671.9,290.7L685.4,273.6 698.4,277.6 684.9,262.3Z"/>
<path fill="#83cc57" d="M685.4,273.6L699.8,292.9 712.8,297.3 698.4,277.6Z"/>
<path fill="#5dcc75" d="M699.8,292.9L715.2,308.8 728.2,287.5 712.8,297.3Z"/>
<path fill="#7fcc5a" d="M715.2,308.8L731.7,316.6 744.7,319.6 728.2,287.5Z"/>
<path fill="#42ca8b" d="M731.7,316.6L749.3,345.8 762.3,333.3 744.7,319.6Z"/>
<path fill="#36c899" d="M749.3,345.8L768.1,362.7 781.1,351.9 762.3,333.3Z"/>
<path fill="#28c3aa" d="M768.1,362.7L788.2,384 801.2,382.2 781.1,351.9Z"/>
<path fill="#01b9c7" d="M788.2,384L809.7,408.7 822.7,388.2 801.2,382.2Z"/>
<path fill="#01b9c7" d="M809.7,408.7L832.7,427.3 845.7,424.3 822.7,388.2Z"/>
<path fill="#1ea7e1" d="M832.7,427.3L857.3,433.9 870.3,427.7 845.7,424.3Z"/>
<path fill="#1ca9df" d="M857.3,433.9L883.6,441.8 896.5,427.5 870.3,427.7Z"/>
<path fill="#16afd9" d="M883.6,441.8L911.6,453.5 924.6,445.5 896.5,427.5Z"/>
<path fill="#1ea8e0" d="M911.6,453.5L941.6,468.1 954.6,461.3 924.6,445.5Z"/>
<path fill="#22a2e4" d="M941.6,468.1L973.7,481.2 986.7,477.4 954.6,461.3Z"/>
<path fill="#259de7" d="M973.7,481.2L1008,508.7 1021,498.9 986.7,477.4Z"/>
<path fill="#2a93ee" d="M1008,508.7L1044.6,532.9 1057.6,528.3 1021,498.9Z"/>
<path fill="#2f82fa" d="M1044.6,532.9L1083.8,643.9 1096.8,640.2 1057.6,528.3Z"/>
<path fill="#3e26a8" d="M1083.8,643.9L1134.8,658.6 1147.8,654.9 1096.8,640.2Z"/>
<path fill="#3e26a8" d="M474.5,476L475.3,465.6 488.3,463.9 487.5,472.3Z"/>
<path fill="#412cb9" d="M475.3,465.6L476.1,460 489.1,457.8 488.3,463.9Z"/>
<path fill="#4331c5" d="M476.1,460L477,453 490,449.9 489.1,457.8Z"/>
<path fill="#4536d4" d="M477,453L477.9,444.8 490.9,444.9 490,449.9Z"/>
<path fill="#463bdc" d="M477.9,444.8L478.9,438.9 491.9,436.7 490.9,444.9Z"/>
<path fill="#4743e7" d="M478.9,438.9L480,431.1 493,426.9 491.9,436.7Z"/>
<path fill="#484df0" d="M480,431.1L481.1,422.6 494.1,417.9 493,426.9Z"/>
<path fill="#4755f6" d="M481.1,422.6L482.4,416.5 495.3,411.3 494.1,417.9Z"/>
<path fill="#475cfa" d="M482.4,416.5L483.7,405.5 496.6,404.2 495.3,411.3Z"/>
<path fill="#4563fd" d="M483.7,405.5L485.1,397.6 498,394.2 496.6,404.2Z"/>
<path fill="#3f6eff" d="M485.1,397.6L486.6,391.7 499.5,395.3 498,394.2Z"/>
<path fill="#406dfe" d="M486.6,391.7L488.2,387.9 501.1,383.2 499.5,395.3Z"/>
<path fill="#337afd" d="M488.2,387.9L489.9,378.9 502.8,374.3 501.1,383.2Z"/>
<path fill="#2e84f9" d="M489.9,378.9L491.7,370.8 504.7,369 502.8,374.3Z"/>
<path fill="#2d89f5" d="M491.7,370.8L493.7,367 506.6,357.5 504.7,369Z"/>
<path fill="#2994ed" d="M493.7,367L495.7,353.7 508.7,353.5 506.6,357.5Z"/>
<path fill="#2798ea" d="M495.7,353.7L498,348.3 510.9,343.4 508.7,353.5Z"/>
<path fill="#23a0e5" d="M498,348.3L500.3,334.4 513.3,330.8 510.9,343.4Z"/>
<path fill="#1babde" d="M500.3,334.4L502.9,329 515.9,315.9 513.3,330.8Z"/>
<path fill="#08b5d0" d="M502.9,329L505.6,326.7 518.6,323.4 515.9,315.9Z"/>
<path fill="#13b0d7" d="M505.6,326.7L508.5,325.2 521.5,303 518.6,323.4Z"/>
<path fill="#06bcc0" d="M508.5,325.2L511.6,302.1 524.6,297.1 521.5,303Z"/>
<path fill="#13beb8" d="M511.6,302.1L515,296 527.9,281.4 524.6,297.1Z"/>
<path fill="#2ec5a4" d="M515,296L518.5,274.4 531.5,256.2 527.9,281.4Z"/>
<path fill="#55cc7b" d="M518.5,274.4L522.3,264.8 535.3,259.8 531.5,256.2Z"/>
<path fill="#50cc80" d="M522.3,264.8L526.4,238.8 539.3,238.9 535.3,259.8Z"/>
<path fill="#84cc56" d="M526.4,238.8L530.7,221.1 543.7,198.6 539.3,238.9Z"/>
<path fill="#dfbc2a" d="M530.7,221.1L535.4,221.6 548.3,183.6 543.7,198.6Z"/>
<path fill="#f8ba3d" d="M535.4,221.6L540.3,189.4 553.3,180.6 548.3,183.6Z"/>
<path fill="#fdbd3d" d="M540.3,189.4L545.6,193.5 558.6,187.6 553.3,180.6Z"/>
<path fill="#f7ba3c" d="M545.6,193.5L551.3,204.1 564.3,201.1 558.6,187.6Z"/>
<path fill="#e5bb2d" d="M551.3,204.1L557.3,199.7 570.3,168.3 564.3,201.1Z"/>
<path fill="#fdce31" d="M557.3,199.7L563.8,225.3 576.8,198.2 570.3,168.3Z"/>
<path fill="#efba35" d="M563.8,225.3L570.7,206.2 583.7,198.7 576.8,198.2Z"/>
<path fill="#f1ba37" d="M570.7,206.2L578.1,231.7 591.1,221.4 583.7,198.7Z"/>
<path fill="#cec028" d="M578.1,231.7L586,213.8 599,200.7 591.1,221.4Z"/>
<path fill="#f5ba3a" d="M586,213.8L594.5,216.7 607.5,188 599,200.7Z"/>
<path fill="#fec437" d="M594.5,216.7L603.5,235 616.5,219.2 607.5,188Z"/>
<path fill="#dfbc2a" d="M603.5,235L613.2,221.1 626.2,238 616.5,219.2Z"/>
<path fill="#c0c32d" d="M613.2,221.1L623.5,276.8 636.5,278 626.2,238Z"/>
<path fill="#68cd6c" d="M623.5,276.8L634.6,279.5 647.5,272.3 636.5,278Z"/>
<path fill="#7ecc5b" d="M634.6,279.5L646.4,280.3 659.3,287.8 647.5,272.3Z"/>
<path fill="#61cd72" d="M646.4,280.3L659,285.4 671.9,290.7 659.3,287.8Z"/>
<path fill="#62cd70" d="M659,285.4L672.5,278.4 685.4,273.6 671.9,290.7Z"/>
<path fill="#96ca49" d="M672.5,278.4L686.9,296.9 699.8,292.9 685.4,273.6Z"/>
<path fill="#70cd65" d="M686.9,296.9L702.3,320.7 715.2,308.8 699.8,292.9Z"/>
<path fill="#56cc7b" d="M702.3,320.7L718.7,333.8 731.7,316.6 715.2,308.8Z"/>
<path fill="#4fcc80" d="M718.7,333.8L736.4,340.5 749.3,345.8 731.7,316.6Z"/>
<path fill="#2dc4a5" d="M736.4,340.5L755.2,381.1 768.1,362.7 749.3,345.8Z"/>
<path fill="#1dc0b3" d="M755.2,381.1L775.3,384.3 788.2,384 768.1,362.7Z"/>
<path fill="#01bac5" d="M775.3,384.3L796.8,407 809.7,408.7 788.2,384Z"/>
<path fill="#14b0d8" d="M796.8,407L819.8,426.6 832.7,427.3 809.7,408.7Z"/>
<path fill="#1ea7e1" d="M819.8,426.6L844.3,431.7 857.3,433.9 832.7,427.3Z"/>
<path fill="#1ea7e1" d="M844.3,431.7L870.6,441 883.6,441.8 857.3,433.9Z"/>
<path fill="#1ea7e1" d="M870.6,441L898.7,453.5 911.6,453.5 883.6,441.8Z"/>
<path fill="#20a4e3" d="M898.7,453.5L928.7,474.9 941.6,468.1 911.6,453.5Z"/>
<path fill="#23a0e5" d="M928.7,474.9L960.7,484.7 973.7,481.2 941.6,468.1Z"/>
<path fill="#259de7" d="M960.7,484.7L995,505.4 1008,508.7 973.7,481.2Z"/>
<path fill="#2c8ef2" d="M995,505.4L1031.7,537.5 1044.6,532.9 1008,508.7Z"/>
<path fill="#2f81fa" d="M1031.7,537.5L1070.9,647.6 1083.8,643.9 1044.6,532.9Z"/>
<path fill="#3e26a8" d="M1070.9,647.6L1121.8,662.3 1134.8,658.6 1083.8,643.9Z"/>
<path fill="#3e26a8" d="M461.6,479.6L462.3,469.6 475.3,465.6 474.5,476Z"/>
<path fill="#412dbd" d="M462.3,469.6L463.2,465.3 476.1,460 475.3,465.6Z"/>
<path fill="#4332c8" d="M463.2,465.3L464,458.6 477,453 476.1,460Z"/>
<path fill="#4537d5" d="M464,458.6L465,450 477.9,444.8 477,453Z"/>
<path fill="#473ee1" d="M465,450L466,442 478.9,438.9 477.9,444.8Z"/>
<path fill="#4744e8" d="M466,442L467,434.6 480,431.1 478.9,438.9Z"/>
<path fill="#484cf0" d="M467,434.6L468.2,427.2 481.1,422.6 480,431.1Z"/>
<path fill="#4855f6" d="M468.2,427.2L469.4,420.9 482.4,416.5 481.1,422.6Z"/>
<path fill="#475bf9" d="M469.4,420.9L470.7,412.9 483.7,405.5 482.4,416.5Z"/>
<path fill="#4466fd" d="M470.7,412.9L472.1,402.7 485.1,397.6 483.7,405.5Z"/>
<path fill="#3f6eff" d="M472.1,402.7L473.6,396.7 486.6,391.7 485.1,397.6Z"/>
<path fill="#3975fe" d="M473.6,396.7L475.2,389.8 488.2,387.9 486.6,391.7Z"/>
<path fill="#3479fd" d="M475.2,389.8L476.9,382.9 489.9,378.9 488.2,387.9Z"/>
<path fill="#2e83f9" d="M476.9,382.9L478.7,372.7 491.7,370.8 489.9,378.9Z"/>
<path fill="#2d8bf4" d="M478.7,372.7L480.7,371.4 493.7,367 491.7,370.8Z"/>
<path fill="#2c8ff1" d="M480.7,371.4L482.8,348.6 495.7,353.7 493.7,367Z"/>
<path fill="#269ae8" d="M482.8,348.6L485,354.3 498,348.3 495.7,353.7Z"/>
<path fill="#239fe5" d="M485,354.3L487.4,339.3 500.3,334.4 498,348.3Z"/>
<path fill="#1babde" d="M487.4,339.3L489.9,336.4 502.9,329 500.3,334.4Z"/>
<path fill="#16afd9" d="M489.9,336.4L492.6,322.6 505.6,326.7 502.9,329Z"/>
<path fill="#12b1d7" d="M492.6,322.6L495.6,319.6 508.5,325.2 505.6,326.7Z"/>
<path fill="#0fb2d4" d="M495.6,319.6L498.7,308.9 511.6,302.1 508.5,325.2Z"/>
<path fill="#10beba" d="M498.7,308.9L502,308.9 515,296 511.6,302.1Z"/>
<path fill="#1fc0b2" d="M502,308.9L505.5,302.5 518.5,274.4 515,296Z"/>
<path fill="#3ac993" d="M505.5,302.5L509.3,280.6 522.3,264.8 518.5,274.4Z"/>
<path fill="#4dcc82" d="M509.3,280.6L513.4,285.3 526.4,238.8 522.3,264.8Z"/>
<path fill="#8dcb4f" d="M513.4,285.3L517.7,249.1 530.7,221.1 526.4,238.8Z"/>
<path fill="#bac430" d="M517.7,249.1L522.4,238.7 535.4,221.6 530.7,221.1Z"/>
<path fill="#bbc42f" d="M522.4,238.7L527.3,202.2 540.3,189.4 535.4,221.6Z"/>
<path fill="#f8ba3d" d="M527.3,202.2L532.7,196.9 545.6,193.5 540.3,189.4Z"/>
<path fill="#f4ba39" d="M532.7,196.9L538.3,199.5 551.3,204.1 545.6,193.5Z"/>
<path fill="#e6bb2d" d="M538.3,199.5L544.4,214.8 557.3,199.7 551.3,204.1Z"/>
<path fill="#f0ba36" d="M544.4,214.8L550.9,209.8 563.8,225.3 557.3,199.7Z"/>
<path fill="#c5c22a" d="M550.9,209.8L557.8,192.9 570.7,206.2 563.8,225.3Z"/>
<path fill="#ecba32" d="M557.8,192.9L565.2,241.8 578.1,231.7 570.7,206.2Z"/>
<path fill="#c0c32d" d="M565.2,241.8L573.1,192.9 586,213.8 578.1,231.7Z"/>
<path fill="#e7bb2d" d="M573.1,192.9L581.5,240.2 594.5,216.7 586,213.8Z"/>
<path fill="#e6bb2d" d="M581.5,240.2L590.6,234.2 603.5,235 594.5,216.7Z"/>
<path fill="#c9c129" d="M590.6,234.2L600.2,279.9 613.2,221.1 603.5,235Z"/>
<path fill="#e7bb2e" d="M600.2,279.9L610.6,284.6 623.5,276.8 613.2,221.1Z"/>
<path fill="#74cc62" d="M610.6,284.6L621.6,260.7 634.6,279.5 623.5,276.8Z"/>
<path fill="#75cc61" d="M621.6,260.7L633.4,273.6 646.4,280.3 634.6,279.5Z"/>
<path fill="#7ccc5c" d="M633.4,273.6L646,286 659,285.4 646.4,280.3Z"/>
<path fill="#78cc5f" d="M646,286L659.5,292.6 672.5,278.4 659,285.4Z"/>
<path fill="#93ca4b" d="M659.5,292.6L673.9,322.8 686.9,296.9 672.5,278.4Z"/>
<path fill="#6fcd66" d="M673.9,322.8L689.3,326.1 702.3,320.7 686.9,296.9Z"/>
<path fill="#45cb89" d="M689.3,326.1L705.8,352.6 718.7,333.8 702.3,320.7Z"/>
<path fill="#38c896" d="M705.8,352.6L723.4,360.9 736.4,340.5 718.7,333.8Z"/>
<path fill="#36c898" d="M723.4,360.9L742.2,371.6 755.2,381.1 736.4,340.5Z"/>
<path fill="#02bac4" d="M742.2,371.6L762.3,392.8 775.3,384.3 755.2,381.1Z"/>
<path fill="#05bbc1" d="M762.3,392.8L783.8,411 796.8,407 775.3,384.3Z"/>
<path fill="#0db3d3" d="M783.8,411L806.8,431.4 819.8,426.6 796.8,407Z"/>
<path fill="#1baade" d="M806.8,431.4L831.4,435.9 844.3,431.7 819.8,426.6Z"/>
<path fill="#1aacdd" d="M831.4,435.9L857.6,441.9 870.6,441 844.3,431.7Z"/>
<path fill="#1baade" d="M857.6,441.9L885.7,449.2 898.7,453.5 870.6,441Z"/>
<path fill="#1ea7e1" d="M885.7,449.2L915.7,472.4 928.7,474.9 898.7,453.5Z"/>
<path fill="#249de6" d="M915.7,472.4L947.8,488.7 960.7,484.7 928.7,474.9Z"/>
<path fill="#259de7" d="M947.8,488.7L982.1,509.7 995,505.4 960.7,484.7Z"/>
<path fill="#2994ed" d="M982.1,509.7L1018.7,547.4 1031.7,537.5 995,505.4Z"/>
<path fill="#2f80fa" d="M1018.7,547.4L1057.9,651.3 1070.9,647.6 1031.7,537.5Z"/>
<path fill="#3e26a8" d="M1057.9,651.3L1108.9,665.9 1121.8,662.3 1070.9,647.6Z"/>
<path fill="#3e26a8" d="M448.6,483.3L449.4,475.8 462.3,469.6 461.6,479.6Z"/>
<path fill="#412dbd" d="M449.4,475.8L450.2,467.1 463.2,465.3 462.3,469.6Z"/>
<path fill="#4330c5" d="M450.2,467.1L451.1,462 464,458.6 463.2,465.3Z"/>
<path fill="#4535d2" d="M451.1,462L452,453.6 465,450 464,458.6Z"/>
<path fill="#463de0" d="M452,453.6L453,448.2 466,442 465,450Z"/>
<path fill="#4745e9" d="M453,448.2L454.1,440.1 467,434.6 466,442Z"/>
<path fill="#484cf0" d="M454.1,440.1L455.2,430.5 468.2,427.2 467,434.6Z"/>
<path fill="#4854f5" d="M455.2,430.5L456.4,422.7 469.4,420.9 468.2,427.2Z"/>
<path fill="#475af9" d="M456.4,422.7L457.7,418.4 470.7,412.9 469.4,420.9Z"/>
<path fill="#4562fc" d="M457.7,418.4L459.1,410.8 472.1,402.7 470.7,412.9Z"/>
<path fill="#406dfe" d="M459.1,410.8L460.6,407 473.6,396.7 472.1,402.7Z"/>
<path fill="#3a73fe" d="M460.6,407L462.2,397.9 475.2,389.8 473.6,396.7Z"/>
<path fill="#327bfc" d="M462.2,397.9L463.9,391.8 476.9,382.9 475.2,389.8Z"/>
<path fill="#2f82f9" d="M463.9,391.8L465.8,386.7 478.7,372.7 476.9,382.9Z"/>
<path fill="#2d8cf3" d="M465.8,386.7L467.7,367.5 480.7,371.4 478.7,372.7Z"/>
<path fill="#2c8ef1" d="M467.7,367.5L469.8,358.9 482.8,348.6 480.7,371.4Z"/>
<path fill="#22a1e4" d="M469.8,358.9L472,354.8 485,354.3 482.8,348.6Z"/>
<path fill="#249de6" d="M472,354.8L474.4,341.7 487.4,339.3 485,354.3Z"/>
<path fill="#1caadf" d="M474.4,341.7L477,336.4 489.9,336.4 487.4,339.3Z"/>
<path fill="#19acdc" d="M477,336.4L479.7,326.3 492.6,322.6 489.9,336.4Z"/>
<path fill="#06b5cf" d="M479.7,326.3L482.6,321.3 495.6,319.6 492.6,322.6Z"/>
<path fill="#02b7cb" d="M482.6,321.3L485.7,305.7 498.7,308.9 495.6,319.6Z"/>
<path fill="#0abdbe" d="M485.7,305.7L489,293.6 502,308.9 498.7,308.9Z"/>
<path fill="#0bbdbd" d="M489,293.6L492.6,285.8 505.5,302.5 502,308.9Z"/>
<path fill="#1cc0b4" d="M492.6,285.8L496.4,291.4 509.3,280.6 505.5,302.5Z"/>
<path fill="#39c895" d="M496.4,291.4L500.4,283.8 513.4,285.3 509.3,280.6Z"/>
<path fill="#35c79b" d="M500.4,283.8L504.8,266.7 517.7,249.1 513.4,285.3Z"/>
<path fill="#80cc59" d="M504.8,266.7L509.4,237 522.4,238.7 517.7,249.1Z"/>
<path fill="#9cc943" d="M509.4,237L514.4,208.8 527.3,202.2 522.4,238.7Z"/>
<path fill="#eaba30" d="M514.4,208.8L519.7,204.4 532.7,196.9 527.3,202.2Z"/>
<path fill="#f4ba3a" d="M519.7,204.4L525.4,206.3 538.3,199.5 532.7,196.9Z"/>
<path fill="#f3ba38" d="M525.4,206.3L531.4,207.7 544.4,214.8 538.3,199.5Z"/>
<path fill="#ddbd29" d="M531.4,207.7L537.9,231.1 550.9,209.8 544.4,214.8Z"/>
<path fill="#e9bb2f" d="M537.9,231.1L544.8,243 557.8,192.9 550.9,209.8Z"/>
<path fill="#fec03a" d="M544.8,243L552.2,225.1 565.2,241.8 557.8,192.9Z"/>
<path fill="#b2c535" d="M552.2,225.1L560.1,227.9 573.1,192.9 565.2,241.8Z"/>
<path fill="#fec437" d="M560.1,227.9L568.6,240.1 581.5,240.2 573.1,192.9Z"/>
<path fill="#c0c32d" d="M568.6,240.1L577.6,279 590.6,234.2 581.5,240.2Z"/>
<path fill="#d2bf27" d="M577.6,279L587.3,289.9 600.2,279.9 590.6,234.2Z"/>
<path fill="#6ecd67" d="M587.3,289.9L597.6,272 610.6,284.6 600.2,279.9Z"/>
<path fill="#6acd6a" d="M597.6,272L608.6,292.5 621.6,260.7 610.6,284.6Z"/>
<path fill="#acc738" d="M608.6,292.5L620.4,267 633.4,273.6 621.6,260.7Z"/>
<path fill="#95ca49" d="M620.4,267L633,301.1 646,286 633.4,273.6Z"/>
<path fill="#80cc59" d="M633,301.1L646.5,305.6 659.5,292.6 646,286Z"/>
<path fill="#79cc5e" d="M646.5,305.6L660.9,327.4 673.9,322.8 659.5,292.6Z"/>
<path fill="#3fca8e" d="M660.9,327.4L676.3,347.7 689.3,326.1 673.9,322.8Z"/>
<path fill="#42ca8c" d="M676.3,347.7L692.8,364.4 705.8,352.6 689.3,326.1Z"/>
<path fill="#28c3aa" d="M692.8,364.4L710.4,365.1 723.4,360.9 705.8,352.6Z"/>
<path fill="#24c1ae" d="M710.4,365.1L729.2,375.2 742.2,371.6 723.4,360.9Z"/>
<path fill="#1abfb5" d="M729.2,375.2L749.4,392.1 762.3,392.8 742.2,371.6Z"/>
<path fill="#01b9c7" d="M749.4,392.1L770.9,407.6 783.8,411 762.3,392.8Z"/>
<path fill="#0db3d4" d="M770.9,407.6L793.8,437.2 806.8,431.4 783.8,411Z"/>
<path fill="#1caadf" d="M793.8,437.2L818.4,440.6 831.4,435.9 806.8,431.4Z"/>
<path fill="#1aabdd" d="M818.4,440.6L844.7,441.9 857.6,441.9 831.4,435.9Z"/>
<path fill="#19addc" d="M844.7,441.9L872.7,454.7 885.7,449.2 857.6,441.9Z"/>
<path fill="#19addc" d="M872.7,454.7L902.7,473.8 915.7,472.4 885.7,449.2Z"/>
<path fill="#22a2e4" d="M902.7,473.8L934.8,491 947.8,488.7 915.7,472.4Z"/>
<path fill="#259ce7" d="M934.8,491L969.1,513.7 982.1,509.7 947.8,488.7Z"/>
<path fill="#2a93ed" d="M969.1,513.7L1005.7,557.3 1018.7,547.4 982.1,509.7Z"/>
<path fill="#347afd" d="M1005.7,557.3L1044.9,655 1057.9,651.3 1018.7,547.4Z"/>
<path fill="#3e26a8" d="M1044.9,655L1095.9,669.6 1108.9,665.9 1057.9,651.3Z"/>
<path fill="#3e26a8" d="M435.6,487L436.4,479.7 449.4,475.8 448.6,483.3Z"/>
<path fill="#402bb8" d="M436.4,479.7L437.2,471.7 450.2,467.1 449.4,475.8Z"/>
<path fill="#4332c9" d="M437.2,471.7L438.1,465 451.1,462 450.2,467.1Z"/>
<path fill="#4536d3" d="M438.1,465L439,458.4 452,453.6 451.1,462Z"/>
<path fill="#463de0" d="M439,458.4L440,451.1 453,448.2 452,453.6Z"/>
<path fill="#4742e6" d="M440,451.1L441.1,442.4 454.1,440.1 453,448.2Z"/>
<path fill="#484bee" d="M441.1,442.4L442.3,437.5 455.2,430.5 454.1,440.1Z"/>
<path fill="#4854f5" d="M442.3,437.5L443.5,428.1 456.4,422.7 455.2,430.5Z"/>
<path fill="#475cfa" d="M443.5,428.1L444.8,420.5 457.7,418.4 456.4,422.7Z"/>
<path fill="#4660fc" d="M444.8,420.5L446.2,413.6 459.1,410.8 457.7,418.4Z"/>
<path fill="#4368fe" d="M446.2,413.6L447.7,410.3 460.6,407 459.1,410.8Z"/>
<path fill="#406dfe" d="M447.7,410.3L449.3,398.2 462.2,397.9 460.6,407Z"/>
<path fill="#3777fe" d="M449.3,398.2L451,395.2 463.9,391.8 462.2,397.9Z"/>
<path fill="#317dfb" d="M451,395.2L452.8,393.2 465.8,386.7 463.9,391.8Z"/>
<path fill="#2e83f9" d="M452.8,393.2L454.8,375.6 467.7,367.5 465.8,386.7Z"/>
<path fill="#2995ec" d="M454.8,375.6L456.8,354.3 469.8,358.9 467.7,367.5Z"/>
<path fill="#259ce7" d="M456.8,354.3L459.1,354.7 472,354.8 469.8,358.9Z"/>
<path fill="#23a0e5" d="M459.1,354.7L461.4,356.2 474.4,341.7 472,354.8Z"/>
<path fill="#1babde" d="M461.4,356.2L464,338.3 477,336.4 474.4,341.7Z"/>
<path fill="#16afd9" d="M464,338.3L466.7,336.3 479.7,326.3 477,336.4Z"/>
<path fill="#06b5cf" d="M466.7,336.3L469.6,329.8 482.6,321.3 479.7,326.3Z"/>
<path fill="#01b8c9" d="M469.6,329.8L472.7,309.5 485.7,305.7 482.6,321.3Z"/>
<path fill="#19bfb5" d="M472.7,309.5L476.1,305.3 489,293.6 485.7,305.7Z"/>
<path fill="#2dc4a5" d="M476.1,305.3L479.6,306.2 492.6,285.8 489,293.6Z"/>
<path fill="#36c799" d="M479.6,306.2L483.4,269.8 496.4,291.4 492.6,285.8Z"/>
<path fill="#31c6a0" d="M483.4,269.8L487.5,279.8 500.4,283.8 496.4,291.4Z"/>
<path fill="#3bc993" d="M487.5,279.8L491.8,257.2 504.8,266.7 500.4,283.8Z"/>
<path fill="#5ecd74" d="M491.8,257.2L496.5,208.8 509.4,237 504.8,266.7Z"/>
<path fill="#a9c73a" d="M496.5,208.8L501.4,208.3 514.4,208.8 509.4,237Z"/>
<path fill="#e5bb2d" d="M501.4,208.3L506.7,213 519.7,204.4 514.4,208.8Z"/>
<path fill="#efba35" d="M506.7,213L512.4,225.8 525.4,206.3 519.7,204.4Z"/>
<path fill="#eeba34" d="M512.4,225.8L518.4,229.7 531.4,207.7 525.4,206.3Z"/>
<path fill="#efba35" d="M518.4,229.7L524.9,221.3 537.9,231.1 531.4,207.7Z"/>
<path fill="#c8c129" d="M524.9,221.3L531.8,219.5 544.8,243 537.9,231.1Z"/>
<path fill="#b3c534" d="M531.8,219.5L539.2,238.1 552.2,225.1 544.8,243Z"/>
<path fill="#dcbd29" d="M539.2,238.1L547.2,249.8 560.1,227.9 552.2,225.1Z"/>
<path fill="#dbbd29" d="M547.2,249.8L555.6,213.5 568.6,240.1 560.1,227.9Z"/>
<path fill="#c8c129" d="M555.6,213.5L564.6,282.1 577.6,279 568.6,240.1Z"/>
<path fill="#72cd63" d="M564.6,282.1L574.3,267.2 587.3,289.9 577.6,279Z"/>
<path fill="#5fcd73" d="M574.3,267.2L584.6,279.8 597.6,272 587.3,289.9Z"/>
<path fill="#92ca4b" d="M584.6,279.8L595.7,267.5 608.6,292.5 597.6,272Z"/>
<path fill="#67cd6c" d="M595.7,267.5L607.5,282.3 620.4,267 608.6,292.5Z"/>
<path fill="#aec637" d="M607.5,282.3L620.1,306.4 633,301.1 620.4,267Z"/>
<path fill="#64cd6f" d="M620.1,306.4L633.6,314.5 646.5,305.6 633,301.1Z"/>
<path fill="#62cd70" d="M633.6,314.5L648,339.2 660.9,327.4 646.5,305.6Z"/>
<path fill="#3eca8f" d="M648,339.2L663.4,342 676.3,347.7 660.9,327.4Z"/>
<path fill="#2dc4a6" d="M663.4,342L679.9,359.9 692.8,364.4 676.3,347.7Z"/>
<path fill="#1bc0b4" d="M679.9,359.9L697.5,371.7 710.4,365.1 692.8,364.4Z"/>
<path fill="#23c1af" d="M697.5,371.7L716.3,383.9 729.2,375.2 710.4,365.1Z"/>
<path fill="#1abfb5" d="M716.3,383.9L736.4,398.7 749.4,392.1 729.2,375.2Z"/>
<path fill="#04bbc2" d="M736.4,398.7L757.9,412.3 770.9,407.6 749.4,392.1Z"/>
<path fill="#03b7cc" d="M757.9,412.3L780.9,439.1 793.8,437.2 770.9,407.6Z"/>
<path fill="#1da8e0" d="M780.9,439.1L805.4,452.2 818.4,440.6 793.8,437.2Z"/>
<path fill="#1babde" d="M805.4,452.2L831.7,455.1 844.7,441.9 818.4,440.6Z"/>
<path fill="#15afd9" d="M831.7,455.1L859.8,462.4 872.7,454.7 844.7,441.9Z"/>
<path fill="#1aacdd" d="M859.8,462.4L889.8,475.2 902.7,473.8 872.7,454.7Z"/>
<path fill="#20a4e3" d="M889.8,475.2L921.8,492.1 934.8,491 902.7,473.8Z"/>
<path fill="#249ee6" d="M921.8,492.1L956.1,520 969.1,513.7 934.8,491Z"/>
<path fill="#2a93ee" d="M956.1,520L992.8,565.1 1005.7,557.3 969.1,513.7Z"/>
<path fill="#3a73fe" d="M992.8,565.1L1032,658.7 1044.9,655 1005.7,557.3Z"/>
<path fill="#3e26a8" d="M1032,658.7L1082.9,673.3 1095.9,669.6 1044.9,655Z"/>
<path fill="#3e26a8" d="M422.7,490.7L423.4,483.5 436.4,479.7 435.6,487Z"/>
<path fill="#402bb8" d="M423.4,483.5L424.3,475.6 437.2,471.7 436.4,479.7Z"/>
<path fill="#4331c7" d="M424.3,475.6L425.1,467.9 438.1,465 437.2,471.7Z"/>
<path fill="#4536d4" d="M425.1,467.9L426.1,463.9 439,458.4 438.1,465Z"/>
<path fill="#463cde" d="M426.1,463.9L427.1,453.9 440,451.1 439,458.4Z"/>
<path fill="#4743e7" d="M427.1,453.9L428.1,448.9 441.1,442.4 440,451.1Z"/>
<path fill="#484cef" d="M428.1,448.9L429.3,440.2 442.3,437.5 441.1,442.4Z"/>
<path fill="#4851f3" d="M429.3,440.2L430.5,431.9 443.5,428.1 442.3,437.5Z"/>
<path fill="#475af9" d="M430.5,431.9L431.8,422.7 444.8,420.5 443.5,428.1Z"/>
<path fill="#4562fc" d="M431.8,422.7L433.2,417.8 446.2,413.6 444.8,420.5Z"/>
<path fill="#4269fe" d="M433.2,417.8L434.7,405.6 447.7,410.3 446.2,413.6Z"/>
<path fill="#406dfe" d="M434.7,405.6L436.3,401.7 449.3,398.2 447.7,410.3Z"/>
<path fill="#337afd" d="M436.3,401.7L438,398.9 451,395.2 449.3,398.2Z"/>
<path fill="#317efb" d="M438,398.9L439.8,392.9 452.8,393.2 451,395.2Z"/>
<path fill="#2f80fa" d="M439.8,392.9L441.8,384.3 454.8,375.6 452.8,393.2Z"/>
<path fill="#2b91ef" d="M441.8,384.3L443.9,367.5 456.8,354.3 454.8,375.6Z"/>
<path fill="#21a3e3" d="M443.9,367.5L446.1,358.3 459.1,354.7 456.8,354.3Z"/>
<path fill="#21a3e3" d="M446.1,358.3L448.5,344.8 461.4,356.2 459.1,354.7Z"/>
<path fill="#22a2e4" d="M448.5,344.8L451,331.5 464,338.3 461.4,356.2Z"/>
<path fill="#14b0d8" d="M451,331.5L453.8,340.7 466.7,336.3 464,338.3Z"/>
<path fill="#10b2d5" d="M453.8,340.7L456.7,320.3 469.6,329.8 466.7,336.3Z"/>
<path fill="#05b6ce" d="M456.7,320.3L459.8,313.9 472.7,309.5 469.6,329.8Z"/>
<path fill="#18bfb6" d="M459.8,313.9L463.1,318.4 476.1,305.3 472.7,309.5Z"/>
<path fill="#22c1af" d="M463.1,318.4L466.6,291 479.6,306.2 476.1,305.3Z"/>
<path fill="#23c1af" d="M466.6,291L470.4,281.6 483.4,269.8 479.6,306.2Z"/>
<path fill="#5acc77" d="M470.4,281.6L474.5,270.7 487.5,279.8 483.4,269.8Z"/>
<path fill="#47cb87" d="M474.5,270.7L478.9,254.5 491.8,257.2 487.5,279.8Z"/>
<path fill="#7ecc5b" d="M478.9,254.5L483.5,244 496.5,208.8 491.8,257.2Z"/>
<path fill="#e9bb30" d="M483.5,244L488.5,216.4 501.4,208.3 496.5,208.8Z"/>
<path fill="#ecba32" d="M488.5,216.4L493.8,213 506.7,213 501.4,208.3Z"/>
<path fill="#e7bb2e" d="M493.8,213L499.4,216.4 512.4,225.8 506.7,213Z"/>
<path fill="#d3bf27" d="M499.4,216.4L505.5,222.6 518.4,229.7 512.4,225.8Z"/>
<path fill="#cfc028" d="M505.5,222.6L512,245 524.9,221.3 518.4,229.7Z"/>
<path fill="#e2bc2b" d="M512,245L518.9,224.8 531.8,219.5 524.9,221.3Z"/>
<path fill="#e8bb2f" d="M518.9,224.8L526.3,247.6 539.2,238.1 531.8,219.5Z"/>
<path fill="#cac129" d="M526.3,247.6L534.2,234.8 547.2,249.8 539.2,238.1Z"/>
<path fill="#b6c532" d="M534.2,234.8L542.6,279.7 555.6,213.5 547.2,249.8Z"/>
<path fill="#fabb3d" d="M542.6,279.7L551.7,270.5 564.6,282.1 555.6,213.5Z"/>
<path fill="#74cc62" d="M551.7,270.5L561.3,278.9 574.3,267.2 564.6,282.1Z"/>
<path fill="#a0c941" d="M561.3,278.9L571.7,284.8 584.6,279.8 574.3,267.2Z"/>
<path fill="#88cb53" d="M571.7,284.8L582.7,290.4 595.7,267.5 584.6,279.8Z"/>
<path fill="#adc638" d="M582.7,290.4L594.5,297.5 607.5,282.3 595.7,267.5Z"/>
<path fill="#92ca4b" d="M594.5,297.5L607.1,312.9 620.1,306.4 607.5,282.3Z"/>
<path fill="#60cd72" d="M607.1,312.9L620.6,325 633.6,314.5 620.1,306.4Z"/>
<path fill="#57cc7a" d="M620.6,325L635,330.3 648,339.2 633.6,314.5Z"/>
<path fill="#34c79b" d="M635,330.3L650.4,359.3 663.4,342 648,339.2Z"/>
<path fill="#36c899" d="M650.4,359.3L666.9,376.2 679.9,359.9 663.4,342Z"/>
<path fill="#28c3aa" d="M666.9,376.2L684.5,368.6 697.5,371.7 679.9,359.9Z"/>
<path fill="#1dc0b3" d="M684.5,368.6L703.3,386.5 716.3,383.9 697.5,371.7Z"/>
<path fill="#0fbebb" d="M703.3,386.5L723.4,404.8 736.4,398.7 716.3,383.9Z"/>
<path fill="#02bac5" d="M723.4,404.8L744.9,412.7 757.9,412.3 736.4,398.7Z"/>
<path fill="#04b6cd" d="M744.9,412.7L767.9,440.3 780.9,439.1 757.9,412.3Z"/>
<path fill="#1ca9df" d="M767.9,440.3L792.5,459 805.4,452.2 780.9,439.1Z"/>
<path fill="#20a5e2" d="M792.5,459L818.7,462.8 831.7,455.1 805.4,452.2Z"/>
<path fill="#1da8e0" d="M818.7,462.8L846.8,465.8 859.8,462.4 831.7,455.1Z"/>
<path fill="#1da9e0" d="M846.8,465.8L876.8,478.2 889.8,475.2 859.8,462.4Z"/>
<path fill="#1fa6e2" d="M876.8,478.2L908.9,501.2 921.8,492.1 889.8,475.2Z"/>
<path fill="#23a0e5" d="M908.9,501.2L943.2,517.8 956.1,520 921.8,492.1Z"/>
<path fill="#2b91ef" d="M943.2,517.8L979.8,572.1 992.8,565.1 956.1,520Z"/>
<path fill="#3e6fff" d="M979.8,572.1L1019,662.4 1032,658.7 992.8,565.1Z"/>
<path fill="#3e26a8" d="M1019,662.4L1070,677 1082.9,673.3 1032,658.7Z"/>
<path fill="#3e26a8" d="M409.7,494.4L410.5,486.6 423.4,483.5 422.7,490.7Z"/>
<path fill="#402bb7" d="M410.5,486.6L411.3,481 424.3,475.6 423.4,483.5Z"/>
<path fill="#4331c7" d="M411.3,481L412.2,473.1 425.1,467.9 424.3,475.6Z"/>
<path fill="#4537d5" d="M412.2,473.1L413.1,464.9 426.1,463.9 425.1,467.9Z"/>
<path fill="#463adc" d="M413.1,464.9L414.1,456.7 427.1,453.9 426.1,463.9Z"/>
<path fill="#4744e8" d="M414.1,456.7L415.2,449.1 428.1,448.9 427.1,453.9Z"/>
<path fill="#4849ed" d="M415.2,449.1L416.3,441.5 429.3,440.2 428.1,448.9Z"/>
<path fill="#4852f4" d="M416.3,441.5L417.5,435.4 430.5,431.9 429.3,440.2Z"/>
<path fill="#475af9" d="M417.5,435.4L418.8,428.2 431.8,422.7 430.5,431.9Z"/>
<path fill="#4563fd" d="M418.8,428.2L420.2,423.3 433.2,417.8 431.8,422.7Z"/>
<path fill="#4369fe" d="M420.2,423.3L421.7,413.1 434.7,405.6 433.2,417.8Z"/>
<path fill="#3876fe" d="M421.7,413.1L423.3,405.4 436.3,401.7 434.7,405.6Z"/>
<path fill="#337afd" d="M423.3,405.4L425,398.5 438,398.9 436.3,401.7Z"/>
<path fill="#317efb" d="M425,398.5L426.9,396.4 439.8,392.9 438,398.9Z"/>
<path fill="#2e84f8" d="M426.9,396.4L428.8,386.6 441.8,384.3 439.8,392.9Z"/>
<path fill="#2d8cf3" d="M428.8,386.6L430.9,375 443.9,367.5 441.8,384.3Z"/>
<path fill="#259be8" d="M430.9,375L433.1,360.2 446.1,358.3 443.9,367.5Z"/>
<path fill="#21a3e3" d="M433.1,360.2L435.5,353.7 448.5,344.8 446.1,358.3Z"/>
<path fill="#18aedb" d="M435.5,353.7L438.1,349 451,331.5 448.5,344.8Z"/>
<path fill="#05b6cd" d="M438.1,349L440.8,341 453.8,340.7 451,331.5Z"/>
<path fill="#11b1d6" d="M440.8,341L443.7,326.9 456.7,320.3 453.8,340.7Z"/>
<path fill="#08bcbf" d="M443.7,326.9L446.8,327.8 459.8,313.9 456.7,320.3Z"/>
<path fill="#17bfb6" d="M446.8,327.8L450.1,327.4 463.1,318.4 459.8,313.9Z"/>
<path fill="#0fbebb" d="M450.1,327.4L453.7,305.7 466.6,291 463.1,318.4Z"/>
<path fill="#38c896" d="M453.7,305.7L457.5,271.5 470.4,281.6 466.6,291Z"/>
<path fill="#49cb85" d="M457.5,271.5L461.5,260.7 474.5,270.7 470.4,281.6Z"/>
<path fill="#63cd70" d="M461.5,260.7L465.9,275.5 478.9,254.5 474.5,270.7Z"/>
<path fill="#8ecb4f" d="M465.9,275.5L470.5,254.1 483.5,244 478.9,254.5Z"/>
<path fill="#aac73a" d="M470.5,254.1L475.5,228.1 488.5,216.4 483.5,244Z"/>
<path fill="#e5bb2d" d="M475.5,228.1L480.8,254.5 493.8,213 488.5,216.4Z"/>
<path fill="#edba33" d="M480.8,254.5L486.5,248.5 499.4,216.4 493.8,213Z"/>
<path fill="#eabb30" d="M486.5,248.5L492.5,246 505.5,222.6 499.4,216.4Z"/>
<path fill="#e3bc2c" d="M492.5,246L499,233.3 512,245 505.5,222.6Z"/>
<path fill="#bac430" d="M499,233.3L505.9,235.3 518.9,224.8 512,245Z"/>
<path fill="#e6bb2d" d="M505.9,235.3L513.3,234.3 526.3,247.6 518.9,224.8Z"/>
<path fill="#bec32e" d="M513.3,234.3L521.2,226.9 534.2,234.8 526.3,247.6Z"/>
<path fill="#dcbd29" d="M521.2,226.9L529.7,285 542.6,279.7 534.2,234.8Z"/>
<path fill="#7dcc5c" d="M529.7,285L538.7,294.4 551.7,270.5 542.6,279.7Z"/>
<path fill="#9ac945" d="M538.7,294.4L548.4,292.3 561.3,278.9 551.7,270.5Z"/>
<path fill="#8ccb50" d="M548.4,292.3L558.7,292.4 571.7,284.8 561.3,278.9Z"/>
<path fill="#85cb55" d="M558.7,292.4L569.7,310.7 582.7,290.4 571.7,284.8Z"/>
<path fill="#7fcc5a" d="M569.7,310.7L581.5,305.7 594.5,297.5 582.7,290.4Z"/>
<path fill="#76cc61" d="M581.5,305.7L594.2,320.2 607.1,312.9 594.5,297.5Z"/>
<path fill="#5acc77" d="M594.2,320.2L607.6,329.3 620.6,325 607.1,312.9Z"/>
<path fill="#48cb86" d="M607.6,329.3L622,331.7 635,330.3 620.6,325Z"/>
<path fill="#46cb88" d="M622,331.7L637.5,364.9 650.4,359.3 635,330.3Z"/>
<path fill="#28c2ab" d="M637.5,364.9L653.9,373 666.9,376.2 650.4,359.3Z"/>
<path fill="#11beba" d="M653.9,373L671.5,376.6 684.5,368.6 666.9,376.2Z"/>
<path fill="#28c3aa" d="M671.5,376.6L690.3,400.1 703.3,386.5 684.5,368.6Z"/>
<path fill="#11beb9" d="M690.3,400.1L710.5,408.3 723.4,404.8 703.3,386.5Z"/>
<path fill="#01b9c8" d="M710.5,408.3L732,425.4 744.9,412.7 723.4,404.8Z"/>
<path fill="#01b8ca" d="M732,425.4L754.9,452.3 767.9,440.3 744.9,412.7Z"/>
<path fill="#1aabdd" d="M754.9,452.3L779.5,463 792.5,459 767.9,440.3Z"/>
<path fill="#22a2e4" d="M779.5,463L805.8,473.1 818.7,462.8 792.5,459Z"/>
<path fill="#1fa5e2" d="M805.8,473.1L833.8,478.3 846.8,465.8 818.7,462.8Z"/>
<path fill="#1ca9e0" d="M833.8,478.3L863.8,486.5 876.8,478.2 846.8,465.8Z"/>
<path fill="#1fa6e1" d="M863.8,486.5L895.9,504.4 908.9,501.2 876.8,478.2Z"/>
<path fill="#259be8" d="M895.9,504.4L930.2,521.2 943.2,517.8 908.9,501.2Z"/>
<path fill="#2896ec" d="M930.2,521.2L966.9,579.2 979.8,572.1 943.2,517.8Z"/>
<path fill="#416cfe" d="M966.9,579.2L1006,666.1 1019,662.4 979.8,572.1Z"/>
<path fill="#3e26a8" d="M1006,666.1L1057,680.7 1070,677 1019,662.4Z"/>
<path fill="#3e26a8" d="M396.7,498.1L397.5,490.7 410.5,486.6 409.7,494.4Z"/>
<path fill="#412cb9" d="M397.5,490.7L398.3,482.6 411.3,481 410.5,486.6Z"/>
<path fill="#4230c4" d="M398.3,482.6L399.2,475 412.2,473.1 411.3,481Z"/>
<path fill="#4536d3" d="M399.2,475L400.1,470.1 413.1,464.9 412.2,473.1Z"/>
<path fill="#463ddf" d="M400.1,470.1L401.1,459.6 414.1,456.7 413.1,464.9Z"/>
<path fill="#4745e9" d="M401.1,459.6L402.2,452.2 415.2,449.1 414.1,456.7Z"/>
<path fill="#484cf0" d="M402.2,452.2L403.4,447.7 416.3,441.5 415.2,449.1Z"/>
<path fill="#4854f5" d="M403.4,447.7L404.6,441 417.5,435.4 416.3,441.5Z"/>
<path fill="#475af9" d="M404.6,441L405.9,433.5 418.8,428.2 417.5,435.4Z"/>
<path fill="#4562fc" d="M405.9,433.5L407.3,428.8 420.2,423.3 418.8,428.2Z"/>
<path fill="#4367fd" d="M407.3,428.8L408.8,419.8 421.7,413.1 420.2,423.3Z"/>
<path fill="#3c72ff" d="M408.8,419.8L410.4,410.2 423.3,405.4 421.7,413.1Z"/>
<path fill="#337afd" d="M410.4,410.2L412.1,400.2 425,398.5 423.3,405.4Z"/>
<path fill="#2f82fa" d="M412.1,400.2L413.9,393.5 426.9,396.4 425,398.5Z"/>
<path fill="#2e84f8" d="M413.9,393.5L415.9,394.1 428.8,386.6 426.9,396.4Z"/>
<path fill="#2c8ef2" d="M415.9,394.1L417.9,372.6 430.9,375 428.8,386.6Z"/>
<path fill="#2798ea" d="M417.9,372.6L420.2,362.2 433.1,360.2 430.9,375Z"/>
<path fill="#20a5e3" d="M420.2,362.2L422.6,355.9 435.5,353.7 433.1,360.2Z"/>
<path fill="#1caadf" d="M422.6,355.9L425.1,345.5 438.1,349 435.5,353.7Z"/>
<path fill="#18aedb" d="M425.1,345.5L427.8,321.5 440.8,341 438.1,349Z"/>
<path fill="#0cb3d3" d="M427.8,321.5L430.7,331.6 443.7,326.9 440.8,341Z"/>
<path fill="#03bbc2" d="M430.7,331.6L433.8,336.5 446.8,327.8 443.7,326.9Z"/>
<path fill="#03bbc2" d="M433.8,336.5L437.2,315.2 450.1,327.4 446.8,327.8Z"/>
<path fill="#05bbc1" d="M437.2,315.2L440.7,311.4 453.7,305.7 450.1,327.4Z"/>
<path fill="#2dc4a5" d="M440.7,311.4L444.5,274.3 457.5,271.5 453.7,305.7Z"/>
<path fill="#67cd6c" d="M444.5,274.3L448.6,287.4 461.5,260.7 457.5,271.5Z"/>
<path fill="#84cb56" d="M448.6,287.4L452.9,260.5 465.9,275.5 461.5,260.7Z"/>
<path fill="#63cd6f" d="M452.9,260.5L457.6,233.9 470.5,254.1 465.9,275.5Z"/>
<path fill="#9bc944" d="M457.6,233.9L462.5,231.7 475.5,228.1 470.5,254.1Z"/>
<path fill="#d7be28" d="M462.5,231.7L467.8,260.8 480.8,254.5 475.5,228.1Z"/>
<path fill="#a1c840" d="M467.8,260.8L473.5,268.8 486.5,248.5 480.8,254.5Z"/>
<path fill="#b3c534" d="M473.5,268.8L479.5,266.9 492.5,246 486.5,248.5Z"/>
<path fill="#bcc42f" d="M479.5,266.9L486,250.6 499,233.3 492.5,246Z"/>
<path fill="#d9bd28" d="M486,250.6L492.9,256 505.9,235.3 499,233.3Z"/>
<path fill="#dabd28" d="M492.9,256L500.3,263 513.3,234.3 505.9,235.3Z"/>
<path fill="#dfbc2a" d="M500.3,263L508.3,266.2 521.2,226.9 513.3,234.3Z"/>
<path fill="#efba35" d="M508.3,266.2L516.7,285.8 529.7,285 521.2,226.9Z"/>
<path fill="#79cc5e" d="M516.7,285.8L525.7,281.8 538.7,294.4 529.7,285Z"/>
<path fill="#68cd6c" d="M525.7,281.8L535.4,281.8 548.4,292.3 538.7,294.4Z"/>
<path fill="#74cc62" d="M535.4,281.8L545.7,311.6 558.7,292.4 548.4,292.3Z"/>
<path fill="#7bcc5d" d="M545.7,311.6L556.8,323.5 569.7,310.7 558.7,292.4Z"/>
<path fill="#58cc79" d="M556.8,323.5L568.6,312.5 581.5,305.7 569.7,310.7Z"/>
<path fill="#6bcd69" d="M568.6,312.5L581.2,323.3 594.2,320.2 581.5,305.7Z"/>
<path fill="#52cc7e" d="M581.2,323.3L594.7,333.9 607.6,329.3 594.2,320.2Z"/>
<path fill="#47cb87" d="M594.7,333.9L609.1,352.4 622,331.7 607.6,329.3Z"/>
<path fill="#4bcb84" d="M609.1,352.4L624.5,358.5 637.5,364.9 622,331.7Z"/>
<path fill="#25c2ad" d="M624.5,358.5L641,369.2 653.9,373 637.5,364.9Z"/>
<path fill="#1fc1b1" d="M641,369.2L658.6,386.3 671.5,376.6 653.9,373Z"/>
<path fill="#22c1b0" d="M658.6,386.3L677.4,399.7 690.3,400.1 671.5,376.6Z"/>
<path fill="#02bac5" d="M677.4,399.7L697.5,415 710.5,408.3 690.3,400.1Z"/>
<path fill="#01b9c8" d="M697.5,415L719,426.5 732,425.4 710.5,408.3Z"/>
<path fill="#0cb3d3" d="M719,426.5L742,451.6 754.9,452.3 732,425.4Z"/>
<path fill="#20a5e2" d="M742,451.6L766.5,468.3 779.5,463 754.9,452.3Z"/>
<path fill="#22a2e4" d="M766.5,468.3L792.8,472.4 805.8,473.1 779.5,463Z"/>
<path fill="#23a0e5" d="M792.8,472.4L820.9,477.9 833.8,478.3 805.8,473.1Z"/>
<path fill="#22a2e4" d="M820.9,477.9L850.9,491.3 863.8,486.5 833.8,478.3Z"/>
<path fill="#21a3e4" d="M850.9,491.3L882.9,506.8 895.9,504.4 863.8,486.5Z"/>
<path fill="#259ce7" d="M882.9,506.8L917.2,524 930.2,521.2 895.9,504.4Z"/>
<path fill="#2896eb" d="M917.2,524L953.9,581.3 966.9,579.2 930.2,521.2Z"/>
<path fill="#4368fe" d="M953.9,581.3L993.1,669.8 1006,666.1 966.9,579.2Z"/>
<path fill="#3e26a8" d="M993.1,669.8L1044,684.4 1057,680.7 1006,666.1Z"/>
<path fill="#3e26a8" d="M383.8,501.8L384.5,495.3 397.5,490.7 396.7,498.1Z"/>
<path fill="#402bb8" d="M384.5,495.3L385.4,485.5 398.3,482.6 397.5,490.7Z"/>
<path fill="#4331c8" d="M385.4,485.5L386.2,478.7 399.2,475 398.3,482.6Z"/>
<path fill="#4537d6" d="M386.2,478.7L387.2,471.2 400.1,470.1 399.2,475Z"/>
<path fill="#463bdd" d="M387.2,471.2L388.2,462.5 401.1,459.6 400.1,470.1Z"/>
<path fill="#4746ea" d="M388.2,462.5L389.2,456.9 402.2,452.2 401.1,459.6Z"/>
<path fill="#484df0" d="M389.2,456.9L390.4,451.6 403.4,447.7 402.2,452.2Z"/>
<path fill="#4852f4" d="M390.4,451.6L391.6,441.4 404.6,441 403.4,447.7Z"/>
<path fill="#4758f8" d="M391.6,441.4L392.9,434.8 405.9,433.5 404.6,441Z"/>
<path fill="#4660fb" d="M392.9,434.8L394.3,427.9 407.3,428.8 405.9,433.5Z"/>
<path fill="#4465fd" d="M394.3,427.9L395.8,421.8 408.8,419.8 407.3,428.8Z"/>
<path fill="#3f6fff" d="M395.8,421.8L397.4,415.3 410.4,410.2 408.8,419.8Z"/>
<path fill="#3479fd" d="M397.4,415.3L399.1,406.8 412.1,400.2 410.4,410.2Z"/>
<path fill="#2e84f9" d="M399.1,406.8L400.9,402.8 413.9,393.5 412.1,400.2Z"/>
<path fill="#2d8af4" d="M400.9,402.8L402.9,398.4 415.9,394.1 413.9,393.5Z"/>
<path fill="#2d8af4" d="M402.9,398.4L405,384 417.9,372.6 415.9,394.1Z"/>
<path fill="#249de6" d="M405,384L407.2,363.3 420.2,362.2 417.9,372.6Z"/>
<path fill="#1fa6e2" d="M407.2,363.3L409.6,358.7 422.6,355.9 420.2,362.2Z"/>
<path fill="#1babde" d="M409.6,358.7L412.1,355.5 425.1,345.5 422.6,355.9Z"/>
<path fill="#0eb2d4" d="M412.1,355.5L414.9,333.1 427.8,321.5 425.1,345.5Z"/>
<path fill="#12beb9" d="M414.9,333.1L417.8,334.6 430.7,331.6 427.8,321.5Z"/>
<path fill="#02bac3" d="M417.8,334.6L420.9,333.5 433.8,336.5 430.7,331.6Z"/>
<path fill="#01b9c8" d="M420.9,333.5L424.2,315 437.2,315.2 433.8,336.5Z"/>
<path fill="#25c2ae" d="M424.2,315L427.8,288.3 440.7,311.4 437.2,315.2Z"/>
<path fill="#2bc3a8" d="M427.8,288.3L431.6,276.3 444.5,274.3 440.7,311.4Z"/>
<path fill="#69cd6b" d="M431.6,276.3L435.6,278.3 448.6,287.4 444.5,274.3Z"/>
<path fill="#4fcc81" d="M435.6,278.3L440,264.5 452.9,260.5 448.6,287.4Z"/>
<path fill="#91ca4c" d="M440,264.5L444.6,247.9 457.6,233.9 452.9,260.5Z"/>
<path fill="#d0bf27" d="M444.6,247.9L449.6,233.8 462.5,231.7 457.6,233.9Z"/>
<path fill="#d7be28" d="M449.6,233.8L454.9,252 467.8,260.8 462.5,231.7Z"/>
<path fill="#9bc945" d="M454.9,252L460.5,253.7 473.5,268.8 467.8,260.8Z"/>
<path fill="#8bcb51" d="M460.5,253.7L466.6,255.4 479.5,266.9 473.5,268.8Z"/>
<path fill="#94ca4a" d="M466.6,255.4L473.1,237.7 486,250.6 479.5,266.9Z"/>
<path fill="#bec32e" d="M473.1,237.7L480,244.7 492.9,256 486,250.6Z"/>
<path fill="#b7c532" d="M480,244.7L487.4,252.2 500.3,263 492.9,256Z"/>
<path fill="#acc739" d="M487.4,252.2L495.3,259.6 508.3,266.2 500.3,263Z"/>
<path fill="#aac73a" d="M495.3,259.6L503.7,282.7 516.7,285.8 508.3,266.2Z"/>
<path fill="#80cc59" d="M503.7,282.7L512.8,307.7 525.7,281.8 516.7,285.8Z"/>
<path fill="#90ca4d" d="M512.8,307.7L522.4,295.8 535.4,281.8 525.7,281.8Z"/>
<path fill="#97ca47" d="M522.4,295.8L532.8,316.6 545.7,311.6 535.4,281.8Z"/>
<path fill="#57cc7a" d="M532.8,316.6L543.8,303.9 556.8,323.5 545.7,311.6Z"/>
<path fill="#45cb89" d="M543.8,303.9L555.6,317.2 568.6,312.5 556.8,323.5Z"/>
<path fill="#63cd6f" d="M555.6,317.2L568.2,327.4 581.2,323.3 568.6,312.5Z"/>
<path fill="#54cc7d" d="M568.2,327.4L581.7,329.3 594.7,333.9 581.2,323.3Z"/>
<path fill="#46cb88" d="M581.7,329.3L596.1,363.3 609.1,352.4 594.7,333.9Z"/>
<path fill="#32c69e" d="M596.1,363.3L611.5,370.6 624.5,358.5 609.1,352.4Z"/>
<path fill="#31c6a0" d="M611.5,370.6L628,379.6 641,369.2 624.5,358.5Z"/>
<path fill="#2bc3a8" d="M628,379.6L645.6,396.5 658.6,386.3 641,369.2Z"/>
<path fill="#16bfb7" d="M645.6,396.5L664.4,409 677.4,399.7 658.6,386.3Z"/>
<path fill="#06bcc0" d="M664.4,409L684.5,418.7 697.5,415 677.4,399.7Z"/>
<path fill="#02b7cb" d="M684.5,418.7L706,433.9 719,426.5 697.5,415Z"/>
<path fill="#08b4d0" d="M706,433.9L729,449.3 742,451.6 719,426.5Z"/>
<path fill="#1da8e0" d="M729,449.3L753.6,464.4 766.5,468.3 742,451.6Z"/>
<path fill="#23a1e4" d="M753.6,464.4L779.8,474.3 792.8,472.4 766.5,468.3Z"/>
<path fill="#21a4e3" d="M779.8,474.3L807.9,481.4 820.9,477.9 792.8,472.4Z"/>
<path fill="#1fa6e2" d="M807.9,481.4L837.9,496.5 850.9,491.3 820.9,477.9Z"/>
<path fill="#22a2e4" d="M837.9,496.5L870,509.4 882.9,506.8 850.9,491.3Z"/>
<path fill="#259de7" d="M870,509.4L904.3,524.1 917.2,524 882.9,506.8Z"/>
<path fill="#2797eb" d="M904.3,524.1L940.9,583.4 953.9,581.3 917.2,524Z"/>
<path fill="#426afe" d="M940.9,583.4L980.1,673.5 993.1,669.8 953.9,581.3Z"/>
<path fill="#3e26a8" d="M980.1,673.5L1031.1,688.1 1044,684.4 993.1,669.8Z"/>
<path fill="#3e26a8" d="M370.8,505.5L371.6,496.5 384.5,495.3 383.8,501.8Z"/>
<path fill="#402bb6" d="M371.6,496.5L372.4,490.2 385.4,485.5 384.5,495.3Z"/>
<path fill="#4332c9" d="M372.4,490.2L373.3,480.9 386.2,478.7 385.4,485.5Z"/>
<path fill="#4537d6" d="M373.3,480.9L374.2,474 387.2,471.2 386.2,478.7Z"/>
<path fill="#463ee1" d="M374.2,474L375.2,466.7 388.2,462.5 387.2,471.2Z"/>
<path fill="#4746eb" d="M375.2,466.7L376.3,459.8 389.2,456.9 388.2,462.5Z"/>
<path fill="#484cf0" d="M376.3,459.8L377.4,454.5 390.4,451.6 389.2,456.9Z"/>
<path fill="#4851f4" d="M377.4,454.5L378.6,451.3 391.6,441.4 390.4,451.6Z"/>
<path fill="#475cfa" d="M378.6,451.3L380,434 392.9,434.8 391.6,441.4Z"/>
<path fill="#4562fc" d="M380,434L381.3,427.7 394.3,427.9 392.9,434.8Z"/>
<path fill="#426afe" d="M381.3,427.7L382.8,422.8 395.8,421.8 394.3,427.9Z"/>
<path fill="#3d70ff" d="M382.8,422.8L384.4,413.5 397.4,415.3 395.8,421.8Z"/>
<path fill="#3678fe" d="M384.4,413.5L386.1,409.5 399.1,406.8 397.4,415.3Z"/>
<path fill="#2f81fa" d="M386.1,409.5L388,407.5 400.9,402.8 399.1,406.8Z"/>
<path fill="#2e85f8" d="M388,407.5L389.9,408.7 402.9,398.4 400.9,402.8Z"/>
<path fill="#2d8af5" d="M389.9,408.7L392,387.5 405,384 402.9,398.4Z"/>
<path fill="#2797eb" d="M392,387.5L394.2,383.3 407.2,363.3 405,384Z"/>
<path fill="#1da8e0" d="M394.2,383.3L396.6,371.1 409.6,358.7 407.2,363.3Z"/>
<path fill="#1aacdd" d="M396.6,371.1L399.2,365.8 412.1,355.5 409.6,358.7Z"/>
<path fill="#17aeda" d="M399.2,365.8L401.9,352.7 414.9,333.1 412.1,355.5Z"/>
<path fill="#04bbc2" d="M401.9,352.7L404.8,332.9 417.8,334.6 414.9,333.1Z"/>
<path fill="#03bbc3" d="M404.8,332.9L407.9,341.6 420.9,333.5 417.8,334.6Z"/>
<path fill="#06bcc0" d="M407.9,341.6L411.2,318.9 424.2,315 420.9,333.5Z"/>
<path fill="#2ac3a9" d="M411.2,318.9L414.8,299 427.8,288.3 424.2,315Z"/>
<path fill="#50cc80" d="M414.8,299L418.6,288.9 431.6,276.3 427.8,288.3Z"/>
<path fill="#6dcd67" d="M418.6,288.9L422.6,276.4 435.6,278.3 431.6,276.3Z"/>
<path fill="#6bcd69" d="M422.6,276.4L427,269.8 440,264.5 435.6,278.3Z"/>
<path fill="#91ca4d" d="M427,269.8L431.6,268.6 444.6,247.9 440,264.5Z"/>
<path fill="#bac430" d="M431.6,268.6L436.6,242.7 449.6,233.8 444.6,247.9Z"/>
<path fill="#dabd28" d="M436.6,242.7L441.9,271.7 454.9,252 449.6,233.8Z"/>
<path fill="#b8c431" d="M441.9,271.7L447.6,272.4 460.5,253.7 454.9,252Z"/>
<path fill="#b8c431" d="M447.6,272.4L453.6,245.5 466.6,255.4 460.5,253.7Z"/>
<path fill="#b8c431" d="M453.6,245.5L460.1,272.4 473.1,237.7 466.6,255.4Z"/>
<path fill="#dfbc2a" d="M460.1,272.4L467,271.3 480,244.7 473.1,237.7Z"/>
<path fill="#d6be28" d="M467,271.3L474.4,269.8 487.4,252.2 480,244.7Z"/>
<path fill="#cbc029" d="M474.4,269.8L482.3,292.7 495.3,259.6 487.4,252.2Z"/>
<path fill="#c1c32c" d="M482.3,292.7L490.8,305.5 503.7,282.7 495.3,259.6Z"/>
<path fill="#91ca4c" d="M490.8,305.5L499.8,285.7 512.8,307.7 503.7,282.7Z"/>
<path fill="#5bcc77" d="M499.8,285.7L509.5,297.4 522.4,295.8 512.8,307.7Z"/>
<path fill="#7ecc5b" d="M509.5,297.4L519.8,309.9 532.8,316.6 522.4,295.8Z"/>
<path fill="#54cc7c" d="M519.8,309.9L530.8,324 543.8,303.9 532.8,316.6Z"/>
<path fill="#79cc5e" d="M530.8,324L542.6,326.4 555.6,317.2 543.8,303.9Z"/>
<path fill="#61cd71" d="M542.6,326.4L555.3,322.6 568.2,327.4 555.6,317.2Z"/>
<path fill="#53cc7d" d="M555.3,322.6L568.7,350.1 581.7,329.3 568.2,327.4Z"/>
<path fill="#57cc7a" d="M568.7,350.1L583.1,365 596.1,363.3 581.7,329.3Z"/>
<path fill="#2bc3a8" d="M583.1,365L598.6,387 611.5,370.6 596.1,363.3Z"/>
<path fill="#27c2ab" d="M598.6,387L615,394.1 628,379.6 611.5,370.6Z"/>
<path fill="#21c1b0" d="M615,394.1L632.6,399.4 645.6,396.5 628,379.6Z"/>
<path fill="#08bcbf" d="M632.6,399.4L651.4,410.5 664.4,409 645.6,396.5Z"/>
<path fill="#01b9c7" d="M651.4,410.5L671.6,422.4 684.5,418.7 664.4,409Z"/>
<path fill="#02b7cb" d="M671.6,422.4L693.1,430.8 706,433.9 684.5,418.7Z"/>
<path fill="#0eb2d4" d="M693.1,430.8L716,456.1 729,449.3 706,433.9Z"/>
<path fill="#19addc" d="M716,456.1L740.6,466.8 753.6,464.4 729,449.3Z"/>
<path fill="#1ea7e1" d="M740.6,466.8L766.9,484.1 779.8,474.3 753.6,464.4Z"/>
<path fill="#20a5e2" d="M766.9,484.1L794.9,490.1 807.9,481.4 779.8,474.3Z"/>
<path fill="#1fa6e2" d="M794.9,490.1L824.9,501.7 837.9,496.5 807.9,481.4Z"/>
<path fill="#23a1e5" d="M824.9,501.7L857,510.1 870,509.4 837.9,496.5Z"/>
<path fill="#249ee6" d="M857,510.1L891.3,530 904.3,524.1 870,509.4Z"/>
<path fill="#269ae9" d="M891.3,530L928,585.5 940.9,583.4 904.3,524.1Z"/>
<path fill="#416bfe" d="M928,585.5L967.1,677.1 980.1,673.5 940.9,583.4Z"/>
<path fill="#3e26a8" d="M967.1,677.1L1018.1,691.8 1031.1,688.1 980.1,673.5Z"/>
<path fill="#3e26a8" d="M357.8,509.2L358.6,502.5 371.6,496.5 370.8,505.5Z"/>
<path fill="#412dbb" d="M358.6,502.5L359.4,493.9 372.4,490.2 371.6,496.5Z"/>
<path fill="#4331c7" d="M359.4,493.9L360.3,485 373.3,480.9 372.4,490.2Z"/>
<path fill="#4538d8" d="M360.3,485L361.2,479.4 374.2,474 373.3,480.9Z"/>
<path fill="#473fe2" d="M361.2,479.4L362.2,470.9 375.2,466.7 374.2,474Z"/>
<path fill="#4746ea" d="M362.2,470.9L363.3,466.2 376.3,459.8 375.2,466.7Z"/>
<path fill="#484df0" d="M363.3,466.2L364.5,458.5 377.4,454.5 376.3,459.8Z"/>
<path fill="#4852f4" d="M364.5,458.5L365.7,451.3 378.6,451.3 377.4,454.5Z"/>
<path fill="#4756f6" d="M365.7,451.3L367,443.9 380,434 378.6,451.3Z"/>
<path fill="#4367fd" d="M367,443.9L368.4,434.1 381.3,427.7 380,434Z"/>
<path fill="#3f6efe" d="M368.4,434.1L369.9,421.7 382.8,422.8 381.3,427.7Z"/>
<path fill="#3a73fe" d="M369.9,421.7L371.5,416.2 384.4,413.5 382.8,422.8Z"/>
<path fill="#317dfc" d="M371.5,416.2L373.2,414.3 386.1,409.5 384.4,413.5Z"/>
<path fill="#2f82fa" d="M373.2,414.3L375,404.7 388,407.5 386.1,409.5Z"/>
<path fill="#2e84f8" d="M375,404.7L377,405.1 389.9,408.7 388,407.5Z"/>
<path fill="#2e84f9" d="M377,405.1L379,386.7 392,387.5 389.9,408.7Z"/>
<path fill="#2797eb" d="M379,386.7L381.3,380.4 394.2,383.3 392,387.5Z"/>
<path fill="#259be8" d="M381.3,380.4L383.7,370.8 396.6,371.1 394.2,383.3Z"/>
<path fill="#1fa5e2" d="M383.7,370.8L386.2,368.9 399.2,365.8 396.6,371.1Z"/>
<path fill="#1caadf" d="M386.2,368.9L388.9,351 401.9,352.7 399.2,365.8Z"/>
<path fill="#0db3d3" d="M388.9,351L391.8,348 404.8,332.9 401.9,352.7Z"/>
<path fill="#0bbdbc" d="M391.8,348L394.9,336.2 407.9,341.6 404.8,332.9Z"/>
<path fill="#01bac5" d="M394.9,336.2L398.3,321.8 411.2,318.9 407.9,341.6Z"/>
<path fill="#2ac3a9" d="M398.3,321.8L401.8,308.1 414.8,299 411.2,318.9Z"/>
<path fill="#42ca8b" d="M401.8,308.1L405.6,284.3 418.6,288.9 414.8,299Z"/>
<path fill="#59cc78" d="M405.6,284.3L409.7,286.6 422.6,276.4 418.6,288.9Z"/>
<path fill="#79cc5e" d="M409.7,286.6L414,289.3 427,269.8 422.6,276.4Z"/>
<path fill="#8dcb50" d="M414,289.3L418.7,283 431.6,268.6 427,269.8Z"/>
<path fill="#93ca4b" d="M418.7,283L423.6,238.4 436.6,242.7 431.6,268.6Z"/>
<path fill="#d0bf27" d="M423.6,238.4L428.9,237.4 441.9,271.7 436.6,242.7Z"/>
<path fill="#92ca4b" d="M428.9,237.4L434.6,265.5 447.6,272.4 441.9,271.7Z"/>
<path fill="#95ca49" d="M434.6,265.5L440.6,269.6 453.6,245.5 447.6,272.4Z"/>
<path fill="#d4bf28" d="M440.6,269.6L447.1,232.6 460.1,272.4 453.6,245.5Z"/>
<path fill="#9dc943" d="M447.1,232.6L454,264.7 467,271.3 460.1,272.4Z"/>
<path fill="#a5c83d" d="M454,264.7L461.4,254.3 474.4,269.8 467,271.3Z"/>
<path fill="#adc638" d="M461.4,254.3L469.4,300.3 482.3,292.7 474.4,269.8Z"/>
<path fill="#7bcc5d" d="M469.4,300.3L477.8,291.8 490.8,305.5 482.3,292.7Z"/>
<path fill="#62cd71" d="M477.8,291.8L486.8,300.7 499.8,285.7 490.8,305.5Z"/>
<path fill="#99c946" d="M486.8,300.7L496.5,299.1 509.5,297.4 499.8,285.7Z"/>
<path fill="#83cc57" d="M496.5,299.1L506.8,307.5 519.8,309.9 509.5,297.4Z"/>
<path fill="#6bcd69" d="M506.8,307.5L517.9,325.3 530.8,324 519.8,309.9Z"/>
<path fill="#53cc7d" d="M517.9,325.3L529.7,338.6 542.6,326.4 530.8,324Z"/>
<path fill="#55cc7c" d="M529.7,338.6L542.3,336 555.3,322.6 542.6,326.4Z"/>
<path fill="#65cd6e" d="M542.3,336L555.8,351.5 568.7,350.1 555.3,322.6Z"/>
<path fill="#38c896" d="M555.8,351.5L570.2,362.3 583.1,365 568.7,350.1Z"/>
<path fill="#2dc4a5" d="M570.2,362.3L585.6,364.4 598.6,387 583.1,365Z"/>
<path fill="#0fbebb" d="M585.6,364.4L602.1,389.5 615,394.1 598.6,387Z"/>
<path fill="#0abdbd" d="M602.1,389.5L619.7,401.7 632.6,399.4 615,394.1Z"/>
<path fill="#0abdbe" d="M619.7,401.7L638.5,413.6 651.4,410.5 632.6,399.4Z"/>
<path fill="#02bac4" d="M638.5,413.6L658.6,427.1 671.6,422.4 651.4,410.5Z"/>
<path fill="#02b7cb" d="M658.6,427.1L680.1,442.3 693.1,430.8 671.6,422.4Z"/>
<path fill="#04b6cd" d="M680.1,442.3L703.1,458.9 716,456.1 693.1,430.8Z"/>
<path fill="#1baade" d="M703.1,458.9L727.6,471 740.6,466.8 716,456.1Z"/>
<path fill="#1ea8e0" d="M727.6,471L753.9,484.2 766.9,484.1 740.6,466.8Z"/>
<path fill="#23a0e5" d="M753.9,484.2L782,498.9 794.9,490.1 766.9,484.1Z"/>
<path fill="#22a2e4" d="M782,498.9L812,506.7 824.9,501.7 794.9,490.1Z"/>
<path fill="#239fe5" d="M812,506.7L844.1,516.2 857,510.1 824.9,501.7Z"/>
<path fill="#23a0e5" d="M844.1,516.2L878.3,538.7 891.3,530 857,510.1Z"/>
<path fill="#2798ea" d="M878.3,538.7L915,589.7 928,585.5 891.3,530Z"/>
<path fill="#406dfe" d="M915,589.7L954.2,680.8 967.1,677.1 928,585.5Z"/>
<path fill="#3e26a8" d="M954.2,680.8L1005.1,695.5 1018.1,691.8 967.1,677.1Z"/>
<path fill="#3e26a8" d="M344.9,512.9L345.6,507.6 358.6,502.5 357.8,509.2Z"/>
<path fill="#402bb6" d="M345.6,507.6L346.5,498 359.4,493.9 358.6,502.5Z"/>
<path fill="#4331c7" d="M346.5,498L347.3,488.5 360.3,485 359.4,493.9Z"/>
<path fill="#4538d7" d="M347.3,488.5L348.3,483.2 361.2,479.4 360.3,485Z"/>
<path fill="#463de0" d="M348.3,483.2L349.3,476 362.2,470.9 361.2,479.4Z"/>
<path fill="#4745ea" d="M349.3,476L350.3,469.2 363.3,466.2 362.2,470.9Z"/>
<path fill="#484aee" d="M350.3,469.2L351.5,461 364.5,458.5 363.3,466.2Z"/>
<path fill="#4852f4" d="M351.5,461L352.7,457.1 365.7,451.3 364.5,458.5Z"/>
<path fill="#4759f8" d="M352.7,457.1L354,449.6 367,443.9 365.7,451.3Z"/>
<path fill="#4661fc" d="M354,449.6L355.4,439.1 368.4,434.1 367,443.9Z"/>
<path fill="#416bfe" d="M355.4,439.1L356.9,430.3 369.9,421.7 368.4,434.1Z"/>
<path fill="#3578fd" d="M356.9,430.3L358.5,421.8 371.5,416.2 369.9,421.7Z"/>
<path fill="#307efb" d="M358.5,421.8L360.2,411.8 373.2,414.3 371.5,416.2Z"/>
<path fill="#2f81fa" d="M360.2,411.8L362,401.4 375,404.7 373.2,414.3Z"/>
<path fill="#2d8af4" d="M362,401.4L364,402 377,405.1 375,404.7Z"/>
<path fill="#2d8af4" d="M364,402L366.1,390.8 379,386.7 377,405.1Z"/>
<path fill="#259be8" d="M366.1,390.8L368.3,378.4 381.3,380.4 379,386.7Z"/>
<path fill="#23a0e5" d="M368.3,378.4L370.7,366.5 383.7,370.8 381.3,380.4Z"/>
<path fill="#1da8e0" d="M370.7,366.5L373.2,362.3 386.2,368.9 383.7,370.8Z"/>
<path fill="#1baade" d="M373.2,362.3L376,356.6 388.9,351 386.2,368.9Z"/>
<path fill="#05b6ce" d="M376,356.6L378.9,344.8 391.8,348 388.9,351Z"/>
<path fill="#01b8c9" d="M378.9,344.8L382,345.7 394.9,336.2 391.8,348Z"/>
<path fill="#0ebebb" d="M382,345.7L385.3,314.5 398.3,321.8 394.9,336.2Z"/>
<path fill="#2bc3a8" d="M385.3,314.5L388.9,322.5 401.8,308.1 398.3,321.8Z"/>
<path fill="#3ac994" d="M388.9,322.5L392.7,311.3 405.6,284.3 401.8,308.1Z"/>
<path fill="#6ccd69" d="M392.7,311.3L396.7,263.9 409.7,286.6 405.6,284.3Z"/>
<path fill="#69cd6b" d="M396.7,263.9L401.1,268 414,289.3 409.7,286.6Z"/>
<path fill="#65cd6e" d="M401.1,268L405.7,267.7 418.7,283 414,289.3Z"/>
<path fill="#78cc5f" d="M405.7,267.7L410.7,236.5 423.6,238.4 418.7,283Z"/>
<path fill="#dfbc2a" d="M410.7,236.5L416,247.4 428.9,237.4 423.6,238.4Z"/>
<path fill="#e3bc2c" d="M416,247.4L421.6,270.5 434.6,265.5 428.9,237.4Z"/>
<path fill="#aec637" d="M421.6,270.5L427.7,259.3 440.6,269.6 434.6,265.5Z"/>
<path fill="#a8c73b" d="M427.7,259.3L434.2,242.5 447.1,232.6 440.6,269.6Z"/>
<path fill="#f3ba39" d="M434.2,242.5L441.1,268 454,264.7 447.1,232.6Z"/>
<path fill="#bcc42f" d="M441.1,268L448.5,267.1 461.4,254.3 454,264.7Z"/>
<path fill="#d6be28" d="M448.5,267.1L456.4,307.7 469.4,300.3 461.4,254.3Z"/>
<path fill="#71cd64" d="M456.4,307.7L464.8,309.5 477.8,291.8 469.4,300.3Z"/>
<path fill="#8dcb50" d="M464.8,309.5L473.9,313.2 486.8,300.7 477.8,291.8Z"/>
<path fill="#7dcc5b" d="M473.9,313.2L483.5,312.4 496.5,299.1 486.8,300.7Z"/>
<path fill="#88cb53" d="M483.5,312.4L493.9,318.4 506.8,307.5 496.5,299.1Z"/>
<path fill="#7acc5d" d="M493.9,318.4L504.9,315.7 517.9,325.3 506.8,307.5Z"/>
<path fill="#58cc79" d="M504.9,315.7L516.7,337.3 529.7,338.6 517.9,325.3Z"/>
<path fill="#44ca8a" d="M516.7,337.3L529.3,353.8 542.3,336 529.7,338.6Z"/>
<path fill="#50cc80" d="M529.3,353.8L542.8,357.6 555.8,351.5 542.3,336Z"/>
<path fill="#3bc993" d="M542.8,357.6L557.2,361.1 570.2,362.3 555.8,351.5Z"/>
<path fill="#33c79c" d="M557.2,361.1L572.6,384.1 585.6,364.4 570.2,362.3Z"/>
<path fill="#36c799" d="M572.6,384.1L589.1,394.1 602.1,389.5 585.6,364.4Z"/>
<path fill="#1cc0b3" d="M589.1,394.1L606.7,409.1 619.7,401.7 602.1,389.5Z"/>
<path fill="#0cbdbc" d="M606.7,409.1L625.5,426.3 638.5,413.6 619.7,401.7Z"/>
<path fill="#02bac3" d="M625.5,426.3L645.6,426.2 658.6,427.1 638.5,413.6Z"/>
<path fill="#03b7cc" d="M645.6,426.2L667.1,444.5 680.1,442.3 658.6,427.1Z"/>
<path fill="#10b2d5" d="M667.1,444.5L690.1,460.2 703.1,458.9 680.1,442.3Z"/>
<path fill="#1babde" d="M690.1,460.2L714.7,471.2 727.6,471 703.1,458.9Z"/>
<path fill="#1ea7e1" d="M714.7,471.2L740.9,482.5 753.9,484.2 727.6,471Z"/>
<path fill="#21a3e3" d="M740.9,482.5L769,501.7 782,498.9 753.9,484.2Z"/>
<path fill="#249ee6" d="M769,501.7L799,514.9 812,506.7 782,498.9Z"/>
<path fill="#249ee6" d="M799,514.9L831.1,525.5 844.1,516.2 812,506.7Z"/>
<path fill="#249ee6" d="M831.1,525.5L865.4,543.6 878.3,538.7 844.1,516.2Z"/>
<path fill="#2994ed" d="M865.4,543.6L902,599.9 915,589.7 878.3,538.7Z"/>
<path fill="#406dfe" d="M902,599.9L941.2,684.5 954.2,680.8 915,589.7Z"/>
<path fill="#3e26a8" d="M941.2,684.5L992.2,699.2 1005.1,695.5 954.2,680.8Z"/>
<path fill="#3e26a8" d="M331.9,516.6L332.7,507.4 345.6,507.6 344.9,512.9Z"/>
<path fill="#402ab4" d="M332.7,507.4L333.5,501.5 346.5,498 345.6,507.6Z"/>
<path fill="#4331c6" d="M333.5,501.5L334.4,493.1 347.3,488.5 346.5,498Z"/>
<path fill="#4538d8" d="M334.4,493.1L335.3,488.3 348.3,483.2 347.3,488.5Z"/>
<path fill="#463de0" d="M335.3,488.3L336.3,478.8 349.3,476 348.3,483.2Z"/>
<path fill="#4744e8" d="M336.3,478.8L337.4,471.2 350.3,469.2 349.3,476Z"/>
<path fill="#484bef" d="M337.4,471.2L338.5,463.1 351.5,461 350.3,469.2Z"/>
<path fill="#4853f5" d="M338.5,463.1L339.7,457.3 352.7,457.1 351.5,461Z"/>
<path fill="#4757f7" d="M339.7,457.3L341.1,454 354,449.6 352.7,457.1Z"/>
<path fill="#465ffb" d="M341.1,454L342.5,449.4 355.4,439.1 354,449.6Z"/>
<path fill="#426afe" d="M342.5,449.4L343.9,436.6 356.9,430.3 355.4,439.1Z"/>
<path fill="#3a73fe" d="M343.9,436.6L345.5,428.6 358.5,421.8 356.9,430.3Z"/>
<path fill="#327cfc" d="M345.5,428.6L347.2,414.7 360.2,411.8 358.5,421.8Z"/>
<path fill="#2e86f7" d="M347.2,414.7L349.1,413 362,401.4 360.2,411.8Z"/>
<path fill="#2b90ef" d="M349.1,413L351,406.9 364,402 362,401.4Z"/>
<path fill="#2b90f0" d="M351,406.9L353.1,399.7 366.1,390.8 364,402Z"/>
<path fill="#269ae8" d="M353.1,399.7L355.3,393.8 368.3,378.4 366.1,390.8Z"/>
<path fill="#20a5e2" d="M355.3,393.8L357.7,385.3 370.7,366.5 368.3,378.4Z"/>
<path fill="#17aeda" d="M357.7,385.3L360.3,365.9 373.2,362.3 370.7,366.5Z"/>
<path fill="#12b1d6" d="M360.3,365.9L363,374.8 376,356.6 373.2,362.3Z"/>
<path fill="#07b5d0" d="M363,374.8L365.9,353.2 378.9,344.8 376,356.6Z"/>
<path fill="#04bbc2" d="M365.9,353.2L369,331.5 382,345.7 378.9,344.8Z"/>
<path fill="#04bbc2" d="M369,331.5L372.3,319.6 385.3,314.5 382,345.7Z"/>
<path fill="#35c79a" d="M372.3,319.6L375.9,324.7 388.9,322.5 385.3,314.5Z"/>
<path fill="#2fc5a3" d="M375.9,324.7L379.7,310.5 392.7,311.3 388.9,322.5Z"/>
<path fill="#3cc991" d="M379.7,310.5L383.7,305.5 396.7,263.9 392.7,311.3Z"/>
<path fill="#a9c73a" d="M383.7,305.5L388.1,289.8 401.1,268 396.7,263.9Z"/>
<path fill="#a3c83f" d="M388.1,289.8L392.7,264.4 405.7,267.7 401.1,268Z"/>
<path fill="#a7c73c" d="M392.7,264.4L397.7,256.6 410.7,236.5 405.7,267.7Z"/>
<path fill="#e8bb2f" d="M397.7,256.6L403,253.7 416,247.4 410.7,236.5Z"/>
<path fill="#d8be28" d="M403,253.7L408.7,261 421.6,270.5 416,247.4Z"/>
<path fill="#abc739" d="M408.7,261L414.7,259.5 427.7,259.3 421.6,270.5Z"/>
<path fill="#c7c12a" d="M414.7,259.5L421.2,260.5 434.2,242.5 427.7,259.3Z"/>
<path fill="#e9bb30" d="M421.2,260.5L428.1,271.3 441.1,268 434.2,242.5Z"/>
<path fill="#bdc32e" d="M428.1,271.3L435.5,266.2 448.5,267.1 441.1,268Z"/>
<path fill="#c3c22b" d="M435.5,266.2L443.4,313.5 456.4,307.7 448.5,267.1Z"/>
<path fill="#68cd6b" d="M443.4,313.5L451.9,332.2 464.8,309.5 456.4,307.7Z"/>
<path fill="#6acd6a" d="M451.9,332.2L460.9,319 473.9,313.2 464.8,309.5Z"/>
<path fill="#67cd6c" d="M460.9,319L470.6,336.3 483.5,312.4 473.9,313.2Z"/>
<path fill="#70cd65" d="M470.6,336.3L480.9,336.4 493.9,318.4 483.5,312.4Z"/>
<path fill="#69cd6b" d="M480.9,336.4L491.9,334.3 504.9,315.7 493.9,318.4Z"/>
<path fill="#77cc60" d="M491.9,334.3L503.7,336.1 516.7,337.3 504.9,315.7Z"/>
<path fill="#4dcc82" d="M503.7,336.1L516.4,369.1 529.3,353.8 516.7,337.3Z"/>
<path fill="#38c896" d="M516.4,369.1L529.8,365.2 542.8,357.6 529.3,353.8Z"/>
<path fill="#38c896" d="M529.8,365.2L544.2,371.4 557.2,361.1 542.8,357.6Z"/>
<path fill="#39c895" d="M544.2,371.4L559.7,386.2 572.6,384.1 557.2,361.1Z"/>
<path fill="#24c1ae" d="M559.7,386.2L576.1,401 589.1,394.1 572.6,384.1Z"/>
<path fill="#1ac0b5" d="M576.1,401L593.7,419.2 606.7,409.1 589.1,394.1Z"/>
<path fill="#06bcc0" d="M593.7,419.2L612.5,427.7 625.5,426.3 606.7,409.1Z"/>
<path fill="#05b6cd" d="M612.5,427.7L632.7,437.1 645.6,426.2 625.5,426.3Z"/>
<path fill="#01b9c7" d="M632.7,437.1L654.2,456.5 667.1,444.5 645.6,426.2Z"/>
<path fill="#0eb3d4" d="M654.2,456.5L677.1,469.1 690.1,460.2 667.1,444.5Z"/>
<path fill="#19addc" d="M677.1,469.1L701.7,477.9 714.7,471.2 690.1,460.2Z"/>
<path fill="#1caadf" d="M701.7,477.9L728,490.2 740.9,482.5 714.7,471.2Z"/>
<path fill="#1ea7e1" d="M728,490.2L756,498.7 769,501.7 740.9,482.5Z"/>
<path fill="#249ee6" d="M756,498.7L786,513.5 799,514.9 769,501.7Z"/>
<path fill="#259be8" d="M786,513.5L818.1,524.5 831.1,525.5 799,514.9Z"/>
<path fill="#269ae9" d="M818.1,524.5L852.4,542.3 865.4,543.6 831.1,525.5Z"/>
<path fill="#2a93ee" d="M852.4,542.3L889.1,601.2 902,599.9 865.4,543.6Z"/>
<path fill="#4466fd" d="M889.1,601.2L928.2,688.2 941.2,684.5 902,599.9Z"/>
<path fill="#3e26a8" d="M928.2,688.2L979.2,702.9 992.2,699.2 941.2,684.5Z"/>
<path fill="#3e26a8" d="M318.9,520.3L319.7,511.4 332.7,507.4 331.9,516.6Z"/>
<path fill="#412dbb" d="M319.7,511.4L320.5,502.8 333.5,501.5 332.7,507.4Z"/>
<path fill="#4331c7" d="M320.5,502.8L321.4,497.3 334.4,493.1 333.5,501.5Z"/>
<path fill="#4537d6" d="M321.4,497.3L322.3,489 335.3,488.3 334.4,493.1Z"/>
<path fill="#463cde" d="M322.3,489L323.3,481.5 336.3,478.8 335.3,488.3Z"/>
<path fill="#4745e9" d="M323.3,481.5L324.4,475.4 337.4,471.2 336.3,478.8Z"/>
<path fill="#484df0" d="M324.4,475.4L325.6,462.9 338.5,463.1 337.4,471.2Z"/>
<path fill="#4755f6" d="M325.6,462.9L326.8,458.6 339.7,457.3 338.5,463.1Z"/>
<path fill="#475bf9" d="M326.8,458.6L328.1,452.7 341.1,454 339.7,457.3Z"/>
<path fill="#465efb" d="M328.1,452.7L329.5,446.7 342.5,449.4 341.1,454Z"/>
<path fill="#4563fc" d="M329.5,446.7L331,438.6 343.9,436.6 342.5,449.4Z"/>
<path fill="#3d70ff" d="M331,438.6L332.6,429.5 345.5,428.6 343.9,436.6Z"/>
<path fill="#3479fd" d="M332.6,429.5L334.3,422 347.2,414.7 345.5,428.6Z"/>
<path fill="#2e87f7" d="M334.3,422L336.1,420 349.1,413 347.2,414.7Z"/>
<path fill="#2d89f5" d="M336.1,420L338.1,413.5 351,406.9 349.1,413Z"/>
<path fill="#2c8ff0" d="M338.1,413.5L340.1,395.2 353.1,399.7 351,406.9Z"/>
<path fill="#2896eb" d="M340.1,395.2L342.4,388 355.3,393.8 353.1,399.7Z"/>
<path fill="#259be7" d="M342.4,388L344.8,378.1 357.7,385.3 355.3,393.8Z"/>
<path fill="#21a3e3" d="M344.8,378.1L347.3,371.9 360.3,365.9 357.7,385.3Z"/>
<path fill="#11b1d6" d="M347.3,371.9L350,363.9 363,374.8 360.3,365.9Z"/>
<path fill="#1aacdd" d="M350,363.9L352.9,345.5 365.9,353.2 363,374.8Z"/>
<path fill="#01b9c7" d="M352.9,345.5L356,334.3 369,331.5 365.9,353.2Z"/>
<path fill="#26c2ac" d="M356,334.3L359.4,333.4 372.3,319.6 369,331.5Z"/>
<path fill="#34c79b" d="M359.4,333.4L362.9,328.1 375.9,324.7 372.3,319.6Z"/>
<path fill="#30c5a1" d="M362.9,328.1L366.7,311.8 379.7,310.5 375.9,324.7Z"/>
<path fill="#43ca8a" d="M366.7,311.8L370.8,311 383.7,305.5 379.7,310.5Z"/>
<path fill="#4fcc80" d="M370.8,311L375.1,264.5 388.1,289.8 383.7,305.5Z"/>
<path fill="#76cc60" d="M375.1,264.5L379.8,259.4 392.7,264.4 388.1,289.8Z"/>
<path fill="#b7c532" d="M379.8,259.4L384.7,251.4 397.7,256.6 392.7,264.4Z"/>
<path fill="#cac129" d="M384.7,251.4L390,258.9 403,253.7 397.7,256.6Z"/>
<path fill="#d3bf27" d="M390,258.9L395.7,254.8 408.7,261 403,253.7Z"/>
<path fill="#c8c129" d="M395.7,254.8L401.8,272.5 414.7,259.5 408.7,261Z"/>
<path fill="#cec028" d="M401.8,272.5L408.2,263.3 421.2,260.5 414.7,259.5Z"/>
<path fill="#d0bf27" d="M408.2,263.3L415.1,257.4 428.1,271.3 421.2,260.5Z"/>
<path fill="#bec32e" d="M415.1,257.4L422.5,313.6 435.5,266.2 428.1,271.3Z"/>
<path fill="#cdc028" d="M422.5,313.6L430.5,314.7 443.4,313.5 435.5,266.2Z"/>
<path fill="#64cd6f" d="M430.5,314.7L438.9,324 451.9,332.2 443.4,313.5Z"/>
<path fill="#41ca8c" d="M438.9,324L447.9,336.8 460.9,319 451.9,332.2Z"/>
<path fill="#63cd70" d="M447.9,336.8L457.6,332.2 470.6,336.3 460.9,319Z"/>
<path fill="#44cb8a" d="M457.6,332.2L467.9,356.8 480.9,336.4 470.6,336.3Z"/>
<path fill="#49cb85" d="M467.9,356.8L479,323.2 491.9,334.3 480.9,336.4Z"/>
<path fill="#55cc7c" d="M479,323.2L490.8,330.6 503.7,336.1 491.9,334.3Z"/>
<path fill="#58cc79" d="M490.8,330.6L503.4,341.5 516.4,369.1 503.7,336.1Z"/>
<path fill="#2cc4a6" d="M503.4,341.5L516.9,359 529.8,365.2 516.4,369.1Z"/>
<path fill="#34c79c" d="M516.9,359L531.3,383.6 544.2,371.4 529.8,365.2Z"/>
<path fill="#32c69f" d="M531.3,383.6L546.7,399.8 559.7,386.2 544.2,371.4Z"/>
<path fill="#26c2ac" d="M546.7,399.8L563.2,414.6 576.1,401 559.7,386.2Z"/>
<path fill="#13beb8" d="M563.2,414.6L580.8,430.7 593.7,419.2 576.1,401Z"/>
<path fill="#01b9c7" d="M580.8,430.7L599.6,434.9 612.5,427.7 593.7,419.2Z"/>
<path fill="#02b7cb" d="M599.6,434.9L619.7,453.5 632.7,437.1 612.5,427.7Z"/>
<path fill="#06b5cf" d="M619.7,453.5L641.2,465.8 654.2,456.5 632.7,437.1Z"/>
<path fill="#18addb" d="M641.2,465.8L664.2,479.3 677.1,469.1 654.2,456.5Z"/>
<path fill="#1ca9e0" d="M664.2,479.3L688.7,486.3 701.7,477.9 677.1,469.1Z"/>
<path fill="#1ea8e0" d="M688.7,486.3L715,494.4 728,490.2 701.7,477.9Z"/>
<path fill="#20a4e3" d="M715,494.4L743.1,499.7 756,498.7 728,490.2Z"/>
<path fill="#21a4e3" d="M743.1,499.7L773.1,516.6 786,513.5 756,498.7Z"/>
<path fill="#249fe5" d="M773.1,516.6L805.2,525.4 818.1,524.5 786,513.5Z"/>
<path fill="#249de6" d="M805.2,525.4L839.4,545.8 852.4,542.3 818.1,524.5Z"/>
<path fill="#2797eb" d="M839.4,545.8L876.1,602.5 889.1,601.2 852.4,542.3Z"/>
<path fill="#4368fe" d="M876.1,602.5L915.3,691.9 928.2,688.2 889.1,601.2Z"/>
<path fill="#3e26a8" d="M915.3,691.9L966.2,706.6 979.2,702.9 928.2,688.2Z"/>
<path fill="#3e26a8" d="M306,524L306.7,515.6 319.7,511.4 318.9,520.3Z"/>
<path fill="#412cba" d="M306.7,515.6L307.6,508.7 320.5,502.8 319.7,511.4Z"/>
<path fill="#4433cb" d="M307.6,508.7L308.4,498.9 321.4,497.3 320.5,502.8Z"/>
<path fill="#4537d6" d="M308.4,498.9L309.4,489.9 322.3,489 321.4,497.3Z"/>
<path fill="#473ee2" d="M309.4,489.9L310.4,482 323.3,481.5 322.3,489Z"/>
<path fill="#4746ea" d="M310.4,482L311.4,476.8 324.4,475.4 323.3,481.5Z"/>
<path fill="#484cf0" d="M311.4,476.8L312.6,470.1 325.6,462.9 324.4,475.4Z"/>
<path fill="#4758f8" d="M312.6,470.1L313.8,458.8 326.8,458.6 325.6,462.9Z"/>
<path fill="#465dfa" d="M313.8,458.8L315.1,453.8 328.1,452.7 326.8,458.6Z"/>
<path fill="#4563fc" d="M315.1,453.8L316.5,450 329.5,446.7 328.1,452.7Z"/>
<path fill="#4269fe" d="M316.5,450L318,433.6 331,438.6 329.5,446.7Z"/>
<path fill="#3b72ff" d="M318,433.6L319.6,429.7 332.6,429.5 331,438.6Z"/>
<path fill="#327cfc" d="M319.6,429.7L321.3,424.3 334.3,422 332.6,429.5Z"/>
<path fill="#2e84f8" d="M321.3,424.3L323.1,414.5 336.1,420 334.3,422Z"/>
<path fill="#2e86f7" d="M323.1,414.5L325.1,407.8 338.1,413.5 336.1,420Z"/>
<path fill="#2d8df2" d="M325.1,407.8L327.2,393.9 340.1,395.2 338.1,413.5Z"/>
<path fill="#259de7" d="M327.2,393.9L329.4,387.2 342.4,388 340.1,395.2Z"/>
<path fill="#21a3e3" d="M329.4,387.2L331.8,376.7 344.8,378.1 342.4,388Z"/>
<path fill="#1babde" d="M331.8,376.7L334.3,376.5 347.3,371.9 344.8,378.1Z"/>
<path fill="#14b0d8" d="M334.3,376.5L337.1,366.5 350,363.9 347.3,371.9Z"/>
<path fill="#07b5d0" d="M337.1,366.5L340,346.6 352.9,345.5 350,363.9Z"/>
<path fill="#10beba" d="M340,346.6L343.1,334.6 356,334.3 352.9,345.5Z"/>
<path fill="#27c2ab" d="M343.1,334.6L346.4,342.6 359.4,333.4 356,334.3Z"/>
<path fill="#2ac3a9" d="M346.4,342.6L350,336.2 362.9,328.1 359.4,333.4Z"/>
<path fill="#30c5a1" d="M350,336.2L353.8,308.8 366.7,311.8 362.9,328.1Z"/>
<path fill="#48cb86" d="M353.8,308.8L357.8,292.1 370.8,311 366.7,311.8Z"/>
<path fill="#4ccb83" d="M357.8,292.1L362.2,266.3 375.1,264.5 370.8,311Z"/>
<path fill="#bcc42f" d="M362.2,266.3L366.8,269.2 379.8,259.4 375.1,264.5Z"/>
<path fill="#c9c129" d="M366.8,269.2L371.8,245.8 384.7,251.4 379.8,259.4Z"/>
<path fill="#dbbd29" d="M371.8,245.8L377.1,280.8 390,258.9 384.7,251.4Z"/>
<path fill="#d0bf27" d="M377.1,280.8L382.7,272.7 395.7,254.8 390,258.9Z"/>
<path fill="#dbbd29" d="M382.7,272.7L388.8,249.2 401.8,272.5 395.7,254.8Z"/>
<path fill="#bbc42f" d="M388.8,249.2L395.3,267.5 408.2,263.3 401.8,272.5Z"/>
<path fill="#d2bf27" d="M395.3,267.5L402.2,250.9 415.1,257.4 408.2,263.3Z"/>
<path fill="#e0bc2a" d="M402.2,250.9L409.6,304.1 422.5,313.6 415.1,257.4Z"/>
<path fill="#67cd6d" d="M409.6,304.1L417.5,311.2 430.5,314.7 422.5,313.6Z"/>
<path fill="#69cd6a" d="M417.5,311.2L425.9,332.8 438.9,324 430.5,314.7Z"/>
<path fill="#5acc78" d="M425.9,332.8L435,310.3 447.9,336.8 438.9,324Z"/>
<path fill="#45cb89" d="M435,310.3L444.6,330.6 457.6,332.2 447.9,336.8Z"/>
<path fill="#54cc7d" d="M444.6,330.6L455,337.3 467.9,356.8 457.6,332.2Z"/>
<path fill="#32c69f" d="M455,337.3L466,354.2 479,323.2 467.9,356.8Z"/>
<path fill="#77cc60" d="M466,354.2L477.8,330.1 490.8,330.6 479,323.2Z"/>
<path fill="#6dcd67" d="M477.8,330.1L490.4,345.2 503.4,341.5 490.8,330.6Z"/>
<path fill="#5ccc75" d="M490.4,345.2L503.9,362.2 516.9,359 503.4,341.5Z"/>
<path fill="#40ca8d" d="M503.9,362.2L518.3,386 531.3,383.6 516.9,359Z"/>
<path fill="#29c3aa" d="M518.3,386L533.7,393.4 546.7,399.8 531.3,383.6Z"/>
<path fill="#13beb8" d="M533.7,393.4L550.2,411.2 563.2,414.6 546.7,399.8Z"/>
<path fill="#02bac4" d="M550.2,411.2L567.8,415.3 580.8,430.7 563.2,414.6Z"/>
<path fill="#07b5d0" d="M567.8,415.3L586.6,437.9 599.6,434.9 580.8,430.7Z"/>
<path fill="#06b5cf" d="M586.6,437.9L606.7,447.6 619.7,453.5 599.6,434.9Z"/>
<path fill="#18aedb" d="M606.7,447.6L628.2,463.7 641.2,465.8 619.7,453.5Z"/>
<path fill="#1ca9df" d="M628.2,463.7L651.2,477.9 664.2,479.3 641.2,465.8Z"/>
<path fill="#20a4e3" d="M651.2,477.9L675.8,493.8 688.7,486.3 664.2,479.3Z"/>
<path fill="#20a4e3" d="M675.8,493.8L702,506.5 715,494.4 688.7,486.3Z"/>
<path fill="#21a4e3" d="M702,506.5L730.1,505.7 743.1,499.7 715,494.4Z"/>
<path fill="#1fa6e2" d="M730.1,505.7L760.1,514 773.1,516.6 743.1,499.7Z"/>
<path fill="#239fe5" d="M760.1,514L792.2,532.7 805.2,525.4 773.1,516.6Z"/>
<path fill="#23a0e5" d="M792.2,532.7L826.5,546.2 839.4,545.8 805.2,525.4Z"/>
<path fill="#2797eb" d="M826.5,546.2L863.1,603.8 876.1,602.5 839.4,545.8Z"/>
<path fill="#416bfe" d="M863.1,603.8L902.3,695.6 915.3,691.9 876.1,602.5Z"/>
<path fill="#3e26a8" d="M902.3,695.6L953.3,710.3 966.2,706.6 915.3,691.9Z"/>
<path fill="#3e26a8" d="M293,527.7L293.8,516.8 306.7,515.6 306,524Z"/>
<path fill="#412cba" d="M293.8,516.8L294.6,512.4 307.6,508.7 306.7,515.6Z"/>
<path fill="#4331c7" d="M294.6,512.4L295.5,503.4 308.4,498.9 307.6,508.7Z"/>
<path fill="#4539d9" d="M295.5,503.4L296.4,494 309.4,489.9 308.4,498.9Z"/>
<path fill="#4741e5" d="M296.4,494L297.4,485.9 310.4,482 309.4,489.9Z"/>
<path fill="#4849ed" d="M297.4,485.9L298.5,480 311.4,476.8 310.4,482Z"/>
<path fill="#484ef1" d="M298.5,480L299.6,470.8 312.6,470.1 311.4,476.8Z"/>
<path fill="#4755f6" d="M299.6,470.8L300.8,464.8 313.8,458.8 312.6,470.1Z"/>
<path fill="#4660fc" d="M300.8,464.8L302.2,457.7 315.1,453.8 313.8,458.8Z"/>
<path fill="#4465fd" d="M302.2,457.7L303.6,447.1 316.5,450 315.1,453.8Z"/>
<path fill="#426afe" d="M303.6,447.1L305,438.7 318,433.6 316.5,450Z"/>
<path fill="#327bfc" d="M305,438.7L306.6,432.7 319.6,429.7 318,433.6Z"/>
<path fill="#3080fb" d="M306.6,432.7L308.4,427.4 321.3,424.3 319.6,429.7Z"/>
<path fill="#2e85f8" d="M308.4,427.4L310.2,418.9 323.1,414.5 321.3,424.3Z"/>
<path fill="#2c8ff1" d="M310.2,418.9L312.1,400.1 325.1,407.8 323.1,414.5Z"/>
<path fill="#2895ec" d="M312.1,400.1L314.2,394.4 327.2,393.9 325.1,407.8Z"/>
<path fill="#23a1e4" d="M314.2,394.4L316.4,391 329.4,387.2 327.2,393.9Z"/>
<path fill="#1ea7e1" d="M316.4,391L318.8,378.9 331.8,376.7 329.4,387.2Z"/>
<path fill="#16aeda" d="M318.8,378.9L321.4,367.2 334.3,376.5 331.8,376.7Z"/>
<path fill="#15afd9" d="M321.4,367.2L324.1,368.8 337.1,366.5 334.3,376.5Z"/>
<path fill="#06b5ce" d="M324.1,368.8L327,350.3 340,346.6 337.1,366.5Z"/>
<path fill="#16bfb7" d="M327,350.3L330.1,335.9 343.1,334.6 340,346.6Z"/>
<path fill="#2cc4a7" d="M330.1,335.9L333.4,333.7 346.4,342.6 343.1,334.6Z"/>
<path fill="#22c1b0" d="M333.4,333.7L337,315.7 350,336.2 346.4,342.6Z"/>
<path fill="#2cc4a7" d="M337,315.7L340.8,303.4 353.8,308.8 350,336.2Z"/>
<path fill="#56cc7b" d="M340.8,303.4L344.8,296.4 357.8,292.1 353.8,308.8Z"/>
<path fill="#80cc59" d="M344.8,296.4L349.2,287.1 362.2,266.3 357.8,292.1Z"/>
<path fill="#c0c32d" d="M349.2,287.1L353.8,254.4 366.8,269.2 362.2,266.3Z"/>
<path fill="#bcc42f" d="M353.8,254.4L358.8,247.2 371.8,245.8 366.8,269.2Z"/>
<path fill="#ebba31" d="M358.8,247.2L364.1,280.9 377.1,280.8 371.8,245.8Z"/>
<path fill="#a9c73b" d="M364.1,280.9L369.8,259.9 382.7,272.7 377.1,280.8Z"/>
<path fill="#bfc32e" d="M369.8,259.9L375.8,265.1 388.8,249.2 382.7,272.7Z"/>
<path fill="#edba34" d="M375.8,265.1L382.3,262.8 395.3,267.5 388.8,249.2Z"/>
<path fill="#d1bf27" d="M382.3,262.8L389.2,304.1 402.2,250.9 395.3,267.5Z"/>
<path fill="#f1ba37" d="M389.2,304.1L396.6,343.6 409.6,304.1 402.2,250.9Z"/>
<path fill="#87cb54" d="M396.6,343.6L404.5,314.3 417.5,311.2 409.6,304.1Z"/>
<path fill="#7bcc5d" d="M404.5,314.3L413,297.1 425.9,332.8 417.5,311.2Z"/>
<path fill="#4fcc81" d="M413,297.1L422,309.9 435,310.3 425.9,332.8Z"/>
<path fill="#8acb52" d="M422,309.9L431.7,343.4 444.6,330.6 435,310.3Z"/>
<path fill="#5fcd73" d="M431.7,343.4L442,345.3 455,337.3 444.6,330.6Z"/>
<path fill="#57cc7a" d="M442,345.3L453,332.8 466,354.2 455,337.3Z"/>
<path fill="#3dc991" d="M453,332.8L464.8,334.8 477.8,330.1 466,354.2Z"/>
<path fill="#77cc60" d="M464.8,334.8L477.5,345.4 490.4,345.2 477.8,330.1Z"/>
<path fill="#5ccc76" d="M477.5,345.4L490.9,357.1 503.9,362.2 490.4,345.2Z"/>
<path fill="#41ca8c" d="M490.9,357.1L505.4,379.9 518.3,386 503.9,362.2Z"/>
<path fill="#2bc3a8" d="M505.4,379.9L520.8,389.6 533.7,393.4 518.3,386Z"/>
<path fill="#27c2ac" d="M520.8,389.6L537.2,414.1 550.2,411.2 533.7,393.4Z"/>
<path fill="#0dbdbc" d="M537.2,414.1L554.8,412.6 567.8,415.3 550.2,411.2Z"/>
<path fill="#0fbeba" d="M554.8,412.6L573.6,429.9 586.6,437.9 567.8,415.3Z"/>
<path fill="#05b6ce" d="M573.6,429.9L593.8,441.3 606.7,447.6 586.6,437.9Z"/>
<path fill="#0bb4d2" d="M593.8,441.3L615.3,455 628.2,463.7 606.7,447.6Z"/>
<path fill="#18addb" d="M615.3,455L638.2,481.4 651.2,477.9 628.2,463.7Z"/>
<path fill="#1da8e0" d="M638.2,481.4L662.8,495.8 675.8,493.8 651.2,477.9Z"/>
<path fill="#22a1e4" d="M662.8,495.8L689.1,505.1 702,506.5 675.8,493.8Z"/>
<path fill="#259de7" d="M689.1,505.1L717.1,513 730.1,505.7 702,506.5Z"/>
<path fill="#20a4e3" d="M717.1,513L747.1,520.9 760.1,514 730.1,505.7Z"/>
<path fill="#20a4e3" d="M747.1,520.9L779.2,529.8 792.2,532.7 760.1,514Z"/>
<path fill="#259de7" d="M779.2,529.8L813.5,548.8 826.5,546.2 792.2,532.7Z"/>
<path fill="#269ae9" d="M813.5,548.8L850.2,605.1 863.1,603.8 826.5,546.2Z"/>
<path fill="#3f6dfe" d="M850.2,605.1L889.3,699.3 902.3,695.6 863.1,603.8Z"/>
<path fill="#3e26a8" d="M889.3,699.3L940.3,714 953.3,710.3 902.3,695.6Z"/>
<path fill="#3e26a8" d="M280,531.4L280.8,522.4 293.8,516.8 293,527.7Z"/>
<path fill="#422ebe" d="M280.8,522.4L281.6,512.2 294.6,512.4 293.8,516.8Z"/>
<path fill="#4331c7" d="M281.6,512.2L282.5,506.9 295.5,503.4 294.6,512.4Z"/>
<path fill="#4538d7" d="M282.5,506.9L283.4,498.9 296.4,494 295.5,503.4Z"/>
<path fill="#4741e4" d="M283.4,498.9L284.4,489.6 297.4,485.9 296.4,494Z"/>
<path fill="#4849ed" d="M284.4,489.6L285.5,482.4 298.5,480 297.4,485.9Z"/>
<path fill="#484ff2" d="M285.5,482.4L286.7,473.8 299.6,470.8 298.5,480Z"/>
<path fill="#4758f8" d="M286.7,473.8L287.9,468.4 300.8,464.8 299.6,470.8Z"/>
<path fill="#465efb" d="M287.9,468.4L289.2,458.7 302.2,457.7 300.8,464.8Z"/>
<path fill="#4465fd" d="M289.2,458.7L290.6,448.5 303.6,447.1 302.2,457.7Z"/>
<path fill="#3d71ff" d="M290.6,448.5L292.1,442.7 305,438.7 303.6,447.1Z"/>
<path fill="#347afd" d="M292.1,442.7L293.7,433.4 306.6,432.7 305,438.7Z"/>
<path fill="#2f80fa" d="M293.7,433.4L295.4,424 308.4,427.4 306.6,432.7Z"/>
<path fill="#2e86f7" d="M295.4,424L297.2,423.7 310.2,418.9 308.4,427.4Z"/>
<path fill="#2c8ef1" d="M297.2,423.7L299.2,410 312.1,400.1 310.2,418.9Z"/>
<path fill="#249ee6" d="M299.2,410L301.2,390.2 314.2,394.4 312.1,400.1Z"/>
<path fill="#21a3e3" d="M301.2,390.2L303.5,389.6 316.4,391 314.2,394.4Z"/>
<path fill="#1ea6e1" d="M303.5,389.6L305.9,386.9 318.8,378.9 316.4,391Z"/>
<path fill="#15afd8" d="M305.9,386.9L308.4,368.2 321.4,367.2 318.8,378.9Z"/>
<path fill="#03b7cc" d="M308.4,368.2L311.1,358.4 324.1,368.8 321.4,367.2Z"/>
<path fill="#04b6cd" d="M311.1,358.4L314,353.3 327,350.3 324.1,368.8Z"/>
<path fill="#16bfb7" d="M314,353.3L317.1,342 330.1,335.9 327,350.3Z"/>
<path fill="#2ec5a4" d="M317.1,342L320.5,333.6 333.4,333.7 330.1,335.9Z"/>
<path fill="#31c6a0" d="M320.5,333.6L324,330.3 337,315.7 333.4,333.7Z"/>
<path fill="#4ccb82" d="M324,330.3L327.8,306.1 340.8,303.4 337,315.7Z"/>
<path fill="#6acd6a" d="M327.8,306.1L331.9,305.9 344.8,296.4 340.8,303.4Z"/>
<path fill="#7fcc5a" d="M331.9,305.9L336.2,272.1 349.2,287.1 344.8,296.4Z"/>
<path fill="#98c946" d="M336.2,272.1L340.9,246.9 353.8,254.4 349.2,287.1Z"/>
<path fill="#e1bc2b" d="M340.9,246.9L345.8,244.6 358.8,247.2 353.8,254.4Z"/>
<path fill="#efba35" d="M345.8,244.6L351.1,275.7 364.1,280.9 358.8,247.2Z"/>
<path fill="#b1c635" d="M351.1,275.7L356.8,263.3 369.8,259.9 364.1,280.9Z"/>
<path fill="#dfbc2a" d="M356.8,263.3L362.9,259.4 375.8,265.1 369.8,259.9Z"/>
<path fill="#d9be28" d="M362.9,259.4L369.3,251.3 382.3,262.8 375.8,265.1Z"/>
<path fill="#e0bc2b" d="M369.3,251.3L376.3,305.2 389.2,304.1 382.3,262.8Z"/>
<path fill="#8bcb51" d="M376.3,305.2L383.6,311.7 396.6,343.6 389.2,304.1Z"/>
<path fill="#3ac994" d="M383.6,311.7L391.6,330.2 404.5,314.3 396.6,343.6Z"/>
<path fill="#7dcc5c" d="M391.6,330.2L400,306.7 413,297.1 404.5,314.3Z"/>
<path fill="#acc738" d="M400,306.7L409.1,318.9 422,309.9 413,297.1Z"/>
<path fill="#94ca4a" d="M409.1,318.9L418.7,324.1 431.7,343.4 422,309.9Z"/>
<path fill="#4ccb83" d="M418.7,324.1L429,329.3 442,345.3 431.7,343.4Z"/>
<path fill="#4ecc81" d="M429,329.3L440.1,327.9 453,332.8 442,345.3Z"/>
<path fill="#71cd64" d="M440.1,327.9L451.9,353.6 464.8,334.8 453,332.8Z"/>
<path fill="#75cc62" d="M451.9,353.6L464.5,355.8 477.5,345.4 464.8,334.8Z"/>
<path fill="#64cd6f" d="M464.5,355.8L478,386.2 490.9,357.1 477.5,345.4Z"/>
<path fill="#53cc7d" d="M478,386.2L492.4,402.5 505.4,379.9 490.9,357.1Z"/>
<path fill="#34c79b" d="M492.4,402.5L507.8,401.6 520.8,389.6 505.4,379.9Z"/>
<path fill="#2fc5a2" d="M507.8,401.6L524.3,414 537.2,414.1 520.8,389.6Z"/>
<path fill="#0fbebb" d="M524.3,414L541.9,413.4 554.8,412.6 537.2,414.1Z"/>
<path fill="#1dc0b3" d="M541.9,413.4L560.7,432.8 573.6,429.9 554.8,412.6Z"/>
<path fill="#05bbc1" d="M560.7,432.8L580.8,441.6 593.8,441.3 573.6,429.9Z"/>
<path fill="#01b9c7" d="M580.8,441.6L602.3,458.9 615.3,455 593.8,441.3Z"/>
<path fill="#07b5cf" d="M602.3,458.9L625.3,481 638.2,481.4 615.3,455Z"/>
<path fill="#1da8e0" d="M625.3,481L649.8,497.9 662.8,495.8 638.2,481.4Z"/>
<path fill="#21a2e4" d="M649.8,497.9L676.1,512.8 689.1,505.1 662.8,495.8Z"/>
<path fill="#22a1e4" d="M676.1,512.8L704.2,514.9 717.1,513 689.1,505.1Z"/>
<path fill="#22a1e4" d="M704.2,514.9L734.2,528.4 747.1,520.9 717.1,513Z"/>
<path fill="#22a2e4" d="M734.2,528.4L766.3,541 779.2,529.8 747.1,520.9Z"/>
<path fill="#22a2e4" d="M766.3,541L800.5,554.6 813.5,548.8 779.2,529.8Z"/>
<path fill="#259be8" d="M800.5,554.6L837.2,606.4 850.2,605.1 813.5,548.8Z"/>
<path fill="#3e70ff" d="M837.2,606.4L876.4,703 889.3,699.3 850.2,605.1Z"/>
<path fill="#3e26a8" d="M876.4,703L927.3,717.7 940.3,714 889.3,699.3Z"/>
<path fill="#3e26a8" d="M267.1,535.1L267.8,524.1 280.8,522.4 280,531.4Z"/>
<path fill="#412dbb" d="M267.8,524.1L268.7,516.3 281.6,512.2 280.8,522.4Z"/>
<path fill="#4434ce" d="M268.7,516.3L269.5,509.8 282.5,506.9 281.6,512.2Z"/>
<path fill="#4538d8" d="M269.5,509.8L270.5,503 283.4,498.9 282.5,506.9Z"/>
<path fill="#4740e3" d="M270.5,503L271.5,492.3 284.4,489.6 283.4,498.9Z"/>
<path fill="#4849ed" d="M271.5,492.3L272.5,483.6 285.5,482.4 284.4,489.6Z"/>
<path fill="#4850f3" d="M272.5,483.6L273.7,476.6 286.7,473.8 285.5,482.4Z"/>
<path fill="#4759f8" d="M273.7,476.6L274.9,470.8 287.9,468.4 286.7,473.8Z"/>
<path fill="#465efb" d="M274.9,470.8L276.2,463.9 289.2,458.7 287.9,468.4Z"/>
<path fill="#4368fe" d="M276.2,463.9L277.6,452.3 290.6,448.5 289.2,458.7Z"/>
<path fill="#3b73fe" d="M277.6,452.3L279.1,446.1 292.1,442.7 290.6,448.5Z"/>
<path fill="#347afd" d="M279.1,446.1L280.7,435.3 293.7,433.4 292.1,442.7Z"/>
<path fill="#2e83f9" d="M280.7,435.3L282.4,431.4 295.4,424 293.7,433.4Z"/>
<path fill="#2d8cf3" d="M282.4,431.4L284.2,420.8 297.2,423.7 295.4,424Z"/>
<path fill="#2d8df2" d="M284.2,420.8L286.2,412.2 299.2,410 297.2,423.7Z"/>
<path fill="#2699e9" d="M286.2,412.2L288.3,393.4 301.2,390.2 299.2,410Z"/>
<path fill="#1ca9df" d="M288.3,393.4L290.5,397.3 303.5,389.6 301.2,390.2Z"/>
<path fill="#1baade" d="M290.5,397.3L292.9,381.9 305.9,386.9 303.5,389.6Z"/>
<path fill="#19addc" d="M292.9,381.9L295.4,368.9 308.4,368.2 305.9,386.9Z"/>
<path fill="#01b8c9" d="M295.4,368.9L298.2,363.2 311.1,358.4 308.4,368.2Z"/>
<path fill="#0abdbd" d="M298.2,363.2L301.1,355.6 314,353.3 311.1,358.4Z"/>
<path fill="#18bfb6" d="M301.1,355.6L304.2,341 317.1,342 314,353.3Z"/>
<path fill="#2cc4a7" d="M304.2,341L307.5,316.9 320.5,333.6 317.1,342Z"/>
<path fill="#35c79a" d="M307.5,316.9L311.1,319.1 324,330.3 320.5,333.6Z"/>
<path fill="#3ac994" d="M311.1,319.1L314.9,298.1 327.8,306.1 324,330.3Z"/>
<path fill="#6dcd68" d="M314.9,298.1L318.9,290.7 331.9,305.9 327.8,306.1Z"/>
<path fill="#70cd65" d="M318.9,290.7L323.3,274.1 336.2,272.1 331.9,305.9Z"/>
<path fill="#c3c22b" d="M323.3,274.1L327.9,273.9 340.9,246.9 336.2,272.1Z"/>
<path fill="#f2ba38" d="M327.9,273.9L332.9,241 345.8,244.6 340.9,246.9Z"/>
<path fill="#f8ba3d" d="M332.9,241L338.2,249 351.1,275.7 345.8,244.6Z"/>
<path fill="#c5c22a" d="M338.2,249L343.8,247.8 356.8,263.3 351.1,275.7Z"/>
<path fill="#e0bc2a" d="M343.8,247.8L349.9,245.8 362.9,259.4 356.8,263.3Z"/>
<path fill="#e9bb30" d="M349.9,245.8L356.4,291.3 369.3,251.3 362.9,259.4Z"/>
<path fill="#f8ba3d" d="M356.4,291.3L363.3,287.1 376.3,305.2 369.3,251.3Z"/>
<path fill="#91ca4c" d="M363.3,287.1L370.7,337.9 383.6,311.7 376.3,305.2Z"/>
<path fill="#87cb54" d="M370.7,337.9L378.6,326.4 391.6,330.2 383.6,311.7Z"/>
<path fill="#5fcd73" d="M378.6,326.4L387,324.5 400,306.7 391.6,330.2Z"/>
<path fill="#9ec942" d="M387,324.5L396.1,321.8 409.1,318.9 400,306.7Z"/>
<path fill="#87cb54" d="M396.1,321.8L405.7,349.6 418.7,324.1 409.1,318.9Z"/>
<path fill="#81cc59" d="M405.7,349.6L416.1,347.7 429,329.3 418.7,324.1Z"/>
<path fill="#7bcc5d" d="M416.1,347.7L427.1,332.6 440.1,327.9 429,329.3Z"/>
<path fill="#87cb54" d="M427.1,332.6L438.9,355.8 451.9,353.6 440.1,327.9Z"/>
<path fill="#52cc7e" d="M438.9,355.8L451.5,377.6 464.5,355.8 451.9,353.6Z"/>
<path fill="#55cc7b" d="M451.5,377.6L465,399.2 478,386.2 464.5,355.8Z"/>
<path fill="#2ec4a4" d="M465,399.2L479.4,402.7 492.4,402.5 478,386.2Z"/>
<path fill="#1cc0b3" d="M479.4,402.7L494.8,407.1 507.8,401.6 492.4,402.5Z"/>
<path fill="#26c2ad" d="M494.8,407.1L511.3,420 524.3,414 507.8,401.6Z"/>
<path fill="#17bfb6" d="M511.3,420L528.9,423.1 541.9,413.4 524.3,414Z"/>
<path fill="#22c1af" d="M528.9,423.1L547.7,442.7 560.7,432.8 541.9,413.4Z"/>
<path fill="#06bcc0" d="M547.7,442.7L567.8,459.8 580.8,441.6 560.7,432.8Z"/>
<path fill="#02bac3" d="M567.8,459.8L589.3,474.4 602.3,458.9 580.8,441.6Z"/>
<path fill="#07b5d0" d="M589.3,474.4L612.3,489.7 625.3,481 602.3,458.9Z"/>
<path fill="#1babde" d="M612.3,489.7L636.9,501.1 649.8,497.9 625.3,481Z"/>
<path fill="#21a4e3" d="M636.9,501.1L663.1,509.7 676.1,512.8 649.8,497.9Z"/>
<path fill="#249ee6" d="M663.1,509.7L691.2,525 704.2,514.9 676.1,512.8Z"/>
<path fill="#21a3e4" d="M691.2,525L721.2,532.9 734.2,528.4 704.2,514.9Z"/>
<path fill="#249fe6" d="M721.2,532.9L753.3,543.9 766.3,541 734.2,528.4Z"/>
<path fill="#259ce7" d="M753.3,543.9L787.6,565.6 800.5,554.6 766.3,541Z"/>
<path fill="#2699e9" d="M787.6,565.6L824.2,609.1 837.2,606.4 800.5,554.6Z"/>
<path fill="#3b72ff" d="M824.2,609.1L863.4,706.7 876.4,703 837.2,606.4Z"/>
<path fill="#3e26a8" d="M863.4,706.7L914.4,721.4 927.3,717.7 876.4,703Z"/>
<path fill="#3e26a8" d="M254.1,538.8L254.9,528.9 267.8,524.1 267.1,535.1Z"/>
<path fill="#422ebf" d="M254.9,528.9L255.7,517.7 268.7,516.3 267.8,524.1Z"/>
<path fill="#4434ce" d="M255.7,517.7L256.6,512.9 269.5,509.8 268.7,516.3Z"/>
<path fill="#4539d9" d="M256.6,512.9L257.5,506.2 270.5,503 269.5,509.8Z"/>
<path fill="#473fe3" d="M257.5,506.2L258.5,497.5 271.5,492.3 270.5,503Z"/>
<path fill="#484aee" d="M258.5,497.5L259.6,487.1 272.5,483.6 271.5,492.3Z"/>
<path fill="#4852f4" d="M259.6,487.1L260.7,479.6 273.7,476.6 272.5,483.6Z"/>
<path fill="#4759f9" d="M260.7,479.6L262,470.9 274.9,470.8 273.7,476.6Z"/>
<path fill="#465ffb" d="M262,470.9L263.3,461.6 276.2,463.9 274.9,470.8Z"/>
<path fill="#4367fd" d="M263.3,461.6L264.7,457.9 277.6,452.3 276.2,463.9Z"/>
<path fill="#3b73fe" d="M264.7,457.9L266.1,444.1 279.1,446.1 277.6,452.3Z"/>
<path fill="#347afd" d="M266.1,444.1L267.7,435.7 280.7,435.3 279.1,446.1Z"/>
<path fill="#2e85f8" d="M267.7,435.7L269.5,432.6 282.4,431.4 280.7,435.3Z"/>
<path fill="#2d89f5" d="M269.5,432.6L271.3,426.6 284.2,420.8 282.4,431.4Z"/>
<path fill="#2a93ee" d="M271.3,426.6L273.2,416.7 286.2,412.2 284.2,420.8Z"/>
<path fill="#269ae8" d="M273.2,416.7L275.3,408.3 288.3,393.4 286.2,412.2Z"/>
<path fill="#1caadf" d="M275.3,408.3L277.5,393.9 290.5,397.3 288.3,393.4Z"/>
<path fill="#1ea7e1" d="M277.5,393.9L279.9,377 292.9,381.9 290.5,397.3Z"/>
<path fill="#0fb2d4" d="M279.9,377L282.5,377.4 295.4,368.9 292.9,381.9Z"/>
<path fill="#01b9c6" d="M282.5,377.4L285.2,382.6 298.2,363.2 295.4,368.9Z"/>
<path fill="#09bcbe" d="M285.2,382.6L288.1,358.5 301.1,355.6 298.2,363.2Z"/>
<path fill="#1bc0b4" d="M288.1,358.5L291.2,327.4 304.2,341 301.1,355.6Z"/>
<path fill="#30c5a1" d="M291.2,327.4L294.5,337.3 307.5,316.9 304.2,341Z"/>
<path fill="#58cc79" d="M294.5,337.3L298.1,314.4 311.1,319.1 307.5,316.9Z"/>
<path fill="#55cc7b" d="M298.1,314.4L301.9,315.1 314.9,298.1 311.1,319.1Z"/>
<path fill="#8acb52" d="M301.9,315.1L306,299.4 318.9,290.7 314.9,298.1Z"/>
<path fill="#9fc942" d="M306,299.4L310.3,268.7 323.3,274.1 318.9,290.7Z"/>
<path fill="#c7c12a" d="M310.3,268.7L314.9,241.9 327.9,273.9 323.3,274.1Z"/>
<path fill="#cac129" d="M314.9,241.9L319.9,240.7 332.9,241 327.9,273.9Z"/>
<path fill="#febf3c" d="M319.9,240.7L325.2,259.8 338.2,249 332.9,241Z"/>
<path fill="#f9ba3d" d="M325.2,259.8L330.9,258.8 343.8,247.8 338.2,249Z"/>
<path fill="#fcbc3d" d="M330.9,258.8L336.9,298.7 349.9,245.8 343.8,247.8Z"/>
<path fill="#febf3b" d="M336.9,298.7L343.4,291.7 356.4,291.3 349.9,245.8Z"/>
<path fill="#b6c532" d="M343.4,291.7L350.3,289.9 363.3,287.1 356.4,291.3Z"/>
<path fill="#c4c22b" d="M350.3,289.9L357.7,317 370.7,337.9 363.3,287.1Z"/>
<path fill="#52cc7e" d="M357.7,317L365.6,310.1 378.6,326.4 370.7,337.9Z"/>
<path fill="#71cd64" d="M365.6,310.1L374.1,330.6 387,324.5 378.6,326.4Z"/>
<path fill="#7ccc5c" d="M374.1,330.6L383.1,329.9 396.1,321.8 387,324.5Z"/>
<path fill="#89cb52" d="M383.1,329.9L392.8,355.2 405.7,349.6 396.1,321.8Z"/>
<path fill="#4ecc81" d="M392.8,355.2L403.1,348.6 416.1,347.7 405.7,349.6Z"/>
<path fill="#59cc79" d="M403.1,348.6L414.1,354.4 427.1,332.6 416.1,347.7Z"/>
<path fill="#84cb56" d="M414.1,354.4L425.9,362.9 438.9,355.8 427.1,332.6Z"/>
<path fill="#55cc7b" d="M425.9,362.9L438.6,390.7 451.5,377.6 438.9,355.8Z"/>
<path fill="#36c899" d="M438.6,390.7L452,406.7 465,399.2 451.5,377.6Z"/>
<path fill="#21c1b0" d="M452,406.7L466.5,415.9 479.4,402.7 465,399.2Z"/>
<path fill="#23c1af" d="M466.5,415.9L481.9,411.1 494.8,407.1 479.4,402.7Z"/>
<path fill="#23c1af" d="M481.9,411.1L498.3,422.7 511.3,420 494.8,407.1Z"/>
<path fill="#12beb9" d="M498.3,422.7L515.9,430.1 528.9,423.1 511.3,420Z"/>
<path fill="#17bfb7" d="M515.9,430.1L534.7,443.4 547.7,442.7 528.9,423.1Z"/>
<path fill="#01b9c7" d="M534.7,443.4L554.9,457.2 567.8,459.8 547.7,442.7Z"/>
<path fill="#0cb3d3" d="M554.9,457.2L576.4,471.8 589.3,474.4 567.8,459.8Z"/>
<path fill="#18aedb" d="M576.4,471.8L599.3,485.2 612.3,489.7 589.3,474.4Z"/>
<path fill="#1ea7e1" d="M599.3,485.2L623.9,506.1 636.9,501.1 612.3,489.7Z"/>
<path fill="#20a4e3" d="M623.9,506.1L650.2,520.3 663.1,509.7 636.9,501.1Z"/>
<path fill="#21a3e3" d="M650.2,520.3L678.2,532.2 691.2,525 663.1,509.7Z"/>
<path fill="#249de6" d="M678.2,532.2L708.2,534.3 721.2,532.9 691.2,525Z"/>
<path fill="#249ee6" d="M708.2,534.3L740.3,550.5 753.3,543.9 721.2,532.9Z"/>
<path fill="#259de7" d="M740.3,550.5L774.6,567.8 787.6,565.6 753.3,543.9Z"/>
<path fill="#2a93ee" d="M774.6,567.8L811.3,612.3 824.2,609.1 787.6,565.6Z"/>
<path fill="#3a73fe" d="M811.3,612.3L850.4,710.4 863.4,706.7 824.2,609.1Z"/>
<path fill="#3e26a8" d="M850.4,710.4L901.4,725.1 914.4,721.4 863.4,706.7Z"/>
<path fill="#3e26a8" d="M241.1,542.5L241.9,534.1 254.9,528.9 254.1,538.8Z"/>
<path fill="#412dbc" d="M241.9,534.1L242.7,522.8 255.7,517.7 254.9,528.9Z"/>
<path fill="#4435d2" d="M242.7,522.8L243.6,515.9 256.6,512.9 255.7,517.7Z"/>
<path fill="#4639da" d="M243.6,515.9L244.5,508.5 257.5,506.2 256.6,512.9Z"/>
<path fill="#4740e3" d="M244.5,508.5L245.5,499.2 258.5,497.5 257.5,506.2Z"/>
<path fill="#4848ec" d="M245.5,499.2L246.6,490.2 259.6,487.1 258.5,497.5Z"/>
<path fill="#4853f4" d="M246.6,490.2L247.8,482.9 260.7,479.6 259.6,487.1Z"/>
<path fill="#475af9" d="M247.8,482.9L249,472.2 262,470.9 260.7,479.6Z"/>
<path fill="#4563fc" d="M249,472.2L250.3,463.4 263.3,461.6 262,470.9Z"/>
<path fill="#406dfe" d="M250.3,463.4L251.7,453.4 264.7,457.9 263.3,461.6Z"/>
<path fill="#3d71ff" d="M251.7,453.4L253.2,447.6 266.1,444.1 264.7,457.9Z"/>
<path fill="#3080fb" d="M253.2,447.6L254.8,439.1 267.7,435.7 266.1,444.1Z"/>
<path fill="#2d88f6" d="M254.8,439.1L256.5,431.7 269.5,432.6 267.7,435.7Z"/>
<path fill="#2d8bf4" d="M256.5,431.7L258.3,422.4 271.3,426.6 269.5,432.6Z"/>
<path fill="#2b91ef" d="M258.3,422.4L260.3,404 273.2,416.7 271.3,426.6Z"/>
<path fill="#269ae9" d="M260.3,404L262.3,407.9 275.3,408.3 273.2,416.7Z"/>
<path fill="#22a1e4" d="M262.3,407.9L264.6,392.6 277.5,393.9 275.3,408.3Z"/>
<path fill="#19acdc" d="M264.6,392.6L267,394.4 279.9,377 277.5,393.9Z"/>
<path fill="#03b7cb" d="M267,394.4L269.5,373.9 282.5,377.4 279.9,377Z"/>
<path fill="#02b7cb" d="M269.5,373.9L272.2,363 285.2,382.6 282.5,377.4Z"/>
<path fill="#07b5d0" d="M272.2,363L275.1,355.7 288.1,358.5 285.2,382.6Z"/>
<path fill="#1cc0b3" d="M275.1,355.7L278.2,324.7 291.2,327.4 288.1,358.5Z"/>
<path fill="#47cb87" d="M278.2,324.7L281.6,319.9 294.5,337.3 291.2,327.4Z"/>
<path fill="#39c895" d="M281.6,319.9L285.1,296 298.1,314.4 294.5,337.3Z"/>
<path fill="#68cd6c" d="M285.1,296L288.9,295.1 301.9,315.1 298.1,314.4Z"/>
<path fill="#69cd6b" d="M288.9,295.1L293,283.1 306,299.4 301.9,315.1Z"/>
<path fill="#93ca4b" d="M293,283.1L297.3,267.4 310.3,268.7 306,299.4Z"/>
<path fill="#d8be28" d="M297.3,267.4L302,243.1 314.9,241.9 310.3,268.7Z"/>
<path fill="#fec03b" d="M302,243.1L306.9,242.5 319.9,240.7 314.9,241.9Z"/>
<path fill="#fec339" d="M306.9,242.5L312.2,247.2 325.2,259.8 319.9,240.7Z"/>
<path fill="#efba35" d="M312.2,247.2L317.9,247.1 330.9,258.8 325.2,259.8Z"/>
<path fill="#f2ba38" d="M317.9,247.1L324,310.8 336.9,298.7 330.9,258.8Z"/>
<path fill="#aac73a" d="M324,310.8L330.4,289.2 343.4,291.7 336.9,298.7Z"/>
<path fill="#bdc32e" d="M330.4,289.2L337.4,326.3 350.3,289.9 343.4,291.7Z"/>
<path fill="#c6c22a" d="M337.4,326.3L344.8,333 357.7,317 350.3,289.9Z"/>
<path fill="#8ccb50" d="M344.8,333L352.7,329.8 365.6,310.1 357.7,317Z"/>
<path fill="#a2c83f" d="M352.7,329.8L361.1,353.3 374.1,330.6 365.6,310.1Z"/>
<path fill="#76cc61" d="M361.1,353.3L370.2,320.5 383.1,329.9 374.1,330.6Z"/>
<path fill="#7ecc5b" d="M370.2,320.5L379.8,362.4 392.8,355.2 383.1,329.9Z"/>
<path fill="#4acb84" d="M379.8,362.4L390.1,363 403.1,348.6 392.8,355.2Z"/>
<path fill="#5fcd73" d="M390.1,363L401.2,378.4 414.1,354.4 403.1,348.6Z"/>
<path fill="#59cc78" d="M401.2,378.4L413,379.1 425.9,362.9 414.1,354.4Z"/>
<path fill="#4ecc81" d="M413,379.1L425.6,384.5 438.6,390.7 425.9,362.9Z"/>
<path fill="#2dc4a6" d="M425.6,384.5L439.1,390.1 452,406.7 438.6,390.7Z"/>
<path fill="#1ac0b5" d="M439.1,390.1L453.5,396.7 466.5,415.9 452,406.7Z"/>
<path fill="#0fbebb" d="M453.5,396.7L468.9,413.7 481.9,411.1 466.5,415.9Z"/>
<path fill="#22c1af" d="M468.9,413.7L485.4,416.1 498.3,422.7 481.9,411.1Z"/>
<path fill="#14bfb8" d="M485.4,416.1L503,431.8 515.9,430.1 498.3,422.7Z"/>
<path fill="#0fbeba" d="M503,431.8L521.8,450 534.7,443.4 515.9,430.1Z"/>
<path fill="#02bac4" d="M521.8,450L541.9,463.2 554.9,457.2 534.7,443.4Z"/>
<path fill="#04b6cd" d="M541.9,463.2L563.4,475.3 576.4,471.8 554.9,457.2Z"/>
<path fill="#10b2d5" d="M563.4,475.3L586.4,485.1 599.3,485.2 576.4,471.8Z"/>
<path fill="#18addb" d="M586.4,485.1L610.9,506.1 623.9,506.1 599.3,485.2Z"/>
<path fill="#21a3e3" d="M610.9,506.1L637.2,523.6 650.2,520.3 623.9,506.1Z"/>
<path fill="#249ee6" d="M637.2,523.6L665.3,542.4 678.2,532.2 650.2,520.3Z"/>
<path fill="#259be8" d="M665.3,542.4L695.3,546.8 708.2,534.3 678.2,532.2Z"/>
<path fill="#23a0e5" d="M695.3,546.8L727.4,558.1 740.3,550.5 708.2,534.3Z"/>
<path fill="#269ae8" d="M727.4,558.1L761.6,565.9 774.6,567.8 740.3,550.5Z"/>
<path fill="#2994ed" d="M761.6,565.9L798.3,605.2 811.3,612.3 774.6,567.8Z"/>
<path fill="#3a74fe" d="M798.3,605.2L837.5,714.1 850.4,710.4 811.3,612.3Z"/>
<path fill="#3e26a8" d="M837.5,714.1L888.4,728.8 901.4,725.1 850.4,710.4Z"/>
<path fill="#3e26a8" d="M228.2,546.2L228.9,535.7 241.9,534.1 241.1,542.5Z"/>
<path fill="#412cba" d="M228.9,535.7L229.8,528.3 242.7,522.8 241.9,534.1Z"/>
<path fill="#4434cf" d="M229.8,528.3L230.6,519.3 243.6,515.9 242.7,522.8Z"/>
<path fill="#463adb" d="M230.6,519.3L231.6,510.3 244.5,508.5 243.6,515.9Z"/>
<path fill="#4741e5" d="M231.6,510.3L232.6,500.6 245.5,499.2 244.5,508.5Z"/>
<path fill="#484aee" d="M232.6,500.6L233.7,494.1 246.6,490.2 245.5,499.2Z"/>
<path fill="#4853f5" d="M233.7,494.1L234.8,482.1 247.8,482.9 246.6,490.2Z"/>
<path fill="#475af9" d="M234.8,482.1L236,471.8 249,472.2 247.8,482.9Z"/>
<path fill="#4465fd" d="M236,471.8L237.3,461.1 250.3,463.4 249,472.2Z"/>
<path fill="#3f6eff" d="M237.3,461.1L238.7,457 251.7,453.4 250.3,463.4Z"/>
<path fill="#3479fd" d="M238.7,457L240.2,450 253.2,447.6 251.7,453.4Z"/>
<path fill="#3080fb" d="M240.2,450L241.8,442.4 254.8,439.1 253.2,447.6Z"/>
<path fill="#2d88f6" d="M241.8,442.4L243.5,437.5 256.5,431.7 254.8,439.1Z"/>
<path fill="#2c8ff0" d="M243.5,437.5L245.3,424 258.3,422.4 256.5,431.7Z"/>
<path fill="#2798ea" d="M245.3,424L247.3,411.4 260.3,404 258.3,422.4Z"/>
<path fill="#1ea7e1" d="M247.3,411.4L249.4,405.4 262.3,407.9 260.3,404Z"/>
<path fill="#20a4e3" d="M249.4,405.4L251.6,392.3 264.6,392.6 262.3,407.9Z"/>
<path fill="#14b0d8" d="M251.6,392.3L254,388.2 267,394.4 264.6,392.6Z"/>
<path fill="#15afd9" d="M254,388.2L256.5,377.6 269.5,373.9 267,394.4Z"/>
<path fill="#02bbc3" d="M256.5,377.6L259.3,352.1 272.2,363 269.5,373.9Z"/>
<path fill="#19bfb5" d="M259.3,352.1L262.2,334.9 275.1,355.7 272.2,363Z"/>
<path fill="#27c2ab" d="M262.2,334.9L265.3,326.2 278.2,324.7 275.1,355.7Z"/>
<path fill="#55cc7c" d="M265.3,326.2L268.6,326.3 281.6,319.9 278.2,324.7Z"/>
<path fill="#61cd71" d="M268.6,326.3L272.2,307 285.1,296 281.6,319.9Z"/>
<path fill="#9ec942" d="M272.2,307L276,296.1 288.9,295.1 285.1,296Z"/>
<path fill="#a3c83f" d="M276,296.1L280,275.1 293,283.1 288.9,295.1Z"/>
<path fill="#c1c32c" d="M280,275.1L284.4,272.1 297.3,267.4 293,283.1Z"/>
<path fill="#e1bc2b" d="M284.4,272.1L289,263.6 302,243.1 297.3,267.4Z"/>
<path fill="#fec339" d="M289,263.6L294,242.6 306.9,242.5 302,243.1Z"/>
<path fill="#fec537" d="M294,242.6L299.3,272.5 312.2,247.2 306.9,242.5Z"/>
<path fill="#fec139" d="M299.3,272.5L304.9,326.1 317.9,247.1 312.2,247.2Z"/>
<path fill="#fec338" d="M304.9,326.1L311,320.6 324,310.8 317.9,247.1Z"/>
<path fill="#95ca49" d="M311,320.6L317.5,355.7 330.4,289.2 324,310.8Z"/>
<path fill="#cac129" d="M317.5,355.7L324.4,317.4 337.4,326.3 330.4,289.2Z"/>
<path fill="#78cc5f" d="M324.4,317.4L331.8,361.8 344.8,333 337.4,326.3Z"/>
<path fill="#6dcd67" d="M331.8,361.8L339.7,366.4 352.7,329.8 344.8,333Z"/>
<path fill="#7bcc5d" d="M339.7,366.4L348.2,365.8 361.1,353.3 352.7,329.8Z"/>
<path fill="#4acb84" d="M348.2,365.8L357.2,351 370.2,320.5 361.1,353.3Z"/>
<path fill="#9ec942" d="M357.2,351L366.8,352.2 379.8,362.4 370.2,320.5Z"/>
<path fill="#43ca8a" d="M366.8,352.2L377.2,364.5 390.1,363 379.8,362.4Z"/>
<path fill="#48cb86" d="M377.2,364.5L388.2,360.1 401.2,378.4 390.1,363Z"/>
<path fill="#36c799" d="M388.2,360.1L400,362.4 413,379.1 401.2,378.4Z"/>
<path fill="#38c895" d="M400,362.4L412.6,378.5 425.6,384.5 413,379.1Z"/>
<path fill="#36c898" d="M412.6,378.5L426.1,396 439.1,390.1 425.6,384.5Z"/>
<path fill="#35c79a" d="M426.1,396L440.5,396.4 453.5,396.7 439.1,390.1Z"/>
<path fill="#32c69e" d="M440.5,396.4L455.9,410.3 468.9,413.7 453.5,396.7Z"/>
<path fill="#24c1ae" d="M455.9,410.3L472.4,411.5 485.4,416.1 468.9,413.7Z"/>
<path fill="#27c2ab" d="M472.4,411.5L490,434.1 503,431.8 485.4,416.1Z"/>
<path fill="#14beb8" d="M490,434.1L508.8,461.1 521.8,450 503,431.8Z"/>
<path fill="#01b9c7" d="M508.8,461.1L528.9,458.2 541.9,463.2 521.8,450Z"/>
<path fill="#06b5cf" d="M528.9,458.2L550.4,485.1 563.4,475.3 541.9,463.2Z"/>
<path fill="#10b2d5" d="M550.4,485.1L573.4,498.2 586.4,485.1 563.4,475.3Z"/>
<path fill="#14b0d8" d="M573.4,498.2L598,513.3 610.9,506.1 586.4,485.1Z"/>
<path fill="#1fa6e2" d="M598,513.3L624.2,530.7 637.2,523.6 610.9,506.1Z"/>
<path fill="#249ee6" d="M624.2,530.7L652.3,538.7 665.3,542.4 637.2,523.6Z"/>
<path fill="#2895ec" d="M652.3,538.7L682.3,546.3 695.3,546.8 665.3,542.4Z"/>
<path fill="#2699e9" d="M682.3,546.3L714.4,551.2 727.4,558.1 695.3,546.8Z"/>
<path fill="#2797eb" d="M714.4,551.2L748.7,568 761.6,565.9 727.4,558.1Z"/>
<path fill="#2699e9" d="M748.7,568L785.3,602.8 798.3,605.2 761.6,565.9Z"/>
<path fill="#307ffb" d="M785.3,602.8L824.5,717.8 837.5,714.1 798.3,605.2Z"/>
<path fill="#3e26a8" d="M824.5,717.8L875.5,732.5 888.4,728.8 837.5,714.1Z"/>
<path fill="#3e26a8" d="M215.2,549.9L216,539.6 228.9,535.7 228.2,546.2Z"/>
<path fill="#412ebe" d="M216,539.6L216.8,530.1 229.8,528.3 228.9,535.7Z"/>
<path fill="#4433cc" d="M216.8,530.1L217.7,520.1 230.6,519.3 229.8,528.3Z"/>
<path fill="#463adb" d="M217.7,520.1L218.6,512.2 231.6,510.3 230.6,519.3Z"/>
<path fill="#4743e7" d="M218.6,512.2L219.6,502.6 232.6,500.6 231.6,510.3Z"/>
<path fill="#484cf0" d="M219.6,502.6L220.7,492.8 233.7,494.1 232.6,500.6Z"/>
<path fill="#4853f5" d="M220.7,492.8L221.8,484.7 234.8,482.1 233.7,494.1Z"/>
<path fill="#465ffb" d="M221.8,484.7L223.1,474.9 236,471.8 234.8,482.1Z"/>
<path fill="#4269fe" d="M223.1,474.9L224.4,463.2 237.3,461.1 236,471.8Z"/>
<path fill="#3975fe" d="M224.4,463.2L225.8,454.9 238.7,457 237.3,461.1Z"/>
<path fill="#347afd" d="M225.8,454.9L227.3,447.4 240.2,450 238.7,457Z"/>
<path fill="#2f81fa" d="M227.3,447.4L228.8,439.2 241.8,442.4 240.2,450Z"/>
<path fill="#2d89f6" d="M228.8,439.2L230.6,431.5 243.5,437.5 241.8,442.4Z"/>
<path fill="#2d8df2" d="M230.6,431.5L232.4,423.5 245.3,424 243.5,437.5Z"/>
<path fill="#2699e9" d="M232.4,423.5L234.3,414.4 247.3,411.4 245.3,424Z"/>
<path fill="#20a4e3" d="M234.3,414.4L236.4,401.1 249.4,405.4 247.3,411.4Z"/>
<path fill="#1ca9e0" d="M236.4,401.1L238.6,389.5 251.6,392.3 249.4,405.4Z"/>
<path fill="#0fb2d4" d="M238.6,389.5L241,376.9 254,388.2 251.6,392.3Z"/>
<path fill="#07b5cf" d="M241,376.9L243.6,367.2 256.5,377.6 254,388.2Z"/>
<path fill="#02bbc3" d="M243.6,367.2L246.3,362.6 259.3,352.1 256.5,377.6Z"/>
<path fill="#2fc5a3" d="M246.3,362.6L249.2,337.7 262.2,334.9 259.3,352.1Z"/>
<path fill="#45cb88" d="M249.2,337.7L252.3,331.8 265.3,326.2 262.2,334.9Z"/>
<path fill="#59cc78" d="M252.3,331.8L255.6,338.8 268.6,326.3 265.3,326.2Z"/>
<path fill="#5bcc76" d="M255.6,338.8L259.2,316.5 272.2,307 268.6,326.3Z"/>
<path fill="#8ccb50" d="M259.2,316.5L263,295.2 276,296.1 272.2,307Z"/>
<path fill="#a9c73a" d="M263,295.2L267.1,271.9 280,275.1 276,296.1Z"/>
<path fill="#d8be28" d="M267.1,271.9L271.4,285.9 284.4,272.1 280,275.1Z"/>
<path fill="#e0bc2a" d="M271.4,285.9L276,264 289,263.6 284.4,272.1Z"/>
<path fill="#f0ba36" d="M276,264L281,248.5 294,242.6 289,263.6Z"/>
<path fill="#fec834" d="M281,248.5L286.3,282.3 299.3,272.5 294,242.6Z"/>
<path fill="#e6bb2d" d="M286.3,282.3L292,319.1 304.9,326.1 299.3,272.5Z"/>
<path fill="#74cc62" d="M292,319.1L298,340.3 311,320.6 304.9,326.1Z"/>
<path fill="#87cb54" d="M298,340.3L304.5,332.3 317.5,355.7 311,320.6Z"/>
<path fill="#3dc990" d="M304.5,332.3L311.4,342.5 324.4,317.4 317.5,355.7Z"/>
<path fill="#98ca47" d="M311.4,342.5L318.8,354.8 331.8,361.8 324.4,317.4Z"/>
<path fill="#3ac993" d="M318.8,354.8L326.7,370.2 339.7,366.4 331.8,361.8Z"/>
<path fill="#37c897" d="M326.7,370.2L335.2,350.2 348.2,365.8 339.7,366.4Z"/>
<path fill="#3bc992" d="M335.2,350.2L344.2,361.1 357.2,351 348.2,365.8Z"/>
<path fill="#5dcc75" d="M344.2,361.1L353.9,377 366.8,352.2 357.2,351Z"/>
<path fill="#61cd72" d="M353.9,377L364.2,374.1 377.2,364.5 366.8,352.2Z"/>
<path fill="#4ccb83" d="M364.2,374.1L375.2,397.8 388.2,360.1 377.2,364.5Z"/>
<path fill="#5dcc75" d="M375.2,397.8L387,372.5 400,362.4 388.2,360.1Z"/>
<path fill="#5fcd73" d="M387,372.5L399.7,384 412.6,378.5 400,362.4Z"/>
<path fill="#45cb89" d="M399.7,384L413.1,398.3 426.1,396 412.6,378.5Z"/>
<path fill="#33c69e" d="M413.1,398.3L427.6,414.5 440.5,396.4 426.1,396Z"/>
<path fill="#36c898" d="M427.6,414.5L443,419.2 455.9,410.3 440.5,396.4Z"/>
<path fill="#2dc4a5" d="M443,419.2L459.4,443.1 472.4,411.5 455.9,410.3Z"/>
<path fill="#31c5a1" d="M459.4,443.1L477,444.1 490,434.1 472.4,411.5Z"/>
<path fill="#17bfb6" d="M477,444.1L495.8,459.2 508.8,461.1 490,434.1Z"/>
<path fill="#06b5cf" d="M495.8,459.2L516,469.9 528.9,458.2 508.8,461.1Z"/>
<path fill="#01bac5" d="M516,469.9L537.5,498.9 550.4,485.1 528.9,458.2Z"/>
<path fill="#17aeda" d="M537.5,498.9L560.4,507.3 573.4,498.2 550.4,485.1Z"/>
<path fill="#1ca9df" d="M560.4,507.3L585,514.2 598,513.3 573.4,498.2Z"/>
<path fill="#21a3e3" d="M585,514.2L611.3,528.7 624.2,530.7 598,513.3Z"/>
<path fill="#259be7" d="M611.3,528.7L639.3,537.4 652.3,538.7 624.2,530.7Z"/>
<path fill="#259be7" d="M639.3,537.4L669.4,548.1 682.3,546.3 652.3,538.7Z"/>
<path fill="#259ce7" d="M669.4,548.1L701.4,557.7 714.4,551.2 682.3,546.3Z"/>
<path fill="#23a0e5" d="M701.4,557.7L735.7,565.6 748.7,568 714.4,551.2Z"/>
<path fill="#269ae8" d="M735.7,565.6L772.4,605 785.3,602.8 748.7,568Z"/>
<path fill="#2e85f8" d="M772.4,605L811.5,721.5 824.5,717.8 785.3,602.8Z"/>
<path fill="#3e26a8" d="M811.5,721.5L862.5,736.2 875.5,732.5 824.5,717.8Z"/>
<path fill="#3e26a8" d="M202.2,553.6L203,542.8 216,539.6 215.2,549.9Z"/>
<path fill="#412dbd" d="M203,542.8L203.8,531.3 216.8,530.1 216,539.6Z"/>
<path fill="#4434cf" d="M203.8,531.3L204.7,523 217.7,520.1 216.8,530.1Z"/>
<path fill="#463ddf" d="M204.7,523L205.6,511.4 218.6,512.2 217.7,520.1Z"/>
<path fill="#4744e9" d="M205.6,511.4L206.6,500.8 219.6,502.6 218.6,512.2Z"/>
<path fill="#484ef1" d="M206.6,500.8L207.7,494.9 220.7,492.8 219.6,502.6Z"/>
<path fill="#4758f8" d="M207.7,494.9L208.9,485.2 221.8,484.7 220.7,492.8Z"/>
<path fill="#4660fb" d="M208.9,485.2L210.1,473.4 223.1,474.9 221.8,484.7Z"/>
<path fill="#426afe" d="M210.1,473.4L211.4,467.2 224.4,463.2 223.1,474.9Z"/>
<path fill="#3776fe" d="M211.4,467.2L212.8,454.6 225.8,454.9 224.4,463.2Z"/>
<path fill="#307ffb" d="M212.8,454.6L214.3,447 227.3,447.4 225.8,454.9Z"/>
<path fill="#2e87f7" d="M214.3,447L215.9,433.3 228.8,439.2 227.3,447.4Z"/>
<path fill="#2c8ff1" d="M215.9,433.3L217.6,424.3 230.6,431.5 228.8,439.2Z"/>
<path fill="#2896eb" d="M217.6,424.3L219.4,417.3 232.4,423.5 230.6,431.5Z"/>
<path fill="#259de7" d="M219.4,417.3L221.4,405 234.3,414.4 232.4,423.5Z"/>
<path fill="#20a5e3" d="M221.4,405L223.4,405.6 236.4,401.1 234.3,414.4Z"/>
<path fill="#16afda" d="M223.4,405.6L225.7,384 238.6,389.5 236.4,401.1Z"/>
<path fill="#05b6ce" d="M225.7,384L228.1,368.5 241,376.9 238.6,389.5Z"/>
<path fill="#08bcbf" d="M228.1,368.5L230.6,361.4 243.6,367.2 241,376.9Z"/>
<path fill="#1ec0b2" d="M230.6,361.4L233.3,342.6 246.3,362.6 243.6,367.2Z"/>
<path fill="#27c2ac" d="M233.3,342.6L236.2,334.9 249.2,337.7 246.3,362.6Z"/>
<path fill="#47cb87" d="M236.2,334.9L239.3,319.8 252.3,331.8 249.2,337.7Z"/>
<path fill="#55cc7b" d="M239.3,319.8L242.7,325.4 255.6,338.8 252.3,331.8Z"/>
<path fill="#48cb86" d="M242.7,325.4L246.2,303.9 259.2,316.5 255.6,338.8Z"/>
<path fill="#7ecc5b" d="M246.2,303.9L250,310.6 263,295.2 259.2,316.5Z"/>
<path fill="#b4c534" d="M250,310.6L254.1,284.9 267.1,271.9 263,295.2Z"/>
<path fill="#e4bb2c" d="M254.1,284.9L258.4,279.8 271.4,285.9 267.1,271.9Z"/>
<path fill="#cdc028" d="M258.4,279.8L263.1,270.4 276,264 271.4,285.9Z"/>
<path fill="#f4ba3a" d="M263.1,270.4L268,246.8 281,248.5 276,264Z"/>
<path fill="#fec636" d="M268,246.8L273.3,307 286.3,282.3 281,248.5Z"/>
<path fill="#dcbd29" d="M273.3,307L279,362.7 292,319.1 286.3,282.3Z"/>
<path fill="#8fcb4e" d="M279,362.7L285.1,313.9 298,340.3 292,319.1Z"/>
<path fill="#60cd73" d="M285.1,313.9L291.5,311.2 304.5,332.3 298,340.3Z"/>
<path fill="#77cc60" d="M291.5,311.2L298.5,328.3 311.4,342.5 304.5,332.3Z"/>
<path fill="#63cd70" d="M298.5,328.3L305.9,348.7 318.8,354.8 311.4,342.5Z"/>
<path fill="#4dcc82" d="M305.9,348.7L313.8,329 326.7,370.2 318.8,354.8Z"/>
<path fill="#37c897" d="M313.8,329L322.2,320.2 335.2,350.2 326.7,370.2Z"/>
<path fill="#61cd71" d="M322.2,320.2L331.3,367.1 344.2,361.1 335.2,350.2Z"/>
<path fill="#4fcc80" d="M331.3,367.1L340.9,369.8 353.9,377 344.2,361.1Z"/>
<path fill="#39c895" d="M340.9,369.8L351.2,377.3 364.2,374.1 353.9,377Z"/>
<path fill="#41ca8c" d="M351.2,377.3L362.3,376.4 375.2,397.8 364.2,374.1Z"/>
<path fill="#29c3a9" d="M362.3,376.4L374.1,373.4 387,372.5 375.2,397.8Z"/>
<path fill="#51cc7f" d="M374.1,373.4L386.7,395.1 399.7,384 387,372.5Z"/>
<path fill="#42ca8c" d="M386.7,395.1L400.2,382 413.1,398.3 399.7,384Z"/>
<path fill="#34c79c" d="M400.2,382L414.6,396.6 427.6,414.5 413.1,398.3Z"/>
<path fill="#27c2ac" d="M414.6,396.6L430,423.3 443,419.2 427.6,414.5Z"/>
<path fill="#27c2ac" d="M430,423.3L446.5,438.4 459.4,443.1 443,419.2Z"/>
<path fill="#03bbc3" d="M446.5,438.4L464.1,456.5 477,444.1 459.4,443.1Z"/>
<path fill="#09bcbe" d="M464.1,456.5L482.9,462.4 495.8,459.2 477,444.1Z"/>
<path fill="#01b8c9" d="M482.9,462.4L503,480.4 516,469.9 495.8,459.2Z"/>
<path fill="#06b6ce" d="M503,480.4L524.5,507.5 537.5,498.9 516,469.9Z"/>
<path fill="#1ea7e1" d="M524.5,507.5L547.5,511.7 560.4,507.3 537.5,498.9Z"/>
<path fill="#1fa5e2" d="M547.5,511.7L572,516.9 585,514.2 560.4,507.3Z"/>
<path fill="#1fa5e2" d="M572,516.9L598.3,529.7 611.3,528.7 585,514.2Z"/>
<path fill="#23a0e5" d="M598.3,529.7L626.4,544.6 639.3,537.4 611.3,528.7Z"/>
<path fill="#239fe5" d="M626.4,544.6L656.4,546.3 669.4,548.1 639.3,537.4Z"/>
<path fill="#249ee6" d="M656.4,546.3L688.5,557.5 701.4,557.7 669.4,548.1Z"/>
<path fill="#249de6" d="M688.5,557.5L722.7,576.4 735.7,565.6 701.4,557.7Z"/>
<path fill="#249fe5" d="M722.7,576.4L759.4,615.9 772.4,605 735.7,565.6Z"/>
<path fill="#2e86f7" d="M759.4,615.9L798.6,725.2 811.5,721.5 772.4,605Z"/>
<path fill="#3e26a8" d="M798.6,725.2L849.5,739.9 862.5,736.2 811.5,721.5Z"/>
<path fill="#3e26a8" d="M189.3,557.3L190,545.8 203,542.8 202.2,553.6Z"/>
<path fill="#412ebe" d="M190,545.8L190.9,535.9 203.8,531.3 203,542.8Z"/>
<path fill="#4536d4" d="M190.9,535.9L191.7,525.8 204.7,523 203.8,531.3Z"/>
<path fill="#463de0" d="M191.7,525.8L192.7,515 205.6,511.4 204.7,523Z"/>
<path fill="#4849ed" d="M192.7,515L193.7,501.3 206.6,500.8 205.6,511.4Z"/>
<path fill="#4853f5" d="M193.7,501.3L194.8,492.8 207.7,494.9 206.6,500.8Z"/>
<path fill="#4759f8" d="M194.8,492.8L195.9,483.3 208.9,485.2 207.7,494.9Z"/>
<path fill="#4563fc" d="M195.9,483.3L197.1,474.5 210.1,473.4 208.9,485.2Z"/>
<path fill="#3e6fff" d="M197.1,474.5L198.4,462.2 211.4,467.2 210.1,473.4Z"/>
<path fill="#3776fe" d="M198.4,462.2L199.8,453.6 212.8,454.6 211.4,467.2Z"/>
<path fill="#2e83f9" d="M199.8,453.6L201.3,442.2 214.3,447 212.8,454.6Z"/>
<path fill="#2d8bf4" d="M201.3,442.2L202.9,428.4 215.9,433.3 214.3,447Z"/>
<path fill="#2797eb" d="M202.9,428.4L204.6,420.8 217.6,424.3 215.9,433.3Z"/>
<path fill="#249fe6" d="M204.6,420.8L206.4,398.6 219.4,417.3 217.6,424.3Z"/>
<path fill="#20a5e2" d="M206.4,398.6L208.4,396.2 221.4,405 219.4,417.3Z"/>
<path fill="#17aeda" d="M208.4,396.2L210.5,390.4 223.4,405.6 221.4,405Z"/>
<path fill="#17aeda" d="M210.5,390.4L212.7,373.3 225.7,384 223.4,405.6Z"/>
<path fill="#02bac3" d="M212.7,373.3L215.1,368.7 228.1,368.5 225.7,384Z"/>
<path fill="#21c1b0" d="M215.1,368.7L217.6,359.5 230.6,361.4 228.1,368.5Z"/>
<path fill="#2cc4a7" d="M217.6,359.5L220.4,342.3 233.3,342.6 230.6,361.4Z"/>
<path fill="#43ca8a" d="M220.4,342.3L223.3,321.9 236.2,334.9 233.3,342.6Z"/>
<path fill="#55cc7c" d="M223.3,321.9L226.4,321.3 239.3,319.8 236.2,334.9Z"/>
<path fill="#7acc5e" d="M226.4,321.3L229.7,297.5 242.7,325.4 239.3,319.8Z"/>
<path fill="#6ecd66" d="M229.7,297.5L233.3,295.2 246.2,303.9 242.7,325.4Z"/>
<path fill="#a6c83d" d="M233.3,295.2L237.1,288.1 250,310.6 246.2,303.9Z"/>
<path fill="#98c947" d="M237.1,288.1L241.1,282 254.1,284.9 250,310.6Z"/>
<path fill="#d3bf27" d="M241.1,282L245.5,271.5 258.4,279.8 254.1,284.9Z"/>
<path fill="#dfbc2a" d="M245.5,271.5L250.1,251.5 263.1,270.4 258.4,279.8Z"/>
<path fill="#f0ba36" d="M250.1,251.5L255.1,225 268,246.8 263.1,270.4Z"/>
<path fill="#fdcc32" d="M255.1,225L260.4,343.9 273.3,307 268,246.8Z"/>
<path fill="#b1c636" d="M260.4,343.9L266,291.5 279,362.7 273.3,307Z"/>
<path fill="#39c895" d="M266,291.5L272.1,284.9 285.1,313.9 279,362.7Z"/>
<path fill="#a8c73b" d="M272.1,284.9L278.6,317.5 291.5,311.2 285.1,313.9Z"/>
<path fill="#b3c534" d="M278.6,317.5L285.5,298.5 298.5,328.3 291.5,311.2Z"/>
<path fill="#8fcb4e" d="M285.5,298.5L292.9,385 305.9,348.7 298.5,328.3Z"/>
<path fill="#62cd70" d="M292.9,385L300.8,346.6 313.8,329 305.9,348.7Z"/>
<path fill="#98c947" d="M300.8,346.6L309.3,360.3 322.2,320.2 313.8,329Z"/>
<path fill="#b3c534" d="M309.3,360.3L318.3,360.6 331.3,367.1 322.2,320.2Z"/>
<path fill="#4acb84" d="M318.3,360.6L328,337.9 340.9,369.8 331.3,367.1Z"/>
<path fill="#4acb84" d="M328,337.9L338.3,351.8 351.2,377.3 340.9,369.8Z"/>
<path fill="#42ca8b" d="M338.3,351.8L349.3,407.6 362.3,376.4 351.2,377.3Z"/>
<path fill="#4acb85" d="M349.3,407.6L361.1,392.9 374.1,373.4 362.3,376.4Z"/>
<path fill="#57cc7a" d="M361.1,392.9L373.7,370.5 386.7,395.1 374.1,373.4Z"/>
<path fill="#37c897" d="M373.7,370.5L387.2,401.9 400.2,382 386.7,395.1Z"/>
<path fill="#55cc7c" d="M387.2,401.9L401.6,426.8 414.6,396.6 400.2,382Z"/>
<path fill="#40ca8d" d="M401.6,426.8L417,423.8 430,423.3 414.6,396.6Z"/>
<path fill="#26c2ac" d="M417,423.8L433.5,441.4 446.5,438.4 430,423.3Z"/>
<path fill="#12beb9" d="M433.5,441.4L451.1,440.9 464.1,456.5 446.5,438.4Z"/>
<path fill="#01b9c8" d="M451.1,440.9L469.9,463.4 482.9,462.4 464.1,456.5Z"/>
<path fill="#01b8c8" d="M469.9,463.4L490,489.1 503,480.4 482.9,462.4Z"/>
<path fill="#10b2d5" d="M490,489.1L511.5,505 524.5,507.5 503,480.4Z"/>
<path fill="#21a3e3" d="M511.5,505L534.5,521.7 547.5,511.7 524.5,507.5Z"/>
<path fill="#20a5e2" d="M534.5,521.7L559.1,514.2 572,516.9 547.5,511.7Z"/>
<path fill="#1fa6e2" d="M559.1,514.2L585.3,523.9 598.3,529.7 572,516.9Z"/>
<path fill="#22a2e4" d="M585.3,523.9L613.4,537.5 626.4,544.6 598.3,529.7Z"/>
<path fill="#259de7" d="M613.4,537.5L643.4,550.3 656.4,546.3 626.4,544.6Z"/>
<path fill="#22a2e4" d="M643.4,550.3L675.5,566.4 688.5,557.5 656.4,546.3Z"/>
<path fill="#23a1e5" d="M675.5,566.4L709.8,583.9 722.7,576.4 688.5,557.5Z"/>
<path fill="#2699e9" d="M709.8,583.9L746.4,625.1 759.4,615.9 722.7,576.4Z"/>
<path fill="#307ffb" d="M746.4,625.1L785.6,728.9 798.6,725.2 759.4,615.9Z"/>
<path fill="#3e26a8" d="M785.6,728.9L836.6,743.6 849.5,739.9 798.6,725.2Z"/>
<path fill="#3e26a8" d="M176.3,561L177.1,547.8 190,545.8 189.3,557.3Z"/>
<path fill="#422ebf" d="M177.1,547.8L177.9,539.4 190.9,535.9 190,545.8Z"/>
<path fill="#4535d2" d="M177.9,539.4L178.8,527.2 191.7,525.8 190.9,535.9Z"/>
<path fill="#473ee1" d="M178.8,527.2L179.7,516.4 192.7,515 191.7,525.8Z"/>
<path fill="#4849ed" d="M179.7,516.4L180.7,502.6 193.7,501.3 192.7,515Z"/>
<path fill="#4756f7" d="M180.7,502.6L181.8,490.5 194.8,492.8 193.7,501.3Z"/>
<path fill="#465ffb" d="M181.8,490.5L182.9,478.8 195.9,483.3 194.8,492.8Z"/>
<path fill="#4369fe" d="M182.9,478.8L184.2,470.3 197.1,474.5 195.9,483.3Z"/>
<path fill="#3c72ff" d="M184.2,470.3L185.5,460 198.4,462.2 197.1,474.5Z"/>
<path fill="#307ffb" d="M185.5,460L186.9,444.2 199.8,453.6 198.4,462.2Z"/>
<path fill="#2d88f6" d="M186.9,444.2L188.4,430.9 201.3,442.2 199.8,453.6Z"/>
<path fill="#2a92ee" d="M188.4,430.9L190,420.9 202.9,428.4 201.3,442.2Z"/>
<path fill="#249ee6" d="M190,420.9L191.7,405.7 204.6,420.8 202.9,428.4Z"/>
<path fill="#20a5e3" d="M191.7,405.7L193.5,396.1 206.4,398.6 204.6,420.8Z"/>
<path fill="#09b4d1" d="M193.5,396.1L195.4,386.1 208.4,396.2 206.4,398.6Z"/>
<path fill="#06b6ce" d="M195.4,386.1L197.5,386.1 210.5,390.4 208.4,396.2Z"/>
<path fill="#01b9c7" d="M197.5,386.1L199.7,375.1 212.7,373.3 210.5,390.4Z"/>
<path fill="#1dc0b3" d="M199.7,375.1L202.1,363.4 215.1,368.7 212.7,373.3Z"/>
<path fill="#26c2ac" d="M202.1,363.4L204.7,340.9 217.6,359.5 215.1,368.7Z"/>
<path fill="#31c69f" d="M204.7,340.9L207.4,343.2 220.4,342.3 217.6,359.5Z"/>
<path fill="#4bcb84" d="M207.4,343.2L210.3,324.8 223.3,321.9 220.4,342.3Z"/>
<path fill="#7ccc5c" d="M210.3,324.8L213.4,307.1 226.4,321.3 223.3,321.9Z"/>
<path fill="#7fcc5a" d="M213.4,307.1L216.7,303.6 229.7,297.5 226.4,321.3Z"/>
<path fill="#bac430" d="M216.7,303.6L220.3,286.4 233.3,295.2 229.7,297.5Z"/>
<path fill="#c1c32c" d="M220.3,286.4L224.1,286.8 237.1,288.1 233.3,295.2Z"/>
<path fill="#d2bf27" d="M224.1,286.8L228.2,282.5 241.1,282 237.1,288.1Z"/>
<path fill="#dfbc2a" d="M228.2,282.5L232.5,267.9 245.5,271.5 241.1,282Z"/>
<path fill="#f2ba38" d="M232.5,267.9L237.1,246.2 250.1,251.5 245.5,271.5Z"/>
<path fill="#fec934" d="M237.1,246.2L242.1,231.8 255.1,225 250.1,251.5Z"/>
<path fill="#f5e725" d="M242.1,231.8L247.4,343 260.4,343.9 255.1,225Z"/>
<path fill="#60cd72" d="M247.4,343L253.1,341.1 266,291.5 260.4,343.9Z"/>
<path fill="#dbbd29" d="M253.1,341.1L259.1,327.9 272.1,284.9 266,291.5Z"/>
<path fill="#eabb30" d="M259.1,327.9L265.6,359.9 278.6,317.5 272.1,284.9Z"/>
<path fill="#adc638" d="M265.6,359.9L272.5,335.7 285.5,298.5 278.6,317.5Z"/>
<path fill="#d9be28" d="M272.5,335.7L279.9,378.5 292.9,385 285.5,298.5Z"/>
<path fill="#2ec4a4" d="M279.9,378.5L287.8,310.3 300.8,346.6 292.9,385Z"/>
<path fill="#76cc61" d="M287.8,310.3L296.3,373.8 309.3,360.3 300.8,346.6Z"/>
<path fill="#5bcc76" d="M296.3,373.8L305.3,360.3 318.3,360.6 309.3,360.3Z"/>
<path fill="#60cd72" d="M305.3,360.3L315,368.3 328,337.9 318.3,360.6Z"/>
<path fill="#9ec942" d="M315,368.3L325.3,351.5 338.3,351.8 328,337.9Z"/>
<path fill="#84cc56" d="M325.3,351.5L336.4,374.1 349.3,407.6 338.3,351.8Z"/>
<path fill="#26c2ad" d="M336.4,374.1L348.1,413.5 361.1,392.9 349.3,407.6Z"/>
<path fill="#3ac994" d="M348.1,413.5L360.8,392.5 373.7,370.5 361.1,392.9Z"/>
<path fill="#6fcd66" d="M360.8,392.5L374.2,408.1 387.2,401.9 373.7,370.5Z"/>
<path fill="#38c896" d="M374.2,408.1L388.7,422.4 401.6,426.8 387.2,401.9Z"/>
<path fill="#1fc0b1" d="M388.7,422.4L404.1,441.6 417,423.8 401.6,426.8Z"/>
<path fill="#2ac3a8" d="M404.1,441.6L420.5,439.6 433.5,441.4 417,423.8Z"/>
<path fill="#14beb8" d="M420.5,439.6L438.1,449.7 451.1,440.9 433.5,441.4Z"/>
<path fill="#1fc1b1" d="M438.1,449.7L457,473 469.9,463.4 451.1,440.9Z"/>
<path fill="#01bac5" d="M457,473L477.1,485 490,489.1 469.9,463.4Z"/>
<path fill="#16aeda" d="M477.1,485L498.6,497.6 511.5,505 490,489.1Z"/>
<path fill="#1ea8e1" d="M498.6,497.6L521.5,504.8 534.5,521.7 511.5,505Z"/>
<path fill="#23a0e5" d="M521.5,504.8L546.1,520.6 559.1,514.2 534.5,521.7Z"/>
<path fill="#1babde" d="M546.1,520.6L572.4,524.5 585.3,523.9 559.1,514.2Z"/>
<path fill="#1ca9df" d="M572.4,524.5L600.4,538.8 613.4,537.5 585.3,523.9Z"/>
<path fill="#1fa5e2" d="M600.4,538.8L630.5,549.4 643.4,550.3 613.4,537.5Z"/>
<path fill="#22a2e4" d="M630.5,549.4L662.5,570.4 675.5,566.4 643.4,550.3Z"/>
<path fill="#259ce7" d="M662.5,570.4L696.8,580 709.8,583.9 675.5,566.4Z"/>
<path fill="#2796eb" d="M696.8,580L733.5,629.4 746.4,625.1 709.8,583.9Z"/>
<path fill="#347afd" d="M733.5,629.4L772.6,732.6 785.6,728.9 746.4,625.1Z"/>
<path fill="#3e26a8" d="M772.6,732.6L823.6,747.3 836.6,743.6 785.6,728.9Z"/>
<path fill="#3e26a8" d="M163.3,564.7L164.1,552.9 177.1,547.8 176.3,561Z"/>
<path fill="#422fc3" d="M164.1,552.9L164.9,542.9 177.9,539.4 177.1,547.8Z"/>
<path fill="#4536d3" d="M164.9,542.9L165.8,533.4 178.8,527.2 177.9,539.4Z"/>
<path fill="#4740e4" d="M165.8,533.4L166.7,520.6 179.7,516.4 178.8,527.2Z"/>
<path fill="#484bef" d="M166.7,520.6L167.8,511.8 180.7,502.6 179.7,516.4Z"/>
<path fill="#4759f8" d="M167.8,511.8L168.8,499.8 181.8,490.5 180.7,502.6Z"/>
<path fill="#4465fd" d="M168.8,499.8L170,488.6 182.9,478.8 181.8,490.5Z"/>
<path fill="#3d71ff" d="M170,488.6L171.2,478.7 184.2,470.3 182.9,478.8Z"/>
<path fill="#337afd" d="M171.2,478.7L172.5,468.8 185.5,460 184.2,470.3Z"/>
<path fill="#2e85f8" d="M172.5,468.8L173.9,459.6 186.9,444.2 185.5,460Z"/>
<path fill="#2a93ed" d="M173.9,459.6L175.4,447.5 188.4,430.9 186.9,444.2Z"/>
<path fill="#249fe6" d="M175.4,447.5L177,431.8 190,420.9 188.4,430.9Z"/>
<path fill="#1ea7e1" d="M177,431.8L178.7,427 191.7,405.7 190,420.9Z"/>
<path fill="#10b2d5" d="M178.7,427L180.5,414.3 193.5,396.1 191.7,405.7Z"/>
<path fill="#02b7cb" d="M180.5,414.3L182.5,399.3 195.4,386.1 193.5,396.1Z"/>
<path fill="#08bcbf" d="M182.5,399.3L184.6,398.6 197.5,386.1 195.4,386.1Z"/>
<path fill="#09bcbe" d="M184.6,398.6L186.8,392.4 199.7,375.1 197.5,386.1Z"/>
<path fill="#21c1b0" d="M186.8,392.4L189.2,373.9 202.1,363.4 199.7,375.1Z"/>
<path fill="#31c5a1" d="M189.2,373.9L191.7,366.6 204.7,340.9 202.1,363.4Z"/>
<path fill="#54cc7c" d="M191.7,366.6L194.4,342.1 207.4,343.2 204.7,340.9Z"/>
<path fill="#51cc7f" d="M194.4,342.1L197.3,331.3 210.3,324.8 207.4,343.2Z"/>
<path fill="#7ecc5b" d="M197.3,331.3L200.5,320.5 213.4,307.1 210.3,324.8Z"/>
<path fill="#abc739" d="M200.5,320.5L203.8,327 216.7,303.6 213.4,307.1Z"/>
<path fill="#b5c533" d="M203.8,327L207.3,333.5 220.3,286.4 216.7,303.6Z"/>
<path fill="#dabd28" d="M207.3,333.5L211.1,302.7 224.1,286.8 220.3,286.4Z"/>
<path fill="#dbbd29" d="M211.1,302.7L215.2,300.2 228.2,282.5 224.1,286.8Z"/>
<path fill="#e5bb2d" d="M215.2,300.2L219.5,292.4 232.5,267.9 228.2,282.5Z"/>
<path fill="#fbbc3d" d="M219.5,292.4L224.2,279.2 237.1,246.2 232.5,267.9Z"/>
<path fill="#fbd32f" d="M224.2,279.2L229.1,261.9 242.1,231.8 237.1,246.2Z"/>
<path fill="#f5e427" d="M229.1,261.9L234.4,317.7 247.4,343 242.1,231.8Z"/>
<path fill="#6bcd69" d="M234.4,317.7L240.1,305.6 253.1,341.1 247.4,343Z"/>
<path fill="#74cd62" d="M240.1,305.6L246.2,314.6 259.1,327.9 253.1,341.1Z"/>
<path fill="#99c946" d="M246.2,314.6L252.6,357.4 265.6,359.9 259.1,327.9Z"/>
<path fill="#51cc7f" d="M252.6,357.4L259.6,315.8 272.5,335.7 265.6,359.9Z"/>
<path fill="#8fcb4e" d="M259.6,315.8L267,414.3 279.9,378.5 272.5,335.7Z"/>
<path fill="#38c896" d="M267,414.3L274.9,383 287.8,310.3 279.9,378.5Z"/>
<path fill="#d2bf27" d="M274.9,383L283.3,399.7 296.3,373.8 287.8,310.3Z"/>
<path fill="#47cb87" d="M283.3,399.7L292.4,404.9 305.3,360.3 296.3,373.8Z"/>
<path fill="#6acd6a" d="M292.4,404.9L302,392.2 315,368.3 305.3,360.3Z"/>
<path fill="#5ecc74" d="M302,392.2L312.3,369.6 325.3,351.5 315,368.3Z"/>
<path fill="#8ecb4f" d="M312.3,369.6L323.4,390.2 336.4,374.1 325.3,351.5Z"/>
<path fill="#5ecd74" d="M323.4,390.2L335.2,448.1 348.1,413.5 336.4,374.1Z"/>
<path fill="#28c2ab" d="M335.2,448.1L347.8,405.1 360.8,392.5 348.1,413.5Z"/>
<path fill="#46cb88" d="M347.8,405.1L361.3,374.8 374.2,408.1 360.8,392.5Z"/>
<path fill="#35c79a" d="M361.3,374.8L375.7,420.7 388.7,422.4 374.2,408.1Z"/>
<path fill="#2bc3a8" d="M375.7,420.7L391.1,433.5 404.1,441.6 388.7,422.4Z"/>
<path fill="#11beb9" d="M391.1,433.5L407.6,440.4 420.5,439.6 404.1,441.6Z"/>
<path fill="#1fc0b1" d="M407.6,440.4L425.2,441.2 438.1,449.7 420.5,439.6Z"/>
<path fill="#15bfb7" d="M425.2,441.2L444,466.5 457,473 438.1,449.7Z"/>
<path fill="#03b7cc" d="M444,466.5L464.1,472.5 477.1,485 457,473Z"/>
<path fill="#0bb3d2" d="M464.1,472.5L485.6,496.8 498.6,497.6 477.1,485Z"/>
<path fill="#15afd8" d="M485.6,496.8L508.6,507.3 521.5,504.8 498.6,497.6Z"/>
<path fill="#15afd9" d="M508.6,507.3L533.1,519.6 546.1,520.6 521.5,504.8Z"/>
<path fill="#1da9e0" d="M533.1,519.6L559.4,523.3 572.4,524.5 546.1,520.6Z"/>
<path fill="#1aacdd" d="M559.4,523.3L587.5,535.4 600.4,538.8 572.4,524.5Z"/>
<path fill="#1ea7e1" d="M587.5,535.4L617.5,556.4 630.5,549.4 600.4,538.8Z"/>
<path fill="#1fa6e2" d="M617.5,556.4L649.6,561.4 662.5,570.4 630.5,549.4Z"/>
<path fill="#259ce7" d="M649.6,561.4L683.8,579.6 696.8,580 662.5,570.4Z"/>
<path fill="#259ce7" d="M683.8,579.6L720.5,633.6 733.5,629.4 696.8,580Z"/>
<path fill="#3479fd" d="M720.5,633.6L759.7,736.3 772.6,732.6 733.5,629.4Z"/>
<path fill="#3e26a8" d="M759.7,736.3L810.6,751 823.6,747.3 772.6,732.6Z"/>
<path fill="#3e26a8" d="M150.4,568.4L151.2,558.2 164.1,552.9 163.3,564.7Z"/>
<path fill="#422fc0" d="M151.2,558.2L152,547.1 164.9,542.9 164.1,552.9Z"/>
<path fill="#4536d3" d="M152,547.1L152.8,535.3 165.8,533.4 164.9,542.9Z"/>
<path fill="#473ee1" d="M152.8,535.3L153.8,522.6 166.7,520.6 165.8,533.4Z"/>
<path fill="#484bee" d="M153.8,522.6L154.8,509.1 167.8,511.8 166.7,520.6Z"/>
<path fill="#4853f5" d="M154.8,509.1L155.9,494.6 168.8,499.8 167.8,511.8Z"/>
<path fill="#465ffb" d="M155.9,494.6L157,479.1 170,488.6 168.8,499.8Z"/>
<path fill="#416bfe" d="M157,479.1L158.2,466.4 171.2,478.7 170,488.6Z"/>
<path fill="#3875fe" d="M158.2,466.4L159.5,454.2 172.5,468.8 171.2,478.7Z"/>
<path fill="#3080fa" d="M159.5,454.2L160.9,441.2 173.9,459.6 172.5,468.8Z"/>
<path fill="#2d89f5" d="M160.9,441.2L162.4,427.3 175.4,447.5 173.9,459.6Z"/>
<path fill="#2994ed" d="M162.4,427.3L164,412.4 177,431.8 175.4,447.5Z"/>
<path fill="#22a1e4" d="M164,412.4L165.7,396.5 178.7,427 177,431.8Z"/>
<path fill="#1fa5e2" d="M165.7,396.5L167.5,379.5 180.5,414.3 178.7,427Z"/>
<path fill="#16afd9" d="M167.5,379.5L169.5,374.6 182.5,399.3 180.5,414.3Z"/>
<path fill="#01b8ca" d="M169.5,374.6L171.6,369.8 184.6,398.6 182.5,399.3Z"/>
<path fill="#01b8c8" d="M171.6,369.8L173.8,364.7 186.8,392.4 184.6,398.6Z"/>
<path fill="#06bcc0" d="M173.8,364.7L176.2,359.2 189.2,373.9 186.8,392.4Z"/>
<path fill="#29c3a9" d="M176.2,359.2L178.7,353.3 191.7,366.6 189.2,373.9Z"/>
<path fill="#32c69f" d="M178.7,353.3L181.5,347 194.4,342.1 191.7,366.6Z"/>
<path fill="#5bcc76" d="M181.5,347L184.4,340.3 197.3,331.3 194.4,342.1Z"/>
<path fill="#77cc60" d="M184.4,340.3L187.5,333.2 200.5,320.5 197.3,331.3Z"/>
<path fill="#94ca4a" d="M187.5,333.2L190.8,329.5 203.8,327 200.5,320.5Z"/>
<path fill="#86cb55" d="M190.8,329.5L194.4,325.8 207.3,333.5 203.8,327Z"/>
<path fill="#78cc5f" d="M194.4,325.8L198.2,321.9 211.1,302.7 207.3,333.5Z"/>
<path fill="#c4c22b" d="M198.2,321.9L202.2,317.4 215.2,300.2 211.1,302.7Z"/>
<path fill="#cbc029" d="M202.2,317.4L206.6,312.2 219.5,292.4 215.2,300.2Z"/>
<path fill="#ddbd29" d="M206.6,312.2L211.2,306.7 224.2,279.2 219.5,292.4Z"/>
<path fill="#f4ba39" d="M211.2,306.7L216.2,301.9 229.1,261.9 224.2,279.2Z"/>
<path fill="#fec735" d="M216.2,301.9L221.5,290.3 234.4,317.7 229.1,261.9Z"/>
<path fill="#b1c635" d="M221.5,290.3L227.1,349.8 240.1,305.6 234.4,317.7Z"/>
<path fill="#cfc028" d="M227.1,349.8L233.2,334.6 246.2,314.6 240.1,305.6Z"/>
<path fill="#c0c32d" d="M233.2,334.6L239.7,320.4 252.6,357.4 246.2,314.6Z"/>
<path fill="#5fcd73" d="M239.7,320.4L246.6,377.2 259.6,315.8 252.6,357.4Z"/>
<path fill="#c5c22a" d="M246.6,377.2L254,358.3 267,414.3 259.6,315.8Z"/>
<path fill="#08bcbf" d="M254,358.3L261.9,340.7 274.9,383 267,414.3Z"/>
<path fill="#3ac994" d="M261.9,340.7L270.4,393.9 283.3,399.7 274.9,383Z"/>
<path fill="#2bc3a8" d="M270.4,393.9L279.4,373.3 292.4,404.9 283.3,399.7Z"/>
<path fill="#28c2ab" d="M279.4,373.3L289.1,356.8 302,392.2 292.4,404.9Z"/>
<path fill="#38c896" d="M289.1,356.8L299.4,411.1 312.3,369.6 302,392.2Z"/>
<path fill="#6acd6a" d="M299.4,411.1L310.4,392 323.4,390.2 312.3,369.6Z"/>
<path fill="#44cb89" d="M310.4,392L322.2,377 335.2,448.1 323.4,390.2Z"/>
<path fill="#06b5cf" d="M322.2,377L334.8,433 347.8,405.1 335.2,448.1Z"/>
<path fill="#38c896" d="M334.8,433L348.3,415.3 361.3,374.8 347.8,405.1Z"/>
<path fill="#80cc59" d="M348.3,415.3L362.7,401.7 375.7,420.7 361.3,374.8Z"/>
<path fill="#31c6a0" d="M362.7,401.7L378.1,433.3 391.1,433.5 375.7,420.7Z"/>
<path fill="#27c2ab" d="M378.1,433.3L394.6,443.2 407.6,440.4 391.1,433.5Z"/>
<path fill="#25c2ae" d="M394.6,443.2L412.2,453.6 425.2,441.2 407.6,440.4Z"/>
<path fill="#2ac3a9" d="M412.2,453.6L431,464.8 444,466.5 425.2,441.2Z"/>
<path fill="#06bbc1" d="M431,464.8L451.1,496.9 464.1,472.5 444,466.5Z"/>
<path fill="#05bbc1" d="M451.1,496.9L472.6,514.1 485.6,496.8 464.1,472.5Z"/>
<path fill="#0fb2d4" d="M472.6,514.1L495.6,524.1 508.6,507.3 485.6,496.8Z"/>
<path fill="#14b0d8" d="M495.6,524.1L520.2,520.8 533.1,519.6 508.6,507.3Z"/>
<path fill="#19acdc" d="M520.2,520.8L546.4,547.4 559.4,523.3 533.1,519.6Z"/>
<path fill="#16afd9" d="M546.4,547.4L574.5,557 587.5,535.4 559.4,523.3Z"/>
<path fill="#19acdc" d="M574.5,557L604.5,567.3 617.5,556.4 587.5,535.4Z"/>
<path fill="#21a3e3" d="M604.5,567.3L636.6,566.7 649.6,561.4 617.5,556.4Z"/>
<path fill="#1fa6e1" d="M636.6,566.7L670.9,575.9 683.8,579.6 649.6,561.4Z"/>
<path fill="#23a0e5" d="M670.9,575.9L707.5,629.4 720.5,633.6 683.8,579.6Z"/>
<path fill="#3579fd" d="M707.5,629.4L746.7,740 759.7,736.3 720.5,633.6Z"/>
<path fill="#3e26a8" d="M746.7,740L797.7,754.7 810.6,751 759.7,736.3Z"/>
</g>
<text class="t" x="115.3" y="578.8" font-size="42.3" text-anchor="end">0</text>
<text class="t" x="115.3" y="393.5" font-size="42.3" text-anchor="end">0.5</text>
<text class="t" x="115.3" y="208.2" font-size="42.3" text-anchor="end">1</text>
<text class="t" x="115.3" y="619.3" font-size="42.3" text-anchor="end">0</text>
<text class="t" x="277.1" y="665.9" font-size="42.3" text-anchor="end">1</text>
<text class="t" x="439" y="712.5" font-size="42.3" text-anchor="end">2</text>
<text class="t" x="600.8" y="759" font-size="42.3" text-anchor="end">3</text>
<text class="t" x="762.6" y="805.6" font-size="42.3" text-anchor="end">4</text>
<text class="t" x="820" y="805" font-size="42.3" text-anchor="start">-1</text>
<text class="t" x="982.1" y="758.8" font-size="42.3" text-anchor="start">-0.5</text>
<text class="t" x="1144.2" y="712.6" font-size="42.3" text-anchor="start">0</text>
<text class="t" x="1306.2" y="666.4" font-size="42.3" text-anchor="start">0.5</text>
<text class="t" x="1468.3" y="620.2" font-size="42.3" text-anchor="start">1</text>
<text class="t" x="123.5" y="738" font-size="42.3">×<tspan dx="5">10</tspan><tspan dy="-21.5" dx="1.5" font-size="32.1">6</tspan></text>
<text class="m" x="485" y="814.6" font-size="46" text-anchor="middle" letter-spacing="5">E/eV</text>
<text class="m" x="1105" y="814" font-size="45" text-anchor="middle">λ</text>
<text class="m" font-size="45" text-anchor="middle" transform="translate(33,388) rotate(-90)">f</text>
<defs><linearGradient id="cb" x1="0" y1="0" x2="0" y2="1"><stop offset="0%" stop-color="#f9fb15"/><stop offset="1.6%" stop-color="#f7f51b"/><stop offset="3.2%" stop-color="#f6ef20"/><stop offset="4.8%" stop-color="#f5e924"/><stop offset="6.3%" stop-color="#f5e327"/><stop offset="7.9%" stop-color="#f7dc2a"/><stop offset="9.5%" stop-color="#fad62d"/><stop offset="11.1%" stop-color="#fccf30"/><stop offset="12.7%" stop-color="#fec934"/><stop offset="14.3%" stop-color="#fec338"/><stop offset="15.9%" stop-color="#febe3c"/><stop offset="17.5%" stop-color="#f8ba3d"/><stop offset="19%" stop-color="#f0ba36"/><stop offset="20.6%" stop-color="#e6bb2d"/><stop offset="22.2%" stop-color="#dcbd29"/><stop offset="23.8%" stop-color="#d1bf27"/><stop offset="25.4%" stop-color="#c5c22a"/><stop offset="27%" stop-color="#b9c431"/><stop offset="28.6%" stop-color="#abc739"/><stop offset="30.2%" stop-color="#9dc943"/><stop offset="31.7%" stop-color="#8fcb4e"/><stop offset="33.3%" stop-color="#81cc59"/><stop offset="34.9%" stop-color="#72cd64"/><stop offset="36.5%" stop-color="#64cd6f"/><stop offset="38.1%" stop-color="#57cc7a"/><stop offset="39.7%" stop-color="#4acb84"/><stop offset="41.3%" stop-color="#3fca8e"/><stop offset="42.9%" stop-color="#37c897"/><stop offset="44.4%" stop-color="#31c69f"/><stop offset="46%" stop-color="#2cc4a7"/><stop offset="47.6%" stop-color="#24c1ae"/><stop offset="49.2%" stop-color="#19bfb6"/><stop offset="50.8%" stop-color="#0bbdbd"/><stop offset="52.4%" stop-color="#02bac3"/><stop offset="54%" stop-color="#01b8ca"/><stop offset="55.6%" stop-color="#08b5d0"/><stop offset="57.1%" stop-color="#12b1d6"/><stop offset="58.7%" stop-color="#18addb"/><stop offset="60.3%" stop-color="#1ca9df"/><stop offset="61.9%" stop-color="#20a5e3"/><stop offset="63.5%" stop-color="#23a0e5"/><stop offset="65.1%" stop-color="#259be8"/><stop offset="66.7%" stop-color="#2797eb"/><stop offset="68.3%" stop-color="#2b91ef"/><stop offset="69.8%" stop-color="#2d8cf3"/><stop offset="71.4%" stop-color="#2e87f7"/><stop offset="73%" stop-color="#2f81fa"/><stop offset="74.6%" stop-color="#327cfc"/><stop offset="76.2%" stop-color="#3875fe"/><stop offset="77.8%" stop-color="#3e6fff"/><stop offset="79.4%" stop-color="#4269fe"/><stop offset="81%" stop-color="#4563fd"/><stop offset="82.5%" stop-color="#465efb"/><stop offset="84.1%" stop-color="#4758f8"/><stop offset="85.7%" stop-color="#4852f4"/><stop offset="87.3%" stop-color="#484df0"/><stop offset="88.9%" stop-color="#4747eb"/><stop offset="90.5%" stop-color="#4741e5"/><stop offset="92.1%" stop-color="#463cde"/><stop offset="93.7%" stop-color="#4537d5"/><stop offset="95.2%" stop-color="#4332cb"/><stop offset="96.8%" stop-color="#422ec0"/><stop offset="98.4%" stop-color="#402ab4"/><stop offset="100%" stop-color="#3e26a8"/></linearGradient></defs>
<rect x="1503.4" y="14.8" width="36.4" height="740.7" fill="url(#cb)" stroke="#262626" stroke-width="1.4"/>
<text class="t" x="1552.3" y="770.4" font-size="38.1" text-anchor="start">0</text>
<text class="t" x="1552.3" y="622.3" font-size="38.1" text-anchor="start">0.2</text>
<text class="t" x="1552.3" y="474.1" font-size="38.1" text-anchor="start">0.4</text>
<text class="t" x="1552.3" y="326" font-size="38.1" text-anchor="start">0.6</text>
<text class="t" x="1552.3" y="177.8" font-size="38.1" text-anchor="start">0.8</text>
<text class="t" x="1552.3" y="29.7" font-size="38.1" text-anchor="start">1</text>
<path class="a" d="M1529.8,607.4L1539.8,607.4M1529.8,459.2L1539.8,459.2M1529.8,311.1L1539.8,311.1M1529.8,162.9L1539.8,162.9"/>
</svg></body></html>
